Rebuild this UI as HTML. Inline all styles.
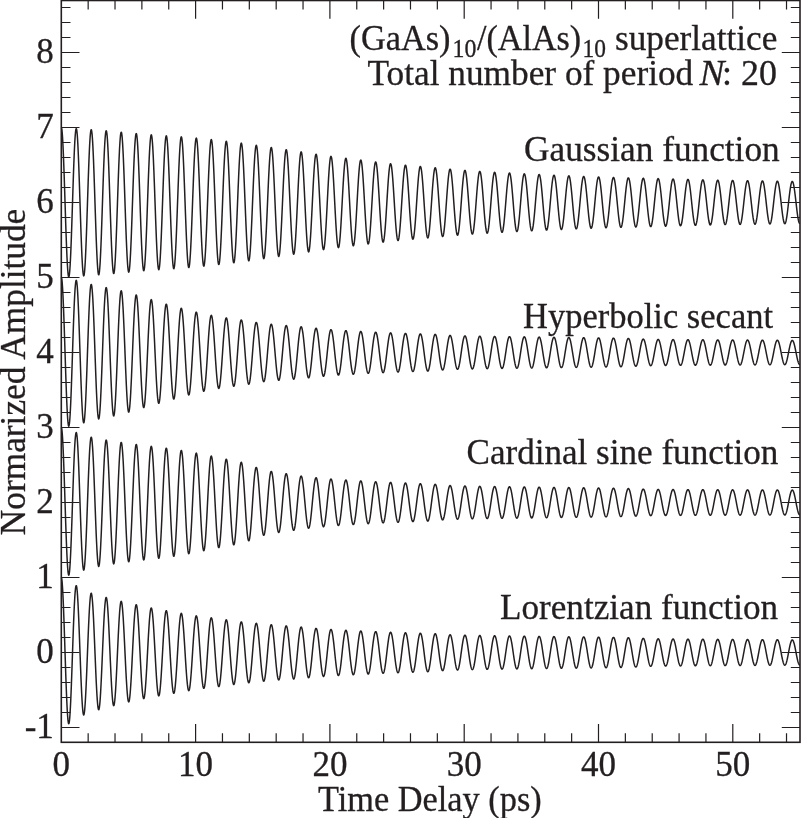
<!DOCTYPE html>
<html><head><meta charset="utf-8"><style>
html,body{margin:0;padding:0;background:#fff;}
svg{display:block;}
text{font-family:"Liberation Serif","Times New Roman",serif;fill:#231f20;stroke:#231f20;stroke-width:0.3px;}
</style></head><body>
<svg width="801" height="818" viewBox="0 0 801 818">
<rect width="801" height="818" fill="#fff"/>
<g fill="none" stroke="#231f20" stroke-width="1.5" stroke-linejoin="round"><polyline points="61.30,127.50 61.55,127.92 61.79,129.13 62.04,131.13 62.29,133.88 62.53,137.38 62.78,141.56 63.02,146.40 63.27,151.83 63.52,157.81 63.76,164.26 64.01,171.11 64.26,178.30 64.50,185.74 64.75,193.36 64.99,201.07 65.24,208.80 65.49,216.45 65.73,223.95 65.98,231.22 66.23,238.17 66.47,244.75 66.72,250.86 66.96,256.46 67.21,261.48 67.46,265.87 67.70,269.57 67.95,272.56 68.20,274.80 68.44,276.26 68.69,276.93 68.94,276.81 69.18,275.90 69.43,274.19 69.67,271.73 69.92,268.52 70.17,264.62 70.41,260.05 70.66,254.86 70.91,249.12 71.15,242.89 71.40,236.22 71.64,229.20 71.89,221.90 72.14,214.39 72.38,206.76 72.63,199.08 72.88,191.45 73.12,183.94 73.37,176.63 73.61,169.60 73.86,162.93 74.11,156.68 74.35,150.93 74.60,145.73 74.85,141.13 75.09,137.20 75.34,133.96 75.59,131.46 75.83,129.72 76.08,128.76 76.32,128.58 76.57,129.19 76.82,130.59 77.06,132.76 77.31,135.66 77.56,139.28 77.80,143.58 78.05,148.50 78.29,153.99 78.54,160.01 78.79,166.47 79.03,173.31 79.28,180.46 79.53,187.84 79.77,195.38 80.02,202.99 80.27,210.58 80.51,218.09 80.76,225.43 81.00,232.52 81.25,239.29 81.50,245.66 81.74,251.56 81.99,256.94 82.24,261.74 82.48,265.90 82.73,269.38 82.97,272.15 83.22,274.17 83.47,275.42 83.71,275.90 83.96,275.59 84.21,274.51 84.45,272.65 84.70,270.05 84.94,266.73 85.19,262.72 85.44,258.08 85.68,252.84 85.93,247.07 86.18,240.83 86.42,234.18 86.67,227.19 86.92,219.95 87.16,212.52 87.41,205.00 87.65,197.44 87.90,189.95 88.15,182.59 88.39,175.45 88.64,168.61 88.89,162.12 89.13,156.07 89.38,150.52 89.62,145.53 89.87,141.15 90.12,137.42 90.36,134.39 90.61,132.08 90.86,130.53 91.10,129.75 91.35,129.74 91.59,130.51 91.84,132.05 92.09,134.33 92.33,137.34 92.58,141.04 92.83,145.40 93.07,150.36 93.32,155.88 93.57,161.89 93.81,168.33 94.06,175.13 94.30,182.21 94.55,189.51 94.80,196.95 95.04,204.44 95.29,211.91 95.54,219.27 95.78,226.45 96.03,233.37 96.27,239.96 96.52,246.15 96.77,251.86 97.01,257.06 97.26,261.66 97.51,265.64 97.75,268.94 98.00,271.53 98.24,273.38 98.49,274.48 98.74,274.82 98.98,274.38 99.23,273.18 99.48,271.23 99.72,268.54 99.97,265.16 100.22,261.11 100.46,256.44 100.71,251.19 100.95,245.43 101.20,239.22 101.45,232.62 101.69,225.70 101.94,218.54 102.19,211.22 102.43,203.80 102.68,196.38 102.92,189.02 103.17,181.81 103.42,174.82 103.66,168.14 103.91,161.82 104.16,155.94 104.40,150.55 104.65,145.72 104.89,141.50 105.14,137.93 105.39,135.05 105.63,132.89 105.88,131.46 106.13,130.80 106.37,130.89 106.62,131.75 106.87,133.36 107.11,135.70 107.36,138.76 107.60,142.48 107.85,146.85 108.10,151.80 108.34,157.29 108.59,163.25 108.84,169.63 109.08,176.35 109.33,183.35 109.57,190.55 109.82,197.87 110.07,205.23 110.31,212.56 110.56,219.78 110.81,226.81 111.05,233.57 111.30,240.01 111.54,246.04 111.79,251.60 112.04,256.64 112.28,261.10 112.53,264.93 112.78,268.10 113.02,270.57 113.27,272.32 113.52,273.32 113.76,273.57 114.01,273.07 114.25,271.81 114.50,269.83 114.75,267.12 114.99,263.74 115.24,259.71 115.49,255.07 115.73,249.87 115.98,244.18 116.22,238.05 116.47,231.55 116.72,224.74 116.96,217.70 117.21,210.51 117.46,203.23 117.70,195.95 117.95,188.75 118.20,181.70 118.44,174.87 118.69,168.34 118.93,162.18 119.18,156.45 119.43,151.21 119.67,146.52 119.92,142.43 120.17,138.97 120.41,136.20 120.66,134.13 120.90,132.78 121.15,132.18 121.40,132.32 121.64,133.20 121.89,134.83 122.14,137.16 122.38,140.19 122.63,143.88 122.87,148.19 123.12,153.07 123.37,158.47 123.61,164.33 123.86,170.60 124.11,177.20 124.35,184.06 124.60,191.12 124.85,198.29 125.09,205.50 125.34,212.67 125.58,219.73 125.83,226.60 126.08,233.21 126.32,239.49 126.57,245.38 126.82,250.81 127.06,255.72 127.31,260.06 127.55,263.79 127.80,266.87 128.05,269.26 128.29,270.94 128.54,271.90 128.79,272.12 129.03,271.60 129.28,270.35 129.52,268.38 129.77,265.71 130.02,262.38 130.26,258.41 130.51,253.86 130.76,248.76 131.00,243.18 131.25,237.17 131.50,230.79 131.74,224.12 131.99,217.23 132.23,210.18 132.48,203.06 132.73,195.93 132.97,188.88 133.22,181.98 133.47,175.31 133.71,168.92 133.96,162.89 134.20,157.29 134.45,152.17 134.70,147.59 134.94,143.59 135.19,140.22 135.44,137.52 135.68,135.50 135.93,134.19 136.17,133.61 136.42,133.76 136.67,134.63 136.91,136.23 137.16,138.52 137.41,141.50 137.65,145.12 137.90,149.34 138.15,154.12 138.39,159.42 138.64,165.16 138.88,171.30 139.13,177.77 139.38,184.49 139.62,191.40 139.87,198.42 140.12,205.48 140.36,212.51 140.61,219.42 140.85,226.16 141.10,232.63 141.35,238.79 141.59,244.55 141.84,249.87 142.09,254.68 142.33,258.93 142.58,262.59 142.82,265.60 143.07,267.95 143.32,269.60 143.56,270.53 143.81,270.75 144.06,270.24 144.30,269.02 144.55,267.09 144.80,264.48 145.04,261.22 145.29,257.33 145.53,252.86 145.78,247.87 146.03,242.39 146.27,236.50 146.52,230.25 146.77,223.71 147.01,216.95 147.26,210.04 147.50,203.05 147.75,196.07 148.00,189.15 148.24,182.38 148.49,175.83 148.74,169.56 148.98,163.65 149.23,158.15 149.47,153.12 149.72,148.62 149.97,144.69 150.21,141.38 150.46,138.72 150.71,136.73 150.95,135.44 151.20,134.87 151.45,135.01 151.69,135.86 151.94,137.42 152.18,139.67 152.43,142.59 152.68,146.14 152.92,150.28 153.17,154.97 153.42,160.17 153.66,165.81 153.91,171.84 154.15,178.19 154.40,184.79 154.65,191.58 154.89,198.48 155.14,205.42 155.39,212.32 155.63,219.12 155.88,225.74 156.13,232.11 156.37,238.16 156.62,243.83 156.86,249.06 157.11,253.80 157.36,257.99 157.60,261.58 157.85,264.55 158.10,266.87 158.34,268.49 158.59,269.42 158.83,269.64 159.08,269.14 159.33,267.94 159.57,266.05 159.82,263.48 160.07,260.27 160.31,256.45 160.56,252.06 160.80,247.14 161.05,241.75 161.30,235.95 161.54,229.80 161.79,223.36 162.04,216.70 162.28,209.90 162.53,203.02 162.78,196.13 163.02,189.32 163.27,182.65 163.51,176.20 163.76,170.02 164.01,164.20 164.25,158.78 164.50,153.83 164.75,149.39 164.99,145.53 165.24,142.26 165.48,139.64 165.73,137.69 165.98,136.43 166.22,135.86 166.47,136.01 166.72,136.86 166.96,138.40 167.21,140.63 167.45,143.51 167.70,147.01 167.95,151.10 168.19,155.73 168.44,160.86 168.69,166.43 168.93,172.38 169.18,178.64 169.43,185.16 169.67,191.85 169.92,198.66 170.16,205.50 170.41,212.31 170.66,219.01 170.90,225.53 171.15,231.81 171.40,237.77 171.64,243.35 171.89,248.50 172.13,253.16 172.38,257.28 172.63,260.81 172.87,263.73 173.12,265.99 173.37,267.58 173.61,268.47 173.86,268.67 174.10,268.16 174.35,266.96 174.60,265.07 174.84,262.52 175.09,259.33 175.34,255.54 175.58,251.19 175.83,246.33 176.08,241.00 176.32,235.26 176.57,229.18 176.81,222.82 177.06,216.25 177.31,209.53 177.55,202.74 177.80,195.96 178.05,189.24 178.29,182.67 178.54,176.31 178.78,170.24 179.03,164.51 179.28,159.19 179.52,154.33 179.77,149.98 180.02,146.20 180.26,143.01 180.51,140.46 180.75,138.57 181.00,137.36 181.25,136.84 181.49,137.02 181.74,137.90 181.99,139.46 182.23,141.69 182.48,144.57 182.73,148.06 182.97,152.13 183.22,156.73 183.46,161.82 183.71,167.33 183.96,173.22 184.20,179.41 184.45,185.85 184.70,192.46 184.94,199.17 185.19,205.91 185.43,212.62 185.68,219.21 185.93,225.62 186.17,231.78 186.42,237.63 186.67,243.09 186.91,248.13 187.16,252.67 187.40,256.68 187.65,260.11 187.90,262.93 188.14,265.10 188.39,266.60 188.64,267.43 188.88,267.55 189.13,266.99 189.38,265.74 189.62,263.82 189.87,261.25 190.11,258.05 190.36,254.27 190.61,249.93 190.85,245.10 191.10,239.81 191.35,234.13 191.59,228.12 191.84,221.84 192.08,215.36 192.33,208.74 192.58,202.06 192.82,195.40 193.07,188.81 193.32,182.37 193.56,176.15 193.81,170.22 194.06,164.63 194.30,159.45 194.55,154.73 194.79,150.52 195.04,146.87 195.29,143.82 195.53,141.39 195.78,139.61 196.03,138.50 196.27,138.07 196.52,138.33 196.76,139.27 197.01,140.88 197.26,143.15 197.50,146.05 197.75,149.54 198.00,153.60 198.24,158.17 198.49,163.21 198.73,168.67 198.98,174.48 199.23,180.59 199.47,186.92 199.72,193.41 199.97,200.00 200.21,206.61 200.46,213.17 200.71,219.61 200.95,225.86 201.20,231.87 201.44,237.55 201.69,242.86 201.94,247.73 202.18,252.12 202.43,255.98 202.68,259.27 202.92,261.95 203.17,263.99 203.41,265.39 203.66,266.11 203.91,266.15 204.15,265.52 204.40,264.22 204.65,262.26 204.89,259.67 205.14,256.47 205.38,252.71 205.63,248.41 205.88,243.62 206.12,238.41 206.37,232.81 206.62,226.90 206.86,220.74 207.11,214.38 207.36,207.90 207.60,201.37 207.85,194.86 208.09,188.44 208.34,182.17 208.59,176.12 208.83,170.36 209.08,164.94 209.33,159.92 209.57,155.37 209.82,151.31 210.06,147.81 210.31,144.89 210.56,142.58 210.80,140.92 211.05,139.91 211.30,139.56 211.54,139.88 211.79,140.87 212.03,142.52 212.28,144.80 212.53,147.69 212.77,151.16 213.02,155.17 213.27,159.69 213.51,164.65 213.76,170.02 214.01,175.72 214.25,181.70 214.50,187.90 214.74,194.25 214.99,200.68 215.24,207.13 215.48,213.52 215.73,219.79 215.98,225.87 216.22,231.69 216.47,237.20 216.71,242.34 216.96,247.05 217.21,251.28 217.45,254.98 217.70,258.13 217.95,260.69 218.19,262.62 218.44,263.91 218.68,264.55 218.93,264.53 219.18,263.85 219.42,262.51 219.67,260.54 219.92,257.96 220.16,254.79 220.41,251.07 220.66,246.83 220.90,242.12 221.15,237.00 221.39,231.52 221.64,225.73 221.89,219.71 222.13,213.50 222.38,207.18 222.63,200.82 222.87,194.49 223.12,188.24 223.36,182.15 223.61,176.29 223.86,170.70 224.10,165.46 224.35,160.62 224.60,156.23 224.84,152.34 225.09,148.98 225.33,146.19 225.58,144.00 225.83,142.44 226.07,141.52 226.32,141.25 226.57,141.62 226.81,142.65 227.06,144.31 227.31,146.59 227.55,149.45 227.80,152.88 228.04,156.84 228.29,161.27 228.54,166.14 228.78,171.40 229.03,176.97 229.28,182.82 229.52,188.86 229.77,195.05 230.01,201.31 230.26,207.57 230.51,213.78 230.75,219.86 231.00,225.75 231.25,231.39 231.49,236.71 231.74,241.66 231.99,246.20 232.23,250.26 232.48,253.82 232.72,256.82 232.97,259.25 233.22,261.06 233.46,262.26 233.71,262.81 233.96,262.73 234.20,262.01 234.45,260.65 234.69,258.68 234.94,256.11 235.19,252.97 235.43,249.30 235.68,245.14 235.93,240.52 236.17,235.51 236.42,230.15 236.66,224.51 236.91,218.63 237.16,212.59 237.40,206.45 237.65,200.27 237.90,194.13 238.14,188.07 238.39,182.18 238.64,176.51 238.88,171.13 239.13,166.08 239.37,161.42 239.62,157.21 239.87,153.48 240.11,150.28 240.36,147.64 240.61,145.58 240.85,144.13 241.10,143.31 241.34,143.11 241.59,143.55 241.84,144.61 242.08,146.29 242.33,148.56 242.58,151.40 242.82,154.79 243.07,158.68 243.31,163.03 243.56,167.80 243.81,172.92 244.05,178.36 244.30,184.05 244.55,189.93 244.79,195.93 245.04,202.00 245.29,208.07 245.53,214.07 245.78,219.94 246.02,225.61 246.27,231.04 246.52,236.15 246.76,240.90 247.01,245.23 247.26,249.11 247.50,252.48 247.75,255.32 247.99,257.59 248.24,259.28 248.49,260.35 248.73,260.82 248.98,260.65 249.23,259.87 249.47,258.49 249.72,256.50 249.96,253.95 250.21,250.85 250.46,247.24 250.70,243.16 250.95,238.65 251.20,233.76 251.44,228.54 251.69,223.06 251.94,217.36 252.18,211.51 252.43,205.57 252.67,199.61 252.92,193.68 253.17,187.86 253.41,182.20 253.66,176.76 253.91,171.61 254.15,166.79 254.40,162.35 254.64,158.35 254.89,154.82 255.14,151.81 255.38,149.34 255.63,147.43 255.88,146.12 256.12,145.41 256.37,145.30 256.61,145.81 256.86,146.92 257.11,148.62 257.35,150.89 257.60,153.71 257.85,157.04 258.09,160.86 258.34,165.11 258.59,169.76 258.83,174.75 259.08,180.03 259.32,185.54 259.57,191.23 259.82,197.03 260.06,202.88 260.31,208.72 260.56,214.48 260.80,220.11 261.05,225.55 261.29,230.73 261.54,235.61 261.79,240.13 262.03,244.24 262.28,247.90 262.53,251.07 262.77,253.73 263.02,255.83 263.26,257.36 263.51,258.30 263.76,258.65 264.00,258.40 264.25,257.56 264.50,256.12 264.74,254.12 264.99,251.57 265.24,248.50 265.48,244.94 265.73,240.94 265.97,236.53 266.22,231.76 266.47,226.69 266.71,221.37 266.96,215.85 267.21,210.19 267.45,204.46 267.70,198.72 267.94,193.02 268.19,187.44 268.44,182.02 268.68,176.82 268.93,171.91 269.18,167.33 269.42,163.13 269.67,159.35 269.92,156.05 270.16,153.24 270.41,150.96 270.65,149.23 270.90,148.07 271.15,147.50 271.39,147.51 271.64,148.11 271.89,149.29 272.13,151.04 272.38,153.34 272.62,156.15 272.87,159.46 273.12,163.22 273.36,167.40 273.61,171.94 273.86,176.81 274.10,181.94 274.35,187.29 274.59,192.79 274.84,198.39 275.09,204.02 275.33,209.63 275.58,215.16 275.83,220.55 276.07,225.73 276.32,230.66 276.57,235.28 276.81,239.55 277.06,243.41 277.30,246.84 277.55,249.78 277.80,252.22 278.04,254.12 278.29,255.46 278.54,256.24 278.78,256.44 279.03,256.07 279.27,255.13 279.52,253.62 279.77,251.57 280.01,249.00 280.26,245.93 280.51,242.40 280.75,238.46 281.00,234.13 281.24,229.47 281.49,224.53 281.74,219.36 281.98,214.01 282.23,208.56 282.48,203.04 282.72,197.52 282.97,192.07 283.22,186.74 283.46,181.58 283.71,176.65 283.95,172.00 284.20,167.69 284.45,163.76 284.69,160.24 284.94,157.18 285.19,154.62 285.43,152.56 285.68,151.05 285.92,150.08 286.17,149.68 286.42,149.85 286.66,150.58 286.91,151.86 287.16,153.68 287.40,156.03 287.65,158.86 287.89,162.17 288.14,165.89 288.39,170.01 288.63,174.47 288.88,179.22 289.13,184.21 289.37,189.39 289.62,194.71 289.87,200.10 290.11,205.51 290.36,210.89 290.60,216.16 290.85,221.28 291.10,226.19 291.34,230.84 291.59,235.19 291.84,239.17 292.08,242.76 292.33,245.91 292.57,248.59 292.82,250.77 293.07,252.44 293.31,253.56 293.56,254.14 293.81,254.16 294.05,253.63 294.30,252.55 294.54,250.94 294.79,248.80 295.04,246.18 295.28,243.09 295.53,239.57 295.78,235.66 296.02,231.39 296.27,226.83 296.52,222.00 296.76,216.98 297.01,211.81 297.25,206.54 297.50,201.24 297.75,195.96 297.99,190.76 298.24,185.69 298.49,180.81 298.73,176.17 298.98,171.81 299.22,167.80 299.47,164.16 299.72,160.94 299.96,158.17 300.21,155.88 300.46,154.09 300.70,152.83 300.95,152.10 301.19,151.91 301.44,152.27 301.69,153.16 301.93,154.59 302.18,156.53 302.43,158.96 302.67,161.85 302.92,165.18 303.17,168.90 303.41,172.97 303.66,177.36 303.90,182.01 304.15,186.88 304.40,191.91 304.64,197.04 304.89,202.22 305.14,207.40 305.38,212.52 305.63,217.52 305.87,222.35 306.12,226.96 306.37,231.30 306.61,235.33 306.86,238.99 307.11,242.26 307.35,245.10 307.60,247.47 307.85,249.35 308.09,250.73 308.34,251.59 308.58,251.92 308.83,251.72 309.08,250.98 309.32,249.73 309.57,247.97 309.82,245.73 310.06,243.02 310.31,239.89 310.55,236.35 310.80,232.46 311.05,228.25 311.29,223.77 311.54,219.07 311.79,214.20 312.03,209.21 312.28,204.16 312.52,199.10 312.77,194.08 313.02,189.15 313.26,184.39 313.51,179.82 313.76,175.50 314.00,171.48 314.25,167.80 314.50,164.50 314.74,161.61 314.99,159.17 315.23,157.20 315.48,155.71 315.73,154.73 315.97,154.27 316.22,154.33 316.47,154.90 316.71,155.99 316.96,157.57 317.20,159.64 317.45,162.16 317.70,165.11 317.94,168.47 318.19,172.18 318.44,176.21 318.68,180.52 318.93,185.06 319.17,189.78 319.42,194.63 319.67,199.55 319.91,204.50 320.16,209.43 320.41,214.27 320.65,218.97 320.90,223.49 321.15,227.78 321.39,231.79 321.64,235.48 321.88,238.81 322.13,241.74 322.38,244.25 322.62,246.30 322.87,247.88 323.12,248.97 323.36,249.56 323.61,249.64 323.85,249.21 324.10,248.28 324.35,246.86 324.59,244.97 324.84,242.62 325.09,239.84 325.33,236.66 325.58,233.12 325.82,229.26 326.07,225.12 326.32,220.73 326.56,216.16 326.81,211.45 327.06,206.65 327.30,201.81 327.55,196.99 327.80,192.23 328.04,187.59 328.29,183.11 328.53,178.86 328.78,174.86 329.03,171.17 329.27,167.81 329.52,164.84 329.77,162.28 330.01,160.15 330.26,158.48 330.50,157.29 330.75,156.58 331.00,156.38 331.24,156.66 331.49,157.44 331.74,158.71 331.98,160.44 332.23,162.63 332.47,165.24 332.72,168.25 332.97,171.62 333.21,175.32 333.46,179.30 333.71,183.54 333.95,187.96 334.20,192.54 334.45,197.22 334.69,201.96 334.94,206.68 335.18,211.36 335.43,215.94 335.68,220.36 335.92,224.59 336.17,228.57 336.42,232.27 336.66,235.64 336.91,238.65 337.15,241.27 337.40,243.46 337.65,245.22 337.89,246.50 338.14,247.32 338.39,247.65 338.63,247.49 338.88,246.85 339.13,245.73 339.37,244.15 339.62,242.12 339.86,239.67 340.11,236.82 340.36,233.61 340.60,230.06 340.85,226.23 341.10,222.14 341.34,217.85 341.59,213.40 341.83,208.83 342.08,204.21 342.33,199.57 342.57,194.97 342.82,190.46 343.07,186.08 343.31,181.89 343.56,177.92 343.80,174.23 344.05,170.84 344.30,167.80 344.54,165.14 344.79,162.88 345.04,161.05 345.28,159.68 345.53,158.76 345.78,158.32 346.02,158.35 346.27,158.86 346.51,159.84 346.76,161.28 347.01,163.16 347.25,165.46 347.50,168.15 347.75,171.22 347.99,174.61 348.24,178.30 348.48,182.25 348.73,186.41 348.98,190.73 349.22,195.18 349.47,199.70 349.72,204.25 349.96,208.77 350.21,213.21 350.45,217.53 350.70,221.69 350.95,225.64 351.19,229.32 351.44,232.72 351.69,235.79 351.93,238.49 352.18,240.80 352.43,242.69 352.67,244.15 352.92,245.16 353.16,245.71 353.41,245.79 353.66,245.41 353.90,244.56 354.15,243.26 354.40,241.53 354.64,239.37 354.89,236.83 355.13,233.91 355.38,230.66 355.63,227.11 355.87,223.30 356.12,219.28 356.37,215.07 356.61,210.74 356.86,206.33 357.10,201.88 357.35,197.44 357.60,193.06 357.84,188.79 358.09,184.68 358.34,180.76 358.58,177.08 358.83,173.68 359.08,170.60 359.32,167.86 359.57,165.50 359.81,163.55 360.06,162.01 360.31,160.92 360.55,160.27 360.80,160.08 361.05,160.35 361.29,161.07 361.54,162.24 361.78,163.84 362.03,165.85 362.28,168.26 362.52,171.03 362.77,174.14 363.02,177.55 363.26,181.22 363.51,185.11 363.75,189.19 364.00,193.41 364.25,197.71 364.49,202.07 364.74,206.42 364.99,210.72 365.23,214.92 365.48,218.99 365.73,222.88 365.97,226.53 366.22,229.93 366.46,233.02 366.71,235.78 366.96,238.18 367.20,240.18 367.45,241.78 367.70,242.96 367.94,243.69 368.19,243.98 368.43,243.83 368.68,243.22 368.93,242.18 369.17,240.72 369.42,238.84 369.67,236.58 369.91,233.95 370.16,230.98 370.40,227.72 370.65,224.18 370.90,220.42 371.14,216.47 371.39,212.38 371.64,208.18 371.88,203.93 372.13,199.67 372.38,195.45 372.62,191.31 372.87,187.30 373.11,183.45 373.36,179.82 373.61,176.44 373.85,173.34 374.10,170.56 374.35,168.13 374.59,166.08 374.84,164.42 375.08,163.17 375.33,162.35 375.58,161.96 375.82,162.01 376.07,162.50 376.32,163.42 376.56,164.75 376.81,166.50 377.06,168.63 377.30,171.12 377.55,173.94 377.79,177.07 378.04,180.47 378.29,184.10 378.53,187.92 378.78,191.90 379.03,195.98 379.27,200.13 379.52,204.30 379.76,208.44 380.01,212.51 380.26,216.47 380.50,220.27 380.75,223.87 381.00,227.24 381.24,230.34 381.49,233.13 381.73,235.59 381.98,237.68 382.23,239.40 382.47,240.71 382.72,241.61 382.97,242.09 383.21,242.14 383.46,241.76 383.71,240.96 383.95,239.75 384.20,238.13 384.44,236.14 384.69,233.78 384.94,231.09 385.18,228.10 385.43,224.83 385.68,221.33 385.92,217.63 386.17,213.78 386.41,209.80 386.66,205.76 386.91,201.68 387.15,197.62 387.40,193.62 387.65,189.72 387.89,185.96 388.14,182.38 388.38,179.03 388.63,175.94 388.88,173.13 389.12,170.65 389.37,168.51 389.62,166.75 389.86,165.37 390.11,164.39 390.36,163.83 390.60,163.68 390.85,163.95 391.09,164.64 391.34,165.73 391.59,167.22 391.83,169.09 392.08,171.32 392.33,173.88 392.57,176.74 392.82,179.88 393.06,183.26 393.31,186.84 393.56,190.59 393.80,194.45 394.05,198.41 394.30,202.40 394.54,206.38 394.79,210.32 395.03,214.17 395.28,217.89 395.53,221.44 395.77,224.78 396.02,227.87 396.27,230.69 396.51,233.20 396.76,235.37 397.01,237.19 397.25,238.63 397.50,239.68 397.74,240.33 397.99,240.57 398.24,240.40 398.48,239.82 398.73,238.83 398.98,237.46 399.22,235.71 399.47,233.61 399.71,231.17 399.96,228.42 400.21,225.40 400.45,222.14 400.70,218.67 400.95,215.03 401.19,211.25 401.44,207.39 401.68,203.48 401.93,199.57 402.18,195.69 402.42,191.89 402.67,188.20 402.92,184.68 403.16,181.35 403.41,178.26 403.66,175.43 403.90,172.90 404.15,170.69 404.39,168.82 404.64,167.32 404.89,166.20 405.13,165.48 405.38,165.15 405.63,165.23 405.87,165.71 406.12,166.59 406.36,167.85 406.61,169.49 406.86,171.48 407.10,173.80 407.35,176.43 407.60,179.33 407.84,182.49 408.09,185.85 408.33,189.39 408.58,193.07 408.83,196.85 409.07,200.68 409.32,204.53 409.57,208.35 409.81,212.10 410.06,215.75 410.31,219.25 410.55,222.56 410.80,225.65 411.04,228.49 411.29,231.05 411.54,233.29 411.78,235.20 412.03,236.76 412.28,237.94 412.52,238.74 412.77,239.15 413.01,239.16 413.26,238.78 413.51,238.00 413.75,236.84 414.00,235.32 414.25,233.44 414.49,231.23 414.74,228.71 414.99,225.91 415.23,222.87 415.48,219.60 415.72,216.16 415.97,212.57 416.22,208.88 416.46,205.12 416.71,201.34 416.96,197.58 417.20,193.87 417.45,190.26 417.69,186.79 417.94,183.49 418.19,180.40 418.43,177.55 418.68,174.98 418.93,172.71 419.17,170.75 419.42,169.15 419.66,167.91 419.91,167.04 420.16,166.55 420.40,166.46 420.65,166.75 420.90,167.43 421.14,168.48 421.39,169.91 421.64,171.68 421.88,173.78 422.13,176.19 422.37,178.88 422.62,181.82 422.87,184.99 423.11,188.33 423.36,191.83 423.61,195.44 423.85,199.12 424.10,202.83 424.34,206.53 424.59,210.18 424.84,213.75 425.08,217.19 425.33,220.47 425.58,223.55 425.82,226.40 426.07,228.99 426.31,231.29 426.56,233.28 426.81,234.93 427.05,236.23 427.30,237.16 427.55,237.72 427.79,237.90 428.04,237.69 428.29,237.11 428.53,236.15 428.78,234.83 429.02,233.16 429.27,231.17 429.52,228.87 429.76,226.28 430.01,223.44 430.26,220.38 430.50,217.13 430.75,213.73 430.99,210.21 431.24,206.61 431.49,202.97 431.73,199.33 431.98,195.73 432.23,192.20 432.47,188.79 432.72,185.54 432.96,182.47 433.21,179.62 433.46,177.02 433.70,174.70 433.95,172.68 434.20,170.99 434.44,169.64 434.69,168.65 434.94,168.02 435.18,167.77 435.43,167.90 435.67,168.39 435.92,169.26 436.17,170.48 436.41,172.05 436.66,173.94 436.91,176.14 437.15,178.63 437.40,181.37 437.64,184.33 437.89,187.49 438.14,190.80 438.38,194.24 438.63,197.76 438.88,201.33 439.12,204.90 439.37,208.45 439.61,211.93 439.86,215.30 440.11,218.52 440.35,221.57 440.60,224.41 440.85,227.01 441.09,229.34 441.34,231.38 441.59,233.10 441.83,234.49 442.08,235.53 442.32,236.21 442.57,236.53 442.82,236.47 443.06,236.05 443.31,235.27 443.56,234.13 443.80,232.66 444.05,230.85 444.29,228.75 444.54,226.36 444.79,223.72 445.03,220.85 445.28,217.78 445.53,214.56 445.77,211.21 446.02,207.76 446.26,204.27 446.51,200.76 446.76,197.28 447.00,193.85 447.25,190.53 447.50,187.33 447.74,184.31 447.99,181.49 448.24,178.90 448.48,176.56 448.73,174.51 448.97,172.77 449.22,171.35 449.47,170.27 449.71,169.55 449.96,169.17 450.21,169.17 450.45,169.52 450.70,170.23 450.94,171.28 451.19,172.68 451.44,174.40 451.68,176.41 451.93,178.71 452.18,181.27 452.42,184.05 452.67,187.02 452.92,190.16 453.16,193.43 453.41,196.80 453.65,200.22 453.90,203.66 454.15,207.09 454.39,210.46 454.64,213.74 454.89,216.89 455.13,219.89 455.38,222.69 455.62,225.27 455.87,227.60 456.12,229.65 456.36,231.41 456.61,232.85 456.86,233.96 457.10,234.73 457.35,235.14 457.59,235.20 457.84,234.91 458.09,234.27 458.33,233.28 458.58,231.96 458.83,230.32 459.07,228.39 459.32,226.17 459.57,223.70 459.81,221.00 460.06,218.11 460.30,215.05 460.55,211.86 460.80,208.57 461.04,205.22 461.29,201.84 461.54,198.48 461.78,195.16 462.03,191.93 462.27,188.81 462.52,185.85 462.77,183.07 463.01,180.50 463.26,178.18 463.51,176.13 463.75,174.36 464.00,172.90 464.24,171.76 464.49,170.96 464.74,170.50 464.98,170.39 465.23,170.63 465.48,171.21 465.72,172.13 465.97,173.38 466.22,174.95 466.46,176.81 466.71,178.95 466.95,181.34 467.20,183.96 467.45,186.78 467.69,189.76 467.94,192.88 468.19,196.11 468.43,199.39 468.68,202.71 468.92,206.02 469.17,209.29 469.42,212.48 469.66,215.56 469.91,218.50 470.16,221.25 470.40,223.80 470.65,226.12 470.89,228.18 471.14,229.96 471.39,231.43 471.63,232.60 471.88,233.43 472.13,233.93 472.37,234.08 472.62,233.89 472.87,233.36 473.11,232.50 473.36,231.31 473.60,229.81 473.85,228.02 474.10,225.95 474.34,223.62 474.59,221.07 474.84,218.32 475.08,215.41 475.33,212.35 475.57,209.19 475.82,205.96 476.07,202.70 476.31,199.44 476.56,196.21 476.81,193.06 477.05,190.01 477.30,187.11 477.54,184.37 477.79,181.83 478.04,179.52 478.28,177.46 478.53,175.67 478.78,174.18 479.02,173.00 479.27,172.14 479.52,171.60 479.76,171.41 480.01,171.55 480.25,172.03 480.50,172.84 480.75,173.97 480.99,175.41 481.24,177.15 481.49,179.15 481.73,181.41 481.98,183.90 482.22,186.58 482.47,189.44 482.72,192.43 482.96,195.53 483.21,198.70 483.46,201.91 483.70,205.13 483.95,208.31 484.19,211.42 484.44,214.44 484.69,217.32 484.93,220.04 485.18,222.57 485.43,224.87 485.67,226.93 485.92,228.73 486.17,230.23 486.41,231.44 486.66,232.32 486.90,232.89 487.15,233.12 487.40,233.02 487.64,232.59 487.89,231.83 488.14,230.75 488.38,229.37 488.63,227.70 488.87,225.75 489.12,223.56 489.37,221.13 489.61,218.51 489.86,215.72 490.11,212.78 490.35,209.74 490.60,206.62 490.85,203.46 491.09,200.29 491.34,197.15 491.58,194.07 491.83,191.09 492.08,188.23 492.32,185.53 492.57,183.01 492.82,180.71 493.06,178.65 493.31,176.85 493.55,175.33 493.80,174.10 494.05,173.19 494.29,172.59 494.54,172.32 494.79,172.38 495.03,172.76 495.28,173.47 495.52,174.49 495.77,175.82 496.02,177.43 496.26,179.31 496.51,181.45 496.76,183.81 497.00,186.37 497.25,189.11 497.50,191.99 497.74,194.98 497.99,198.05 498.23,201.16 498.48,204.29 498.73,207.39 498.97,210.44 499.22,213.40 499.47,216.24 499.71,218.93 499.96,221.44 500.20,223.74 500.45,225.81 500.70,227.62 500.94,229.16 501.19,230.41 501.44,231.35 501.68,231.98 501.93,232.29 502.17,232.28 502.42,231.94 502.67,231.29 502.91,230.32 503.16,229.05 503.41,227.49 503.65,225.67 503.90,223.59 504.15,221.28 504.39,218.78 504.64,216.10 504.88,213.27 505.13,210.33 505.38,207.31 505.62,204.23 505.87,201.14 506.12,198.07 506.36,195.05 506.61,192.11 506.85,189.29 507.10,186.61 507.35,184.11 507.59,181.80 507.84,179.73 508.09,177.90 508.33,176.35 508.58,175.07 508.82,174.10 509.07,173.44 509.32,173.09 509.56,173.06 509.81,173.35 510.06,173.96 510.30,174.87 510.55,176.09 510.80,177.59 511.04,179.36 511.29,181.38 511.53,183.62 511.78,186.07 512.03,188.70 512.27,191.47 512.52,194.36 512.77,197.33 513.01,200.36 513.26,203.41 513.50,206.45 513.75,209.44 514.00,212.35 514.24,215.15 514.49,217.81 514.74,220.31 514.98,222.61 515.23,224.68 515.47,226.52 515.72,228.09 515.97,229.39 516.21,230.39 516.46,231.08 516.71,231.47 516.95,231.54 517.20,231.30 517.45,230.74 517.69,229.88 517.94,228.72 518.18,227.27 518.43,225.56 518.68,223.61 518.92,221.42 519.17,219.03 519.42,216.46 519.66,213.75 519.91,210.91 520.15,207.99 520.40,205.01 520.65,202.00 520.89,199.01 521.14,196.05 521.39,193.17 521.63,190.39 521.88,187.74 522.12,185.26 522.37,182.97 522.62,180.89 522.86,179.04 523.11,177.46 523.36,176.14 523.60,175.12 523.85,174.39 524.10,173.97 524.34,173.86 524.59,174.06 524.83,174.56 525.08,175.37 525.33,176.48 525.57,177.87 525.82,179.52 526.07,181.42 526.31,183.55 526.56,185.88 526.80,188.39 527.05,191.05 527.30,193.84 527.54,196.71 527.79,199.65 528.04,202.62 528.28,205.58 528.53,208.51 528.78,211.36 529.02,214.12 529.27,216.76 529.51,219.23 529.76,221.52 530.01,223.61 530.25,225.46 530.50,227.06 530.75,228.39 530.99,229.44 531.24,230.20 531.48,230.66 531.73,230.81 531.98,230.65 532.22,230.19 532.47,229.42 532.72,228.37 532.96,227.03 533.21,225.43 533.45,223.58 533.70,221.50 533.95,219.22 534.19,216.76 534.44,214.14 534.69,211.40 534.93,208.57 535.18,205.67 535.43,202.74 535.67,199.81 535.92,196.91 536.16,194.07 536.41,191.33 536.66,188.71 536.90,186.24 537.15,183.96 537.40,181.87 537.64,180.01 537.89,178.40 538.13,177.05 538.38,175.97 538.63,175.19 538.87,174.70 539.12,174.52 539.37,174.64 539.61,175.06 539.86,175.79 540.10,176.80 540.35,178.08 540.60,179.64 540.84,181.44 541.09,183.47 541.34,185.70 541.58,188.11 541.83,190.68 542.08,193.37 542.32,196.16 542.57,199.02 542.81,201.91 543.06,204.81 543.31,207.68 543.55,210.49 543.80,213.21 544.05,215.81 544.29,218.26 544.54,220.55 544.78,222.63 545.03,224.49 545.28,226.11 545.52,227.48 545.77,228.57 546.02,229.38 546.26,229.89 546.51,230.11 546.75,230.02 547.00,229.64 547.25,228.97 547.49,228.00 547.74,226.76 547.99,225.26 548.23,223.51 548.48,221.54 548.73,219.36 548.97,217.00 549.22,214.48 549.46,211.84 549.71,209.09 549.96,206.28 550.20,203.43 550.45,200.57 550.70,197.74 550.94,194.96 551.19,192.26 551.43,189.68 551.68,187.24 551.93,184.96 552.17,182.88 552.42,181.02 552.67,179.38 552.91,178.00 553.16,176.89 553.40,176.06 553.65,175.51 553.90,175.26 554.14,175.30 554.39,175.64 554.64,176.27 554.88,177.19 555.13,178.37 555.38,179.82 555.62,181.52 555.87,183.44 556.11,185.56 556.36,187.87 556.61,190.34 556.85,192.93 557.10,195.63 557.35,198.40 557.59,201.21 557.84,204.04 558.08,206.84 558.33,209.60 558.58,212.27 558.82,214.84 559.07,217.27 559.32,219.55 559.56,221.63 559.81,223.51 560.06,225.15 560.30,226.55 560.55,227.69 560.79,228.55 561.04,229.13 561.29,229.42 561.53,229.42 561.78,229.12 562.03,228.54 562.27,227.67 562.52,226.54 562.76,225.14 563.01,223.50 563.26,221.63 563.50,219.55 563.75,217.30 564.00,214.88 564.24,212.33 564.49,209.68 564.73,206.94 564.98,204.17 565.23,201.38 565.47,198.60 565.72,195.86 565.97,193.20 566.21,190.65 566.46,188.22 566.71,185.95 566.95,183.86 567.20,181.97 567.44,180.31 567.69,178.89 567.94,177.73 568.18,176.84 568.43,176.22 568.68,175.89 568.92,175.85 569.17,176.10 569.41,176.64 569.66,177.45 569.91,178.54 570.15,179.88 570.40,181.47 570.65,183.28 570.89,185.31 571.14,187.51 571.38,189.88 571.63,192.38 571.88,194.99 572.12,197.68 572.37,200.42 572.62,203.18 572.86,205.93 573.11,208.64 573.36,211.29 573.60,213.83 573.85,216.25 574.09,218.52 574.34,220.62 574.59,222.51 574.83,224.19 575.08,225.63 575.33,226.82 575.57,227.75 575.82,228.40 576.06,228.77 576.31,228.86 576.56,228.66 576.80,228.18 577.05,227.42 577.30,226.39 577.54,225.10 577.79,223.57 578.03,221.81 578.28,219.85 578.53,217.70 578.77,215.39 579.02,212.93 579.27,210.37 579.51,207.73 579.76,205.03 580.01,202.30 580.25,199.58 580.50,196.89 580.74,194.27 580.99,191.73 581.24,189.32 581.48,187.05 581.73,184.95 581.98,183.04 582.22,181.34 582.47,179.87 582.71,178.65 582.96,177.68 583.21,176.99 583.45,176.57 583.70,176.43 583.95,176.58 584.19,177.00 584.44,177.70 584.68,178.67 584.93,179.89 585.18,181.36 585.42,183.06 585.67,184.96 585.92,187.05 586.16,189.31 586.41,191.71 586.66,194.22 586.90,196.82 587.15,199.48 587.39,202.17 587.64,204.86 587.89,207.52 588.13,210.13 588.38,212.66 588.63,215.07 588.87,217.34 589.12,219.46 589.36,221.38 589.61,223.11 589.86,224.61 590.10,225.86 590.35,226.87 590.60,227.61 590.84,228.08 591.09,228.28 591.33,228.19 591.58,227.83 591.83,227.20 592.07,226.30 592.32,225.14 592.57,223.74 592.81,222.11 593.06,220.27 593.31,218.24 593.55,216.04 593.80,213.70 594.04,211.24 594.29,208.68 594.54,206.06 594.78,203.41 595.03,200.74 595.28,198.10 595.52,195.51 595.77,192.99 596.01,190.58 596.26,188.30 596.51,186.17 596.75,184.22 597.00,182.47 597.25,180.94 597.49,179.64 597.74,178.59 597.99,177.79 598.23,177.27 598.48,177.01 598.72,177.03 598.97,177.33 599.22,177.90 599.46,178.73 599.71,179.82 599.96,181.15 600.20,182.72 600.45,184.49 600.69,186.46 600.94,188.60 601.19,190.88 601.43,193.30 601.68,195.81 601.93,198.38 602.17,201.01 602.42,203.64 602.66,206.27 602.91,208.85 603.16,211.36 603.40,213.77 603.65,216.06 603.90,218.20 604.14,220.17 604.39,221.95 604.64,223.52 604.88,224.86 605.13,225.95 605.37,226.80 605.62,227.38 605.87,227.69 606.11,227.73 606.36,227.50 606.61,227.00 606.85,226.24 607.10,225.22 607.34,223.95 607.59,222.46 607.84,220.75 608.08,218.85 608.33,216.77 608.58,214.53 608.82,212.17 609.07,209.71 609.31,207.17 609.56,204.58 609.81,201.97 610.05,199.37 610.30,196.80 610.55,194.30 610.79,191.89 611.04,189.59 611.29,187.43 611.53,185.44 611.78,183.63 612.02,182.03 612.27,180.65 612.52,179.50 612.76,178.61 613.01,177.97 613.26,177.59 613.50,177.49 613.75,177.65 613.99,178.09 614.24,178.78 614.49,179.73 614.73,180.93 614.98,182.35 615.23,184.00 615.47,185.84 615.72,187.86 615.96,190.04 616.21,192.35 616.46,194.77 616.70,197.27 616.95,199.83 617.20,202.41 617.44,204.99 617.69,207.55 617.94,210.05 618.18,212.46 618.43,214.77 618.67,216.95 618.92,218.96 619.17,220.80 619.41,222.44 619.66,223.87 619.91,225.06 620.15,226.01 620.40,226.71 620.64,227.14 620.89,227.31 621.14,227.21 621.38,226.85 621.63,226.22 621.88,225.34 622.12,224.21 622.37,222.85 622.61,221.27 622.86,219.49 623.11,217.52 623.35,215.40 623.60,213.13 623.85,210.76 624.09,208.29 624.34,205.77 624.59,203.21 624.83,200.64 625.08,198.10 625.32,195.60 625.57,193.18 625.82,190.86 626.06,188.67 626.31,186.62 626.56,184.75 626.80,183.08 627.05,181.61 627.29,180.37 627.54,179.36 627.79,178.61 628.03,178.12 628.28,177.88 628.53,177.92 628.77,178.22 629.02,178.78 629.26,179.59 629.51,180.66 629.76,181.95 630.00,183.47 630.25,185.19 630.50,187.10 630.74,189.17 630.99,191.39 631.24,193.72 631.48,196.15 631.73,198.64 631.97,201.18 632.22,203.73 632.47,206.26 632.71,208.75 632.96,211.18 633.21,213.50 633.45,215.71 633.70,217.78 633.94,219.68 634.19,221.39 634.44,222.90 634.68,224.19 634.93,225.24 635.18,226.05 635.42,226.60 635.67,226.90 635.92,226.93 636.16,226.70 636.41,226.20 636.65,225.45 636.90,224.46 637.15,223.23 637.39,221.77 637.64,220.11 637.89,218.26 638.13,216.24 638.38,214.08 638.62,211.79 638.87,209.40 639.12,206.94 639.36,204.43 639.61,201.90 639.86,199.38 640.10,196.90 640.35,194.47 640.59,192.14 640.84,189.91 641.09,187.83 641.33,185.90 641.58,184.15 641.83,182.60 642.07,181.27 642.32,180.16 642.57,179.30 642.81,178.69 643.06,178.33 643.30,178.24 643.55,178.40 643.80,178.83 644.04,179.51 644.29,180.44 644.54,181.61 644.78,183.00 645.03,184.60 645.27,186.39 645.52,188.35 645.77,190.47 646.01,192.71 646.26,195.06 646.51,197.49 646.75,199.97 647.00,202.48 647.24,204.98 647.49,207.46 647.74,209.89 647.98,212.23 648.23,214.47 648.48,216.57 648.72,218.53 648.97,220.31 649.22,221.90 649.46,223.27 649.71,224.43 649.95,225.35 650.20,226.02 650.45,226.43 650.69,226.59 650.94,226.49 651.19,226.13 651.43,225.51 651.68,224.65 651.92,223.55 652.17,222.22 652.42,220.69 652.66,218.95 652.91,217.04 653.16,214.97 653.40,212.77 653.65,210.46 653.89,208.07 654.14,205.62 654.39,203.13 654.63,200.64 654.88,198.17 655.13,195.75 655.37,193.40 655.62,191.15 655.87,189.03 656.11,187.05 656.36,185.24 656.60,183.61 656.85,182.19 657.10,180.99 657.34,180.02 657.59,179.30 657.84,178.83 658.08,178.61 658.33,178.64 658.57,178.94 658.82,179.49 659.07,180.29 659.31,181.32 659.56,182.59 659.81,184.07 660.05,185.74 660.30,187.60 660.54,189.61 660.79,191.77 661.04,194.03 661.28,196.39 661.53,198.81 661.78,201.27 662.02,203.74 662.27,206.20 662.52,208.62 662.76,210.96 663.01,213.22 663.25,215.36 663.50,217.36 663.75,219.20 663.99,220.85 664.24,222.31 664.49,223.55 664.73,224.57 664.98,225.34 665.22,225.87 665.47,226.15 665.72,226.17 665.96,225.94 666.21,225.46 666.46,224.72 666.70,223.75 666.95,222.55 667.19,221.14 667.44,219.52 667.69,217.72 667.93,215.76 668.18,213.66 668.43,211.44 668.67,209.12 668.92,206.74 669.17,204.31 669.41,201.86 669.66,199.42 669.90,197.01 670.15,194.66 670.40,192.41 670.64,190.26 670.89,188.24 671.14,186.38 671.38,184.69 671.63,183.20 671.87,181.92 672.12,180.85 672.37,180.03 672.61,179.44 672.86,179.11 673.11,179.02 673.35,179.19 673.60,179.61 673.85,180.28 674.09,181.19 674.34,182.32 674.58,183.68 674.83,185.23 675.08,186.97 675.32,188.88 675.57,190.93 675.82,193.11 676.06,195.39 676.31,197.74 676.55,200.14 676.80,202.57 677.05,204.99 677.29,207.39 677.54,209.73 677.79,211.99 678.03,214.15 678.28,216.18 678.52,218.07 678.77,219.78 679.02,221.31 679.26,222.63 679.51,223.74 679.76,224.61 680.00,225.25 680.25,225.64 680.50,225.78 680.74,225.68 680.99,225.32 681.23,224.71 681.48,223.87 681.73,222.79 681.97,221.50 682.22,220.00 682.47,218.31 682.71,216.46 682.96,214.46 683.20,212.32 683.45,210.09 683.70,207.77 683.94,205.39 684.19,202.99 684.44,200.58 684.68,198.20 684.93,195.86 685.17,193.60 685.42,191.43 685.67,189.38 685.91,187.48 686.16,185.74 686.41,184.18 686.65,182.82 686.90,181.67 687.15,180.75 687.39,180.06 687.64,179.62 687.88,179.42 688.13,179.47 688.38,179.77 688.62,180.32 688.87,181.10 689.12,182.12 689.36,183.35 689.61,184.79 689.85,186.42 690.10,188.23 690.35,190.18 690.59,192.27 690.84,194.47 691.09,196.75 691.33,199.09 691.58,201.47 691.82,203.86 692.07,206.23 692.32,208.56 692.56,210.82 692.81,212.99 693.06,215.05 693.30,216.97 693.55,218.73 693.80,220.32 694.04,221.72 694.29,222.90 694.53,223.86 694.78,224.60 695.03,225.09 695.27,225.34 695.52,225.35 695.77,225.10 696.01,224.62 696.26,223.89 696.50,222.94 696.75,221.76 697.00,220.38 697.24,218.80 697.49,217.06 697.74,215.15 697.98,213.11 698.23,210.96 698.47,208.71 698.72,206.40 698.97,204.05 699.21,201.69 699.46,199.33 699.71,197.01 699.95,194.76 700.20,192.58 700.45,190.52 700.69,188.58 700.94,186.80 701.18,185.19 701.43,183.76 701.68,182.54 701.92,181.53 702.17,180.75 702.42,180.21 702.66,179.91 702.91,179.85 703.15,180.03 703.40,180.46 703.65,181.12 703.89,182.02 704.14,183.14 704.39,184.46 704.63,185.98 704.88,187.67 705.12,189.53 705.37,191.52 705.62,193.63 705.86,195.83 706.11,198.11 706.36,200.43 706.60,202.77 706.85,205.11 707.10,207.42 707.34,209.67 707.59,211.85 707.83,213.92 708.08,215.87 708.33,217.67 708.57,219.31 708.82,220.77 709.07,222.03 709.31,223.07 709.56,223.90 709.80,224.49 710.05,224.85 710.30,224.96 710.54,224.83 710.79,224.46 711.04,223.86 711.28,223.02 711.53,221.97 711.78,220.70 712.02,219.24 712.27,217.60 712.51,215.79 712.76,213.85 713.01,211.78 713.25,209.62 713.50,207.37 713.75,205.08 713.99,202.76 714.24,200.44 714.48,198.14 714.73,195.89 714.98,193.72 715.22,191.64 715.47,189.67 715.72,187.85 715.96,186.19 716.21,184.70 716.45,183.40 716.70,182.31 716.95,181.44 717.19,180.80 717.44,180.39 717.69,180.22 717.93,180.29 718.18,180.60 718.43,181.15 718.67,181.93 718.92,182.92 719.16,184.13 719.41,185.54 719.66,187.12 719.90,188.88 720.15,190.78 720.40,192.80 720.64,194.93 720.89,197.14 721.13,199.40 721.38,201.70 721.63,204.01 721.87,206.29 722.12,208.54 722.37,210.72 722.61,212.81 722.86,214.79 723.10,216.63 723.35,218.33 723.60,219.85 723.84,221.18 724.09,222.31 724.34,223.23 724.58,223.92 724.83,224.38 725.08,224.61 725.32,224.59 725.57,224.34 725.81,223.86 726.06,223.14 726.31,222.20 726.55,221.05 726.80,219.70 727.05,218.17 727.29,216.46 727.54,214.61 727.78,212.63 728.03,210.54 728.28,208.36 728.52,206.12 728.77,203.84 729.02,201.55 729.26,199.27 729.51,197.03 729.75,194.85 730.00,192.74 730.25,190.75 730.49,188.88 730.74,187.16 730.99,185.61 731.23,184.24 731.48,183.06 731.73,182.10 731.97,181.35 732.22,180.84 732.46,180.55 732.71,180.51 732.96,180.70 733.20,181.13 733.45,181.78 733.70,182.66 733.94,183.75 734.19,185.05 734.43,186.53 734.68,188.18 734.93,189.99 735.17,191.93 735.42,193.98 735.67,196.13 735.91,198.34 736.16,200.60 736.40,202.87 736.65,205.15 736.90,207.39 737.14,209.58 737.39,211.69 737.64,213.70 737.88,215.60 738.13,217.35 738.38,218.94 738.62,220.35 738.87,221.57 739.11,222.58 739.36,223.38 739.61,223.95 739.85,224.29 740.10,224.40 740.35,224.27 740.59,223.90 740.84,223.31 741.08,222.49 741.33,221.46 741.58,220.22 741.82,218.79 742.07,217.19 742.32,215.43 742.56,213.53 742.81,211.52 743.05,209.40 743.30,207.22 743.55,204.98 743.79,202.72 744.04,200.45 744.29,198.21 744.53,196.01 744.78,193.89 745.03,191.86 745.27,189.94 745.52,188.16 745.76,186.54 746.01,185.08 746.26,183.82 746.50,182.75 746.75,181.90 747.00,181.27 747.24,180.87 747.49,180.71 747.73,180.77 747.98,181.07 748.23,181.60 748.47,182.36 748.72,183.33 748.97,184.51 749.21,185.88 749.46,187.43 749.71,189.14 749.95,190.99 750.20,192.97 750.44,195.05 750.69,197.21 750.94,199.42 751.18,201.67 751.43,203.93 751.68,206.17 751.92,208.37 752.17,210.50 752.41,212.55 752.66,214.49 752.91,216.30 753.15,217.97 753.40,219.46 753.65,220.77 753.89,221.89 754.14,222.80 754.38,223.48 754.63,223.95 754.88,224.18 755.12,224.17 755.37,223.94 755.62,223.47 755.86,222.78 756.11,221.87 756.36,220.76 756.60,219.44 756.85,217.95 757.09,216.29 757.34,214.48 757.59,212.54 757.83,210.50 758.08,208.37 758.33,206.18 758.57,203.94 758.82,201.70 759.06,199.46 759.31,197.26 759.56,195.11 759.80,193.05 760.05,191.08 760.30,189.24 760.54,187.55 760.79,186.01 761.03,184.65 761.28,183.49 761.53,182.53 761.77,181.78 762.02,181.26 762.27,180.97 762.51,180.91 762.76,181.08 763.01,181.48 763.25,182.11 763.50,182.95 763.74,184.01 763.99,185.27 764.24,186.71 764.48,188.31 764.73,190.08 764.98,191.97 765.22,193.98 765.47,196.07 765.71,198.24 765.96,200.45 766.21,202.68 766.45,204.91 766.70,207.11 766.95,209.26 767.19,211.34 767.44,213.32 767.68,215.18 767.93,216.91 768.18,218.48 768.42,219.88 768.67,221.09 768.92,222.10 769.16,222.90 769.41,223.48 769.66,223.83 769.90,223.95 770.15,223.84 770.39,223.51 770.64,222.94 770.89,222.16 771.13,221.17 771.38,219.98 771.63,218.59 771.87,217.04 772.12,215.33 772.36,213.49 772.61,211.52 772.86,209.46 773.10,207.33 773.35,205.15 773.60,202.93 773.84,200.72 774.09,198.52 774.33,196.37 774.58,194.29 774.83,192.29 775.07,190.41 775.32,188.66 775.57,187.05 775.81,185.62 776.06,184.36 776.31,183.30 776.55,182.45 776.80,181.82 777.04,181.40 777.29,181.22 777.54,181.26 777.78,181.53 778.03,182.03 778.28,182.74 778.52,183.67 778.77,184.80 779.01,186.12 779.26,187.62 779.51,189.28 779.75,191.07 780.00,192.99 780.25,195.01 780.49,197.11 780.74,199.27 780.98,201.46 781.23,203.66 781.48,205.85 781.72,208.00 781.97,210.09 782.22,212.10 782.46,214.01 782.71,215.79 782.96,217.42 783.20,218.90 783.45,220.19 783.69,221.30 783.94,222.21 784.19,222.90 784.43,223.37 784.68,223.62 784.93,223.64 785.17,223.43 785.42,223.00 785.66,222.35 785.91,221.48 786.16,220.42 786.40,219.15 786.65,217.71 786.90,216.11 787.14,214.36 787.39,212.49 787.64,210.50 787.88,208.44 788.13,206.31 788.37,204.14 788.62,201.95 788.87,199.77 789.11,197.62 789.36,195.52 789.61,193.50 789.85,191.58 790.10,189.78 790.34,188.11 790.59,186.60 790.84,185.26 791.08,184.11 791.33,183.15 791.58,182.40 791.82,181.88 792.07,181.57 792.31,181.49 792.56,181.63 792.81,182.00 793.05,182.59 793.30,183.39 793.55,184.40 793.79,185.60 794.04,186.98 794.29,188.53 794.53,190.23 794.78,192.06 795.02,194.00 795.27,196.03 795.52,198.13 795.76,200.28 796.01,202.45 796.26,204.62 796.50,206.76 796.75,208.86 796.99,210.88 797.24,212.82 797.49,214.64 797.73,216.34 797.98,217.88 798.23,219.26 798.47,220.45 798.72,221.45 798.96,222.25 799.21,222.84 799.46,223.20 799.70,223.34 799.95,223.26"/><polyline points="61.30,277.50 61.55,277.94 61.79,279.17 62.04,281.19 62.29,283.97 62.53,287.47 62.78,291.67 63.02,296.52 63.27,301.96 63.52,307.93 63.76,314.37 64.01,321.22 64.26,328.39 64.50,335.81 64.75,343.40 64.99,351.08 65.24,358.76 65.49,366.37 65.73,373.83 65.98,381.04 66.23,387.94 66.47,394.46 66.72,400.52 66.96,406.05 67.21,411.01 67.46,415.34 67.70,418.99 67.95,421.92 68.20,424.11 68.44,425.53 68.69,426.17 68.94,426.02 69.18,425.09 69.43,423.38 69.67,420.91 69.92,417.72 70.17,413.83 70.41,409.30 70.66,404.16 70.91,398.47 71.15,392.31 71.40,385.72 71.64,378.79 71.89,371.59 72.14,364.20 72.38,356.69 72.63,349.14 72.88,341.64 73.12,334.27 73.37,327.11 73.61,320.22 73.86,313.69 74.11,307.58 74.35,301.96 74.60,296.89 74.85,292.43 75.09,288.61 75.34,285.47 75.59,283.06 75.83,281.40 76.08,280.49 76.32,280.36 76.57,281.00 76.82,282.40 77.06,284.55 77.31,287.42 77.56,290.98 77.80,295.19 78.05,300.00 78.29,305.37 78.54,311.24 78.79,317.53 79.03,324.19 79.28,331.14 79.53,338.30 79.77,345.61 80.02,352.97 80.27,360.32 80.51,367.57 80.76,374.64 81.00,381.47 81.25,387.98 81.50,394.09 81.74,399.75 81.99,404.90 82.24,409.47 82.48,413.44 82.73,416.74 82.97,419.35 83.22,421.24 83.47,422.40 83.71,422.81 83.96,422.47 84.21,421.38 84.45,419.56 84.70,417.02 84.94,413.80 85.19,409.94 85.44,405.46 85.68,400.44 85.93,394.91 86.18,388.94 86.42,382.59 86.67,375.94 86.92,369.05 87.16,362.00 87.41,354.86 87.65,347.72 87.90,340.64 88.15,333.70 88.39,326.97 88.64,320.53 88.89,314.45 89.13,308.78 89.38,303.60 89.62,298.94 89.87,294.86 90.12,291.41 90.36,288.61 90.61,286.50 90.86,285.09 91.10,284.41 91.35,284.45 91.59,285.21 91.84,286.69 92.09,288.87 92.33,291.72 92.58,295.21 92.83,299.30 93.07,303.96 93.32,309.12 93.57,314.74 93.81,320.74 94.06,327.08 94.30,333.67 94.55,340.46 94.80,347.36 95.04,354.30 95.29,361.21 95.54,368.01 95.78,374.64 96.03,381.03 96.27,387.10 96.52,392.79 96.77,398.04 97.01,402.80 97.26,407.01 97.51,410.64 97.75,413.65 98.00,416.00 98.24,417.67 98.49,418.64 98.74,418.91 98.98,418.47 99.23,417.33 99.48,415.51 99.72,413.02 99.97,409.89 100.22,406.15 100.46,401.85 100.71,397.03 100.95,391.74 101.20,386.05 101.45,380.00 101.69,373.68 101.94,367.14 102.19,360.45 102.43,353.69 102.68,346.92 102.92,340.22 103.17,333.67 103.42,327.32 103.66,321.25 103.91,315.53 104.16,310.20 104.40,305.33 104.65,300.97 104.89,297.16 105.14,293.95 105.39,291.36 105.63,289.43 105.88,288.17 106.13,287.60 106.37,287.71 106.62,288.52 106.87,290.00 107.11,292.15 107.36,294.93 107.60,298.32 107.85,302.28 108.10,306.77 108.34,311.74 108.59,317.13 108.84,322.89 109.08,328.96 109.33,335.27 109.57,341.75 109.82,348.33 110.07,354.95 110.31,361.54 110.56,368.02 110.81,374.32 111.05,380.38 111.30,386.14 111.54,391.53 111.79,396.50 112.04,400.99 112.28,404.96 112.53,408.37 112.78,411.18 113.02,413.36 113.27,414.89 113.52,415.76 113.76,415.95 114.01,415.47 114.25,414.32 114.50,412.52 114.75,410.08 114.99,407.04 115.24,403.42 115.49,399.27 115.73,394.63 115.98,389.55 116.22,384.08 116.47,378.29 116.72,372.24 116.96,365.98 117.21,359.60 117.46,353.15 117.70,346.70 117.95,340.33 118.20,334.10 118.44,328.08 118.69,322.32 118.93,316.90 119.18,311.87 119.43,307.27 119.67,303.17 119.92,299.59 120.17,296.59 120.41,294.18 120.66,292.40 120.90,291.26 121.15,290.77 121.40,290.93 121.64,291.75 121.89,293.22 122.14,295.31 122.38,298.00 122.63,301.26 122.87,305.06 123.12,309.36 123.37,314.11 123.61,319.25 123.86,324.73 124.11,330.49 124.35,336.47 124.60,342.61 124.85,348.84 125.09,355.10 125.34,361.31 125.58,367.41 125.83,373.34 126.08,379.04 126.32,384.44 126.57,389.49 126.82,394.13 127.06,398.32 127.31,402.02 127.55,405.18 127.80,407.78 128.05,409.79 128.29,411.19 128.54,411.96 128.79,412.10 129.03,411.61 129.28,410.49 129.52,408.76 129.77,406.44 130.02,403.56 130.26,400.14 130.51,396.22 130.76,391.85 131.00,387.07 131.25,381.94 131.50,376.51 131.74,370.83 131.99,364.98 132.23,359.00 132.48,352.97 132.73,346.95 132.97,341.00 133.22,335.19 133.47,329.57 133.71,324.21 133.96,319.17 134.20,314.49 134.45,310.22 134.70,306.41 134.94,303.10 135.19,300.32 135.44,298.10 135.68,296.46 135.93,295.42 136.17,294.99 136.42,295.17 136.67,295.95 136.91,297.34 137.16,299.30 137.41,301.83 137.65,304.88 137.90,308.43 138.15,312.44 138.39,316.86 138.64,321.65 138.88,326.75 139.13,332.11 139.38,337.67 139.62,343.37 139.87,349.15 140.12,354.95 140.36,360.70 140.61,366.36 140.85,371.85 141.10,377.12 141.35,382.11 141.59,386.77 141.84,391.06 142.09,394.93 142.33,398.34 142.58,401.26 142.82,403.65 143.07,405.49 143.32,406.77 143.56,407.47 143.81,407.58 144.06,407.12 144.30,406.07 144.55,404.46 144.80,402.31 145.04,399.64 145.29,396.47 145.53,392.84 145.78,388.80 146.03,384.39 146.27,379.65 146.52,374.64 146.77,369.40 147.01,364.00 147.26,358.50 147.50,352.94 147.75,347.40 148.00,341.92 148.24,336.57 148.49,331.41 148.74,326.48 148.98,321.84 149.23,317.54 149.47,313.61 149.72,310.12 149.97,307.07 150.21,304.52 150.46,302.48 150.71,300.98 150.95,300.03 151.20,299.63 151.45,299.80 151.69,300.52 151.94,301.79 152.18,303.59 152.43,305.91 152.68,308.71 152.92,311.97 153.17,315.65 153.42,319.71 153.66,324.11 153.91,328.79 154.15,333.72 154.40,338.83 154.65,344.08 154.89,349.40 155.14,354.74 155.39,360.05 155.63,365.26 155.88,370.33 156.13,375.19 156.37,379.80 156.62,384.11 156.86,388.07 157.11,391.65 157.36,394.80 157.60,397.50 157.85,399.71 158.10,401.41 158.34,402.59 158.59,403.24 158.83,403.34 159.08,402.91 159.33,401.94 159.57,400.45 159.82,398.45 160.07,395.97 160.31,393.04 160.56,389.69 160.80,385.95 161.05,381.87 161.30,377.49 161.54,372.86 161.79,368.03 162.04,363.06 162.28,357.99 162.53,352.88 162.78,347.79 163.02,342.76 163.27,337.86 163.51,333.13 163.76,328.62 164.01,324.38 164.25,320.45 164.50,316.87 164.75,313.68 164.99,310.91 165.24,308.59 165.48,306.75 165.73,305.38 165.98,304.52 166.22,304.17 166.47,304.33 166.72,305.00 166.96,306.17 167.21,307.83 167.45,309.95 167.70,312.52 167.95,315.50 168.19,318.87 168.44,322.59 168.69,326.61 168.93,330.90 169.18,335.41 169.43,340.09 169.67,344.89 169.92,349.75 170.16,354.64 170.41,359.50 170.66,364.26 170.90,368.90 171.15,373.35 171.40,377.56 171.64,381.50 171.89,385.13 172.13,388.40 172.38,391.27 172.63,393.73 172.87,395.75 173.12,397.30 173.37,398.37 173.61,398.95 173.86,399.03 174.10,398.62 174.35,397.72 174.60,396.34 174.84,394.49 175.09,392.21 175.34,389.51 175.58,386.42 175.83,382.99 176.08,379.24 176.32,375.22 176.57,370.97 176.81,366.55 177.06,361.99 177.31,357.34 177.55,352.67 177.80,348.00 178.05,343.41 178.29,338.92 178.54,334.60 178.78,330.48 179.03,326.61 179.28,323.03 179.52,319.77 179.77,316.87 180.02,314.36 180.26,312.26 180.51,310.58 180.75,309.36 181.00,308.60 181.25,308.30 181.49,308.47 181.74,309.11 181.99,310.21 182.23,311.75 182.48,313.72 182.73,316.09 182.97,318.85 183.22,321.95 183.46,325.37 183.71,329.07 183.96,333.01 184.20,337.15 184.45,341.44 184.70,345.83 184.94,350.29 185.19,354.76 185.43,359.20 185.68,363.55 185.93,367.78 186.17,371.83 186.42,375.67 186.67,379.25 186.91,382.53 187.16,385.49 187.40,388.10 187.65,390.31 187.90,392.12 188.14,393.50 188.39,394.43 188.64,394.92 188.88,394.96 189.13,394.54 189.38,393.67 189.62,392.37 189.87,390.65 190.11,388.52 190.36,386.02 190.61,383.17 190.85,380.00 191.10,376.55 191.35,372.86 191.59,368.97 191.84,364.91 192.08,360.74 192.33,356.49 192.58,352.22 192.82,347.97 193.07,343.78 193.32,339.70 193.56,335.77 193.81,332.03 194.06,328.53 194.30,325.29 194.55,322.34 194.79,319.73 195.04,317.47 195.29,315.60 195.53,314.11 195.78,313.04 196.03,312.39 196.27,312.17 196.52,312.37 196.76,313.00 197.01,314.05 197.26,315.50 197.50,317.34 197.75,319.55 198.00,322.10 198.24,324.97 198.49,328.12 198.73,331.53 198.98,335.14 199.23,338.94 199.47,342.87 199.72,346.89 199.97,350.96 200.21,355.03 200.46,359.07 200.71,363.04 200.95,366.87 201.20,370.55 201.44,374.03 201.69,377.26 201.94,380.23 202.18,382.90 202.43,385.23 202.68,387.21 202.92,388.82 203.17,390.03 203.41,390.85 203.66,391.25 203.91,391.24 204.15,390.82 204.40,389.99 204.65,388.76 204.89,387.15 205.14,385.18 205.38,382.87 205.63,380.24 205.88,377.32 206.12,374.15 206.37,370.76 206.62,367.18 206.86,363.46 207.11,359.63 207.36,355.74 207.60,351.83 207.85,347.93 208.09,344.09 208.34,340.36 208.59,336.76 208.83,333.34 209.08,330.14 209.33,327.18 209.57,324.50 209.82,322.12 210.06,320.07 210.31,318.37 210.56,317.04 210.80,316.08 211.05,315.52 211.30,315.35 211.54,315.57 211.79,316.18 212.03,317.18 212.28,318.55 212.53,320.27 212.77,322.33 213.02,324.71 213.27,327.38 213.51,330.31 213.76,333.47 214.01,336.82 214.25,340.33 214.50,343.96 214.74,347.68 214.99,351.44 215.24,355.20 215.48,358.93 215.73,362.58 215.98,366.12 216.22,369.50 216.47,372.70 216.71,375.68 216.96,378.40 217.21,380.85 217.45,382.98 217.70,384.79 217.95,386.26 218.19,387.35 218.44,388.08 218.68,388.43 218.93,388.39 219.18,387.98 219.42,387.18 219.67,386.02 219.92,384.50 220.16,382.65 220.41,380.48 220.66,378.02 220.90,375.29 221.15,372.33 221.39,369.16 221.64,365.83 221.89,362.36 222.13,358.80 222.38,355.18 222.63,351.54 222.87,347.92 223.12,344.36 223.36,340.90 223.61,337.57 223.86,334.41 224.10,331.44 224.35,328.71 224.60,326.24 224.84,324.05 225.09,322.17 225.33,320.61 225.58,319.40 225.83,318.54 226.07,318.04 226.32,317.90 226.57,318.13 226.81,318.73 227.06,319.68 227.31,320.97 227.55,322.60 227.80,324.55 228.04,326.78 228.29,329.29 228.54,332.03 228.78,334.99 229.03,338.14 229.28,341.43 229.52,344.83 229.77,348.31 230.01,351.83 230.26,355.35 230.51,358.84 230.75,362.25 231.00,365.56 231.25,368.73 231.49,371.71 231.74,374.49 231.99,377.03 232.23,379.31 232.48,381.30 232.72,382.97 232.97,384.33 233.22,385.34 233.46,386.00 233.71,386.30 233.96,386.24 234.20,385.82 234.45,385.05 234.69,383.93 234.94,382.47 235.19,380.71 235.43,378.64 235.68,376.30 235.93,373.71 236.17,370.90 236.42,367.90 236.66,364.75 236.91,361.47 237.16,358.11 237.40,354.69 237.65,351.26 237.90,347.86 238.14,344.51 238.39,341.26 238.64,338.13 238.88,335.16 239.13,332.39 239.37,329.84 239.62,327.54 239.87,325.50 240.11,323.76 240.36,322.33 240.61,321.22 240.85,320.44 241.10,320.00 241.34,319.92 241.59,320.17 241.84,320.77 242.08,321.70 242.33,322.96 242.58,324.53 242.82,326.39 243.07,328.53 243.31,330.92 243.56,333.53 243.81,336.34 244.05,339.31 244.30,342.42 244.55,345.64 244.79,348.92 245.04,352.23 245.29,355.54 245.53,358.81 245.78,362.01 246.02,365.10 246.27,368.05 246.52,370.83 246.76,373.41 247.01,375.76 247.26,377.86 247.50,379.69 247.75,381.22 247.99,382.44 248.24,383.35 248.49,383.92 248.73,384.15 248.98,384.05 249.23,383.60 249.47,382.83 249.72,381.74 249.96,380.33 250.21,378.63 250.46,376.66 250.70,374.43 250.95,371.98 251.20,369.33 251.44,366.50 251.69,363.54 251.94,360.47 252.18,357.33 252.43,354.14 252.67,350.95 252.92,347.79 253.17,344.69 253.41,341.69 253.66,338.81 253.91,336.08 254.15,333.54 254.40,331.21 254.64,329.12 254.89,327.28 255.14,325.71 255.38,324.43 255.63,323.45 255.88,322.78 256.12,322.42 256.37,322.39 256.61,322.67 256.86,323.28 257.11,324.19 257.35,325.39 257.60,326.89 257.85,328.65 258.09,330.66 258.34,332.90 258.59,335.35 258.83,337.97 259.08,340.74 259.32,343.63 259.57,346.60 259.82,349.64 260.06,352.70 260.31,355.75 260.56,358.76 260.80,361.70 261.05,364.53 261.29,367.23 261.54,369.77 261.79,372.12 262.03,374.25 262.28,376.15 262.53,377.79 262.77,379.16 263.02,380.24 263.26,381.02 263.51,381.49 263.76,381.66 264.00,381.51 264.25,381.06 264.50,380.30 264.74,379.24 264.99,377.91 265.24,376.30 265.48,374.45 265.73,372.36 265.97,370.07 266.22,367.60 266.47,364.98 266.71,362.22 266.96,359.38 267.21,356.46 267.45,353.51 267.70,350.56 267.94,347.63 268.19,344.76 268.44,341.98 268.68,339.32 268.93,336.80 269.18,334.46 269.42,332.31 269.67,330.38 269.92,328.69 270.16,327.25 270.41,326.09 270.65,325.21 270.90,324.61 271.15,324.32 271.39,324.32 271.64,324.63 271.89,325.23 272.13,326.12 272.38,327.29 272.62,328.73 272.87,330.42 273.12,332.34 273.36,334.48 273.61,336.81 273.86,339.31 274.10,341.94 274.35,344.68 274.59,347.51 274.84,350.39 275.09,353.28 275.33,356.17 275.58,359.02 275.83,361.79 276.07,364.46 276.32,367.00 276.57,369.39 276.81,371.59 277.06,373.58 277.30,375.35 277.55,376.87 277.80,378.12 278.04,379.10 278.29,379.79 278.54,380.19 278.78,380.29 279.03,380.09 279.27,379.60 279.52,378.81 279.77,377.75 280.01,376.41 280.26,374.83 280.51,373.01 280.75,370.97 281.00,368.74 281.24,366.34 281.49,363.80 281.74,361.14 281.98,358.40 282.23,355.60 282.48,352.78 282.72,349.95 282.97,347.16 283.22,344.44 283.46,341.80 283.71,339.29 283.95,336.92 284.20,334.72 284.45,332.71 284.69,330.92 284.94,329.36 285.19,328.05 285.43,327.00 285.68,326.23 285.92,325.73 286.17,325.52 286.42,325.60 286.66,325.96 286.91,326.61 287.16,327.54 287.40,328.73 287.65,330.17 287.89,331.85 288.14,333.76 288.39,335.86 288.63,338.13 288.88,340.56 289.13,343.12 289.37,345.78 289.62,348.50 289.87,351.27 290.11,354.05 290.36,356.81 290.60,359.52 290.85,362.16 291.10,364.69 291.34,367.08 291.59,369.32 291.84,371.38 292.08,373.23 292.33,374.86 292.57,376.25 292.82,377.38 293.07,378.24 293.31,378.83 293.56,379.13 293.81,379.14 294.05,378.87 294.30,378.31 294.54,377.47 294.79,376.36 295.04,375.00 295.28,373.40 295.53,371.57 295.78,369.55 296.02,367.35 296.27,364.99 296.52,362.51 296.76,359.92 297.01,357.27 297.25,354.57 297.50,351.86 297.75,349.16 297.99,346.50 298.24,343.92 298.49,341.43 298.73,339.07 298.98,336.86 299.22,334.83 299.47,332.98 299.72,331.35 299.96,329.95 300.21,328.78 300.46,327.87 300.70,327.23 300.95,326.86 301.19,326.76 301.44,326.94 301.69,327.39 301.93,328.11 302.18,329.09 302.43,330.32 302.67,331.79 302.92,333.48 303.17,335.37 303.41,337.44 303.66,339.68 303.90,342.05 304.15,344.53 304.40,347.09 304.64,349.71 304.89,352.36 305.14,355.00 305.38,357.62 305.63,360.18 305.87,362.66 306.12,365.02 306.37,367.25 306.61,369.31 306.86,371.19 307.11,372.87 307.35,374.33 307.60,375.55 307.85,376.51 308.09,377.22 308.34,377.66 308.58,377.83 308.83,377.72 309.08,377.34 309.32,376.68 309.57,375.77 309.82,374.61 310.06,373.21 310.31,371.59 310.55,369.77 310.80,367.77 311.05,365.61 311.29,363.32 311.54,360.92 311.79,358.44 312.03,355.90 312.28,353.34 312.52,350.78 312.77,348.24 313.02,345.77 313.26,343.37 313.51,341.07 313.76,338.91 314.00,336.90 314.25,335.06 314.50,333.41 314.74,331.97 314.99,330.75 315.23,329.76 315.48,329.02 315.73,328.53 315.97,328.29 316.22,328.32 316.47,328.61 316.71,329.15 316.96,329.94 317.20,330.97 317.45,332.24 317.70,333.72 317.94,335.40 318.19,337.26 318.44,339.28 318.68,341.44 318.93,343.72 319.17,346.10 319.42,348.54 319.67,351.02 319.91,353.51 320.16,355.99 320.41,358.43 320.65,360.80 320.90,363.09 321.15,365.25 321.39,367.28 321.64,369.14 321.88,370.82 322.13,372.30 322.38,373.57 322.62,374.61 322.87,375.40 323.12,375.95 323.36,376.24 323.61,376.27 323.85,376.05 324.10,375.57 324.35,374.83 324.59,373.86 324.84,372.66 325.09,371.25 325.33,369.63 325.58,367.84 325.82,365.89 326.07,363.80 326.32,361.60 326.56,359.31 326.81,356.96 327.06,354.56 327.30,352.16 327.55,349.76 327.80,347.41 328.04,345.11 328.29,342.91 328.53,340.81 328.78,338.84 329.03,337.02 329.27,335.37 329.52,333.91 329.77,332.64 330.01,331.58 330.26,330.76 330.50,330.16 330.75,329.81 331.00,329.70 331.24,329.83 331.49,330.21 331.74,330.82 331.98,331.67 332.23,332.75 332.47,334.03 332.72,335.51 332.97,337.18 333.21,339.01 333.46,340.98 333.71,343.08 333.95,345.27 334.20,347.55 334.45,349.88 334.69,352.23 334.94,354.58 335.18,356.92 335.43,359.20 335.68,361.41 335.92,363.52 336.17,365.52 336.42,367.37 336.66,369.06 336.91,370.57 337.15,371.88 337.40,372.99 337.65,373.87 337.89,374.52 338.14,374.93 338.39,375.10 338.63,375.02 338.88,374.69 339.13,374.13 339.37,373.33 339.62,372.31 339.86,371.08 340.11,369.65 340.36,368.04 340.60,366.26 340.85,364.34 341.10,362.29 341.34,360.15 341.59,357.92 341.83,355.65 342.08,353.35 342.33,351.04 342.57,348.76 342.82,346.52 343.07,344.36 343.31,342.28 343.56,340.32 343.80,338.50 344.05,336.83 344.30,335.33 344.54,334.02 344.79,332.90 345.04,332.00 345.28,331.32 345.53,330.87 345.78,330.65 346.02,330.66 346.27,330.90 346.51,331.38 346.76,332.08 347.01,333.00 347.25,334.13 347.50,335.46 347.75,336.97 347.99,338.65 348.24,340.48 348.48,342.43 348.73,344.50 348.98,346.65 349.22,348.86 349.47,351.11 349.72,353.37 349.96,355.62 350.21,357.84 350.45,360.01 350.70,362.09 350.95,364.06 351.19,365.91 351.44,367.62 351.69,369.16 351.93,370.52 352.18,371.68 352.43,372.64 352.67,373.38 352.92,373.89 353.16,374.17 353.41,374.21 353.66,374.02 353.90,373.59 354.15,372.94 354.40,372.06 354.64,370.98 354.89,369.69 355.13,368.23 355.38,366.59 355.63,364.81 355.87,362.90 356.12,360.88 356.37,358.78 356.61,356.61 356.86,354.41 357.10,352.19 357.35,349.98 357.60,347.80 357.84,345.68 358.09,343.64 358.34,341.69 358.58,339.87 358.83,338.19 359.08,336.66 359.32,335.31 359.57,334.14 359.81,333.18 360.06,332.42 360.31,331.87 360.55,331.55 360.80,331.45 361.05,331.58 361.29,331.93 361.54,332.50 361.78,333.29 362.03,334.28 362.28,335.47 362.52,336.84 362.77,338.38 363.02,340.07 363.26,341.89 363.51,343.83 363.75,345.86 364.00,347.96 364.25,350.11 364.49,352.28 364.74,354.46 364.99,356.61 365.23,358.72 365.48,360.76 365.73,362.71 365.97,364.55 366.22,366.26 366.46,367.81 366.71,369.21 366.96,370.42 367.20,371.43 367.45,372.24 367.70,372.84 367.94,373.22 368.19,373.36 368.43,373.29 368.68,372.98 368.93,372.46 369.17,371.72 369.42,370.77 369.67,369.63 369.91,368.31 370.16,366.81 370.40,365.17 370.65,363.39 370.90,361.49 371.14,359.51 371.39,357.45 371.64,355.35 371.88,353.22 372.13,351.08 372.38,348.97 372.62,346.90 372.87,344.89 373.11,342.97 373.36,341.16 373.61,339.47 373.85,337.92 374.10,336.54 374.35,335.32 374.59,334.30 374.84,333.47 375.08,332.84 375.33,332.42 375.58,332.22 375.82,332.24 376.07,332.48 376.32,332.93 376.56,333.59 376.81,334.45 377.06,335.51 377.30,336.75 377.55,338.16 377.79,339.72 378.04,341.42 378.29,343.24 378.53,345.16 378.78,347.16 379.03,349.22 379.27,351.30 379.52,353.41 379.76,355.50 380.01,357.55 380.26,359.56 380.50,361.48 380.75,363.31 381.00,365.02 381.24,366.59 381.49,368.02 381.73,369.27 381.98,370.34 382.23,371.22 382.47,371.89 382.72,372.35 382.97,372.60 383.21,372.63 383.46,372.43 383.71,372.03 383.95,371.41 384.20,370.59 384.44,369.57 384.69,368.37 384.94,367.01 385.18,365.48 385.43,363.82 385.68,362.05 385.92,360.17 386.17,358.21 386.41,356.20 386.66,354.15 386.91,352.09 387.15,350.03 387.40,348.01 387.65,346.04 387.89,344.14 388.14,342.33 388.38,340.64 388.63,339.08 388.88,337.66 389.12,336.41 389.37,335.33 389.62,334.43 389.86,333.73 390.11,333.23 390.36,332.94 390.60,332.86 390.85,332.98 391.09,333.32 391.34,333.87 391.59,334.61 391.83,335.55 392.08,336.67 392.33,337.96 392.57,339.41 392.82,341.00 393.06,342.71 393.31,344.53 393.56,346.43 393.80,348.40 394.05,350.41 394.30,352.45 394.54,354.48 394.79,356.49 395.03,358.46 395.28,360.37 395.53,362.19 395.77,363.90 396.02,365.49 396.27,366.94 396.51,368.23 396.76,369.35 397.01,370.29 397.25,371.04 397.50,371.58 397.74,371.92 397.99,372.04 398.24,371.96 398.48,371.66 398.73,371.15 398.98,370.45 399.22,369.55 399.47,368.46 399.71,367.21 399.96,365.80 400.21,364.24 400.45,362.57 400.70,360.79 400.95,358.92 401.19,356.98 401.44,355.00 401.68,353.00 401.93,351.00 402.18,349.02 402.42,347.07 402.67,345.19 402.92,343.39 403.16,341.69 403.41,340.11 403.66,338.67 403.90,337.38 404.15,336.24 404.39,335.29 404.64,334.52 404.89,333.94 405.13,333.57 405.38,333.39 405.63,333.43 405.87,333.66 406.12,334.10 406.36,334.74 406.61,335.57 406.86,336.59 407.10,337.77 407.35,339.11 407.60,340.60 407.84,342.21 408.09,343.94 408.33,345.76 408.58,347.65 408.83,349.59 409.07,351.56 409.32,353.54 409.57,355.52 409.81,357.45 410.06,359.34 410.31,361.15 410.55,362.86 410.80,364.47 411.04,365.94 411.29,367.27 411.54,368.43 411.78,369.43 412.03,370.24 412.28,370.86 412.52,371.27 412.77,371.49 413.01,371.49 413.26,371.29 413.51,370.89 413.75,370.29 414.00,369.49 414.25,368.52 414.49,367.37 414.74,366.06 414.99,364.61 415.23,363.03 415.48,361.34 415.72,359.56 415.97,357.70 416.22,355.79 416.46,353.85 416.71,351.90 416.96,349.96 417.20,348.05 417.45,346.19 417.69,344.40 417.94,342.70 418.19,341.11 418.43,339.64 418.68,338.32 418.93,337.14 419.17,336.14 419.42,335.30 419.66,334.66 419.91,334.20 420.16,333.94 420.40,333.88 420.65,334.03 420.90,334.37 421.14,334.91 421.39,335.63 421.64,336.54 421.88,337.62 422.13,338.86 422.37,340.25 422.62,341.77 422.87,343.41 423.11,345.14 423.36,346.95 423.61,348.83 423.85,350.74 424.10,352.67 424.34,354.60 424.59,356.51 424.84,358.37 425.08,360.17 425.33,361.88 425.58,363.50 425.82,364.99 426.07,366.35 426.31,367.56 426.56,368.61 426.81,369.49 427.05,370.17 427.30,370.67 427.55,370.97 427.79,371.08 428.04,370.98 428.29,370.68 428.53,370.18 428.78,369.49 429.02,368.62 429.27,367.57 429.52,366.36 429.76,365.00 430.01,363.51 430.26,361.90 430.50,360.19 430.75,358.40 430.99,356.55 431.24,354.66 431.49,352.75 431.73,350.84 431.98,348.95 432.23,347.10 432.47,345.31 432.72,343.61 432.96,342.00 433.21,340.51 433.46,339.16 433.70,337.95 433.95,336.90 434.20,336.02 434.44,335.33 434.69,334.81 434.94,334.49 435.18,334.37 435.43,334.44 435.67,334.71 435.92,335.16 436.17,335.81 436.41,336.63 436.66,337.62 436.91,338.78 437.15,340.08 437.40,341.51 437.64,343.05 437.89,344.70 438.14,346.43 438.38,348.21 438.63,350.04 438.88,351.89 439.12,353.74 439.37,355.58 439.61,357.37 439.86,359.11 440.11,360.77 440.35,362.34 440.60,363.80 440.85,365.13 441.09,366.32 441.34,367.36 441.59,368.23 441.83,368.94 442.08,369.46 442.32,369.80 442.57,369.95 442.82,369.91 443.06,369.68 443.31,369.27 443.56,368.68 443.80,367.92 444.05,366.99 444.29,365.91 444.54,364.68 444.79,363.33 445.03,361.86 445.28,360.30 445.53,358.65 445.77,356.94 446.02,355.18 446.26,353.40 446.51,351.61 446.76,349.84 447.00,348.09 447.25,346.39 447.50,344.76 447.74,343.22 447.99,341.78 448.24,340.45 448.48,339.26 448.73,338.21 448.97,337.32 449.22,336.59 449.47,336.04 449.71,335.66 449.96,335.47 450.21,335.47 450.45,335.64 450.70,336.00 450.94,336.54 451.19,337.25 451.44,338.13 451.68,339.16 451.93,340.33 452.18,341.63 452.42,343.06 452.67,344.58 452.92,346.18 453.16,347.86 453.41,349.58 453.65,351.33 453.90,353.10 454.15,354.85 454.39,356.58 454.64,358.26 454.89,359.88 455.13,361.42 455.38,362.86 455.62,364.18 455.87,365.38 456.12,366.44 456.36,367.34 456.61,368.08 456.86,368.66 457.10,369.05 457.35,369.27 457.59,369.31 457.84,369.16 458.09,368.83 458.33,368.33 458.58,367.65 458.83,366.82 459.07,365.82 459.32,364.68 459.57,363.42 459.81,362.03 460.06,360.54 460.30,358.97 460.55,357.32 460.80,355.63 461.04,353.90 461.29,352.16 461.54,350.42 461.78,348.71 462.03,347.04 462.27,345.43 462.52,343.90 462.77,342.47 463.01,341.14 463.26,339.94 463.51,338.87 463.75,337.96 464.00,337.20 464.24,336.61 464.49,336.19 464.74,335.95 464.98,335.89 465.23,336.01 465.48,336.30 465.72,336.78 465.97,337.42 466.22,338.23 466.46,339.19 466.71,340.30 466.95,341.53 467.20,342.89 467.45,344.35 467.69,345.90 467.94,347.51 468.19,349.18 468.43,350.89 468.68,352.61 468.92,354.33 469.17,356.03 469.42,357.68 469.66,359.29 469.91,360.81 470.16,362.25 470.40,363.58 470.65,364.78 470.89,365.86 471.14,366.78 471.39,367.55 471.63,368.16 471.88,368.60 472.13,368.86 472.37,368.95 472.62,368.85 472.87,368.58 473.11,368.13 473.36,367.52 473.60,366.74 473.85,365.80 474.10,364.73 474.34,363.52 474.59,362.19 474.84,360.76 475.08,359.24 475.33,357.64 475.57,355.99 475.82,354.31 476.07,352.60 476.31,350.90 476.56,349.21 476.81,347.57 477.05,345.97 477.30,344.45 477.54,343.01 477.79,341.68 478.04,340.47 478.28,339.39 478.53,338.45 478.78,337.67 479.02,337.04 479.27,336.59 479.52,336.31 479.76,336.20 480.01,336.27 480.25,336.52 480.50,336.94 480.75,337.53 480.99,338.28 481.24,339.19 481.49,340.24 481.73,341.42 481.98,342.73 482.22,344.13 482.47,345.63 482.72,347.20 482.96,348.83 483.21,350.50 483.46,352.19 483.70,353.88 483.95,355.56 484.19,357.20 484.44,358.79 484.69,360.31 484.93,361.74 485.18,363.08 485.43,364.30 485.67,365.39 485.92,366.34 486.17,367.13 486.41,367.77 486.66,368.24 486.90,368.55 487.15,368.67 487.40,368.62 487.64,368.40 487.89,368.00 488.14,367.44 488.38,366.71 488.63,365.83 488.87,364.80 489.12,363.64 489.37,362.36 489.61,360.98 489.86,359.50 490.11,357.95 490.35,356.34 490.60,354.69 490.85,353.01 491.09,351.33 491.34,349.66 491.58,348.03 491.83,346.44 492.08,344.92 492.32,343.49 492.57,342.15 492.82,340.93 493.06,339.83 493.31,338.87 493.55,338.06 493.80,337.40 494.05,336.91 494.29,336.59 494.54,336.44 494.79,336.47 495.03,336.67 495.28,337.05 495.52,337.59 495.77,338.29 496.02,339.15 496.26,340.15 496.51,341.28 496.76,342.54 497.00,343.90 497.25,345.36 497.50,346.89 497.74,348.49 497.99,350.12 498.23,351.79 498.48,353.45 498.73,355.11 498.97,356.74 499.22,358.32 499.47,359.84 499.71,361.28 499.96,362.62 500.20,363.85 500.45,364.96 500.70,365.93 500.94,366.76 501.19,367.43 501.44,367.94 501.68,368.28 501.93,368.45 502.17,368.44 502.42,368.26 502.67,367.91 502.91,367.40 503.16,366.72 503.41,365.89 503.65,364.91 503.90,363.80 504.15,362.57 504.39,361.23 504.64,359.79 504.88,358.28 505.13,356.70 505.38,355.08 505.62,353.43 505.87,351.77 506.12,350.12 506.36,348.50 506.61,346.92 506.85,345.40 507.10,343.96 507.35,342.61 507.59,341.37 507.84,340.26 508.09,339.27 508.33,338.43 508.58,337.74 508.82,337.22 509.07,336.86 509.32,336.66 509.56,336.65 509.81,336.80 510.06,337.12 510.30,337.61 510.55,338.26 510.80,339.07 511.04,340.02 511.29,341.10 511.53,342.31 511.78,343.63 512.03,345.05 512.27,346.54 512.52,348.10 512.77,349.71 513.01,351.34 513.26,352.99 513.50,354.63 513.75,356.25 514.00,357.83 514.24,359.35 514.49,360.79 514.74,362.14 514.98,363.39 515.23,364.52 515.47,365.52 515.72,366.37 515.97,367.08 516.21,367.62 516.46,368.01 516.71,368.22 516.95,368.26 517.20,368.13 517.45,367.84 517.69,367.37 517.94,366.75 518.18,365.97 518.43,365.04 518.68,363.98 518.92,362.79 519.17,361.49 519.42,360.10 519.66,358.62 519.91,357.08 520.15,355.49 520.40,353.87 520.65,352.23 520.89,350.60 521.14,348.98 521.39,347.41 521.63,345.89 521.88,344.45 522.12,343.09 522.37,341.84 522.62,340.70 522.86,339.69 523.11,338.82 523.36,338.10 523.60,337.54 523.85,337.14 524.10,336.90 524.34,336.84 524.59,336.95 524.83,337.22 525.08,337.66 525.33,338.26 525.57,339.02 525.82,339.92 526.07,340.96 526.31,342.12 526.56,343.40 526.80,344.77 527.05,346.23 527.30,347.75 527.54,349.33 527.79,350.94 528.04,352.56 528.28,354.19 528.53,355.79 528.78,357.36 529.02,358.87 529.27,360.32 529.51,361.68 529.76,362.94 530.01,364.08 530.25,365.10 530.50,365.98 530.75,366.71 530.99,367.29 531.24,367.71 531.48,367.96 531.73,368.04 531.98,367.96 532.22,367.71 532.47,367.29 532.72,366.71 532.96,365.98 533.21,365.10 533.45,364.08 533.70,362.94 533.95,361.69 534.19,360.34 534.44,358.90 534.69,357.40 534.93,355.84 535.18,354.24 535.43,352.63 535.67,351.02 535.92,349.42 536.16,347.86 536.41,346.35 536.66,344.91 536.90,343.55 537.15,342.29 537.40,341.14 537.64,340.11 537.89,339.22 538.13,338.48 538.38,337.89 538.63,337.45 538.87,337.18 539.12,337.08 539.37,337.14 539.61,337.37 539.86,337.77 540.10,338.32 540.35,339.03 540.60,339.88 540.84,340.88 541.09,341.99 541.34,343.22 541.58,344.55 541.83,345.97 542.08,347.46 542.32,349.00 542.57,350.58 542.81,352.18 543.06,353.78 543.31,355.36 543.55,356.92 543.80,358.42 544.05,359.87 544.29,361.23 544.54,362.49 544.78,363.65 545.03,364.68 545.28,365.58 545.52,366.34 545.77,366.95 546.02,367.40 546.26,367.69 546.51,367.81 546.75,367.77 547.00,367.56 547.25,367.19 547.49,366.66 547.74,365.97 547.99,365.14 548.23,364.17 548.48,363.08 548.73,361.87 548.97,360.56 549.22,359.16 549.46,357.69 549.71,356.17 549.96,354.60 550.20,353.02 550.45,351.43 550.70,349.85 550.94,348.30 551.19,346.80 551.43,345.36 551.68,344.00 551.93,342.73 552.17,341.56 552.42,340.52 552.67,339.61 552.91,338.84 553.16,338.21 553.40,337.75 553.65,337.44 553.90,337.30 554.14,337.32 554.39,337.50 554.64,337.85 554.88,338.36 555.13,339.02 555.38,339.83 555.62,340.77 555.87,341.84 556.11,343.03 556.36,344.32 556.61,345.70 556.85,347.15 557.10,348.66 557.35,350.21 557.59,351.78 557.84,353.36 558.08,354.93 558.33,356.47 558.58,357.97 558.82,359.41 559.07,360.78 559.32,362.05 559.56,363.22 559.81,364.27 560.06,365.20 560.30,365.98 560.55,366.62 560.79,367.11 561.04,367.44 561.29,367.60 561.53,367.60 561.78,367.44 562.03,367.11 562.27,366.63 562.52,365.99 562.76,365.21 563.01,364.29 563.26,363.24 563.50,362.08 563.75,360.81 564.00,359.46 564.24,358.02 564.49,356.53 564.73,355.00 564.98,353.44 565.23,351.87 565.47,350.31 565.72,348.77 565.97,347.27 566.21,345.83 566.46,344.46 566.71,343.18 566.95,342.01 567.20,340.94 567.44,340.01 567.69,339.20 567.94,338.55 568.18,338.04 568.43,337.69 568.68,337.51 568.92,337.48 569.17,337.62 569.41,337.92 569.66,338.37 569.91,338.98 570.15,339.74 570.40,340.63 570.65,341.66 570.89,342.80 571.14,344.04 571.38,345.38 571.63,346.79 571.88,348.26 572.12,349.78 572.37,351.33 572.62,352.89 572.86,354.44 573.11,355.97 573.36,357.47 573.60,358.91 573.85,360.28 574.09,361.56 574.34,362.75 574.59,363.82 574.83,364.78 575.08,365.59 575.33,366.27 575.57,366.80 575.82,367.17 576.06,367.38 576.31,367.43 576.56,367.32 576.80,367.05 577.05,366.62 577.30,366.04 577.54,365.32 577.79,364.45 578.03,363.46 578.28,362.34 578.53,361.12 578.77,359.81 579.02,358.42 579.27,356.97 579.51,355.47 579.76,353.93 580.01,352.39 580.25,350.84 580.50,349.31 580.74,347.82 580.99,346.38 581.24,345.01 581.48,343.71 581.73,342.52 581.98,341.43 582.22,340.46 582.47,339.63 582.71,338.93 582.96,338.38 583.21,337.98 583.45,337.74 583.70,337.66 583.95,337.74 584.19,337.98 584.44,338.37 584.68,338.92 584.93,339.62 585.18,340.45 585.42,341.42 585.67,342.50 585.92,343.69 586.16,344.98 586.41,346.34 586.66,347.78 586.90,349.26 587.15,350.78 587.39,352.31 587.64,353.85 587.89,355.37 588.13,356.86 588.38,358.30 588.63,359.68 588.87,360.98 589.12,362.18 589.36,363.29 589.61,364.27 589.86,365.13 590.10,365.85 590.35,366.43 590.60,366.85 590.84,367.12 591.09,367.24 591.33,367.19 591.58,366.98 591.83,366.62 592.07,366.11 592.32,365.45 592.57,364.65 592.81,363.72 593.06,362.67 593.31,361.51 593.55,360.25 593.80,358.91 594.04,357.50 594.29,356.04 594.54,354.54 594.78,353.02 595.03,351.49 595.28,349.98 595.52,348.49 595.77,347.05 596.01,345.67 596.26,344.36 596.51,343.14 596.75,342.02 597.00,341.02 597.25,340.14 597.49,339.39 597.74,338.79 597.99,338.33 598.23,338.03 598.48,337.88 598.72,337.90 598.97,338.06 599.22,338.39 599.46,338.87 599.71,339.49 599.96,340.25 600.20,341.15 600.45,342.17 600.69,343.29 600.94,344.52 601.19,345.83 601.43,347.22 601.68,348.66 601.93,350.14 602.17,351.64 602.42,353.16 602.66,354.66 602.91,356.14 603.16,357.59 603.40,358.97 603.65,360.29 603.90,361.52 604.14,362.65 604.39,363.67 604.64,364.57 604.88,365.34 605.13,365.98 605.37,366.46 605.62,366.80 605.87,366.98 606.11,367.00 606.36,366.87 606.61,366.58 606.85,366.14 607.10,365.56 607.34,364.83 607.59,363.97 607.84,362.99 608.08,361.89 608.33,360.70 608.58,359.42 608.82,358.06 609.07,356.64 609.31,355.18 609.56,353.70 609.81,352.20 610.05,350.70 610.30,349.23 610.55,347.79 610.79,346.40 611.04,345.08 611.29,343.84 611.53,342.69 611.78,341.65 612.02,340.73 612.27,339.94 612.52,339.28 612.76,338.77 613.01,338.40 613.26,338.19 613.50,338.13 613.75,338.22 613.99,338.47 614.24,338.87 614.49,339.42 614.73,340.11 614.98,340.93 615.23,341.87 615.47,342.93 615.72,344.09 615.96,345.34 616.21,346.67 616.46,348.06 616.70,349.50 616.95,350.97 617.20,352.45 617.44,353.93 617.69,355.40 617.94,356.83 618.18,358.22 618.43,359.54 618.67,360.79 618.92,361.95 619.17,363.00 619.41,363.94 619.66,364.76 619.91,365.44 620.15,365.98 620.40,366.38 620.64,366.63 620.89,366.72 621.14,366.66 621.38,366.45 621.63,366.09 621.88,365.58 622.12,364.94 622.37,364.16 622.61,363.25 622.86,362.23 623.11,361.10 623.35,359.88 623.60,358.59 623.85,357.22 624.09,355.81 624.34,354.37 624.59,352.90 624.83,351.44 625.08,349.98 625.32,348.55 625.57,347.17 625.82,345.85 626.06,344.60 626.31,343.43 626.56,342.36 626.80,341.41 627.05,340.57 627.29,339.87 627.54,339.30 627.79,338.87 628.03,338.60 628.28,338.47 628.53,338.49 628.77,338.67 629.02,338.99 629.26,339.46 629.51,340.07 629.76,340.81 630.00,341.68 630.25,342.66 630.50,343.75 630.74,344.93 630.99,346.19 631.24,347.52 631.48,348.90 631.73,350.31 631.97,351.75 632.22,353.20 632.47,354.63 632.71,356.04 632.96,357.41 633.21,358.72 633.45,359.97 633.70,361.13 633.94,362.20 634.19,363.16 634.44,364.00 634.68,364.72 634.93,365.31 635.18,365.76 635.42,366.06 635.67,366.22 635.92,366.23 636.16,366.09 636.41,365.81 636.65,365.38 636.90,364.81 637.15,364.12 637.39,363.30 637.64,362.36 637.89,361.32 638.13,360.19 638.38,358.97 638.62,357.69 638.87,356.35 639.12,354.98 639.36,353.58 639.61,352.17 639.86,350.76 640.10,349.38 640.35,348.03 640.59,346.74 640.84,345.50 641.09,344.35 641.33,343.28 641.58,342.32 641.83,341.47 642.07,340.73 642.32,340.13 642.57,339.66 642.81,339.32 643.06,339.13 643.30,339.09 643.55,339.19 643.80,339.43 644.04,339.81 644.29,340.33 644.54,340.98 644.78,341.75 645.03,342.63 645.27,343.63 645.52,344.71 645.77,345.88 646.01,347.12 646.26,348.41 646.51,349.75 646.75,351.11 647.00,352.49 647.24,353.86 647.49,355.22 647.74,356.55 647.98,357.84 648.23,359.06 648.48,360.21 648.72,361.28 648.97,362.25 649.22,363.12 649.46,363.87 649.71,364.50 649.95,365.00 650.20,365.37 650.45,365.59 650.69,365.68 650.94,365.62 651.19,365.42 651.43,365.08 651.68,364.61 651.92,364.01 652.17,363.28 652.42,362.44 652.66,361.49 652.91,360.45 653.16,359.32 653.40,358.12 653.65,356.85 653.89,355.54 654.14,354.20 654.39,352.85 654.63,351.48 654.88,350.13 655.13,348.81 655.37,347.53 655.62,346.30 655.87,345.14 656.11,344.06 656.36,343.07 656.60,342.18 656.85,341.40 657.10,340.75 657.34,340.22 657.59,339.82 657.84,339.56 658.08,339.44 658.33,339.46 658.57,339.62 658.82,339.92 659.07,340.36 659.31,340.92 659.56,341.61 659.81,342.42 660.05,343.34 660.30,344.35 660.54,345.45 660.79,346.63 661.04,347.87 661.28,349.16 661.53,350.48 661.78,351.83 662.02,353.18 662.27,354.52 662.52,355.85 662.76,357.13 663.01,358.37 663.25,359.54 663.50,360.63 663.75,361.64 663.99,362.55 664.24,363.35 664.49,364.03 664.73,364.59 664.98,365.01 665.22,365.30 665.47,365.46 665.72,365.47 665.96,365.34 666.21,365.08 666.46,364.68 666.70,364.15 666.95,363.49 667.19,362.72 667.44,361.83 667.69,360.85 667.93,359.77 668.18,358.62 668.43,357.40 668.67,356.13 668.92,354.82 669.17,353.49 669.41,352.15 669.66,350.81 669.90,349.49 670.15,348.20 670.40,346.96 670.64,345.78 670.89,344.67 671.14,343.64 671.38,342.72 671.63,341.90 671.87,341.19 672.12,340.60 672.37,340.15 672.61,339.83 672.86,339.64 673.11,339.59 673.35,339.68 673.60,339.91 673.85,340.28 674.09,340.78 674.34,341.40 674.58,342.14 674.83,343.00 675.08,343.95 675.32,345.00 675.57,346.13 675.82,347.33 676.06,348.58 676.31,349.88 676.55,351.20 676.80,352.54 677.05,353.87 677.29,355.19 677.54,356.48 677.79,357.73 678.03,358.92 678.28,360.04 678.52,361.08 678.77,362.03 679.02,362.87 679.26,363.60 679.51,364.21 679.76,364.70 680.00,365.05 680.25,365.27 680.50,365.35 680.74,365.29 680.99,365.09 681.23,364.76 681.48,364.30 681.73,363.70 681.97,362.99 682.22,362.17 682.47,361.24 682.71,360.21 682.96,359.11 683.20,357.93 683.45,356.69 683.70,355.41 683.94,354.10 684.19,352.77 684.44,351.44 684.68,350.12 684.93,348.83 685.17,347.57 685.42,346.37 685.67,345.24 685.91,344.19 686.16,343.22 686.41,342.36 686.65,341.60 686.90,340.96 687.15,340.45 687.39,340.07 687.64,339.82 687.88,339.71 688.13,339.74 688.38,339.90 688.62,340.20 688.87,340.63 689.12,341.20 689.36,341.88 689.61,342.68 689.85,343.58 690.10,344.58 690.35,345.66 690.59,346.82 690.84,348.04 691.09,349.31 691.33,350.61 691.58,351.93 691.82,353.26 692.07,354.57 692.32,355.87 692.56,357.13 692.81,358.34 693.06,359.48 693.30,360.55 693.55,361.54 693.80,362.42 694.04,363.20 694.29,363.86 694.53,364.40 694.78,364.81 695.03,365.09 695.27,365.23 695.52,365.24 695.77,365.10 696.01,364.83 696.26,364.43 696.50,363.90 696.75,363.25 697.00,362.48 697.24,361.60 697.49,360.63 697.74,359.56 697.98,358.43 698.23,357.22 698.47,355.97 698.72,354.68 698.97,353.37 699.21,352.05 699.46,350.73 699.71,349.43 699.95,348.17 700.20,346.95 700.45,345.79 700.69,344.71 700.94,343.71 701.18,342.80 701.43,342.00 701.68,341.32 701.92,340.75 702.17,340.31 702.42,340.01 702.66,339.83 702.91,339.80 703.15,339.90 703.40,340.14 703.65,340.51 703.89,341.01 704.14,341.63 704.39,342.37 704.63,343.22 704.88,344.17 705.12,345.21 705.37,346.33 705.62,347.52 705.86,348.75 706.11,350.03 706.36,351.34 706.60,352.65 706.85,353.97 707.10,355.27 707.34,356.54 707.59,357.76 707.83,358.93 708.08,360.02 708.33,361.04 708.57,361.97 708.82,362.79 709.07,363.50 709.31,364.09 709.56,364.56 709.80,364.89 710.05,365.09 710.30,365.16 710.54,365.09 710.79,364.88 711.04,364.54 711.28,364.08 711.53,363.48 711.78,362.77 712.02,361.95 712.27,361.02 712.51,360.00 712.76,358.91 713.01,357.74 713.25,356.52 713.50,355.25 713.75,353.96 713.99,352.65 714.24,351.34 714.48,350.04 714.73,348.77 714.98,347.54 715.22,346.36 715.47,345.25 715.72,344.22 715.96,343.27 716.21,342.43 716.45,341.70 716.70,341.08 716.95,340.59 717.19,340.22 717.44,339.99 717.69,339.89 717.93,339.93 718.18,340.10 718.43,340.41 718.67,340.85 718.92,341.41 719.16,342.10 719.41,342.89 719.66,343.79 719.90,344.78 720.15,345.86 720.40,347.00 720.64,348.21 720.89,349.46 721.13,350.74 721.38,352.05 721.63,353.35 721.87,354.65 722.12,355.92 722.37,357.16 722.61,358.35 722.86,359.47 723.10,360.52 723.35,361.48 723.60,362.34 723.84,363.10 724.09,363.74 724.34,364.26 724.58,364.65 724.83,364.92 725.08,365.05 725.32,365.04 725.57,364.90 725.81,364.62 726.06,364.22 726.31,363.69 726.55,363.03 726.80,362.27 727.05,361.40 727.29,360.43 727.54,359.38 727.78,358.25 728.03,357.07 728.28,355.83 728.52,354.56 728.77,353.26 729.02,351.96 729.26,350.67 729.51,349.39 729.75,348.15 730.00,346.95 730.25,345.82 730.49,344.76 730.74,343.78 730.99,342.90 731.23,342.11 731.48,341.45 731.73,340.90 731.97,340.47 732.22,340.18 732.46,340.02 732.71,339.99 732.96,340.10 733.20,340.34 733.45,340.71 733.70,341.21 733.94,341.83 734.19,342.57 734.43,343.41 734.68,344.35 734.93,345.38 735.17,346.48 735.42,347.65 735.67,348.87 735.91,350.13 736.16,351.42 736.40,352.71 736.65,354.01 736.90,355.28 737.14,356.53 737.39,357.73 737.64,358.88 737.88,359.96 738.13,360.96 738.38,361.86 738.62,362.67 738.87,363.36 739.11,363.94 739.36,364.39 739.61,364.72 739.85,364.92 740.10,364.98 740.35,364.90 740.59,364.70 740.84,364.36 741.08,363.89 741.33,363.30 741.58,362.60 741.82,361.79 742.07,360.87 742.32,359.87 742.56,358.79 742.81,357.64 743.05,356.44 743.30,355.19 743.55,353.91 743.79,352.62 744.04,351.33 744.29,350.05 744.53,348.80 744.78,347.59 745.03,346.43 745.27,345.34 745.52,344.32 745.76,343.40 746.01,342.57 746.26,341.84 746.50,341.24 746.75,340.75 747.00,340.39 747.24,340.16 747.49,340.07 747.73,340.10 747.98,340.27 748.23,340.58 748.47,341.01 748.72,341.56 748.97,342.23 749.21,343.01 749.46,343.90 749.71,344.87 749.95,345.93 750.20,347.06 750.44,348.25 750.69,349.48 750.94,350.74 751.18,352.03 751.43,353.32 751.68,354.59 751.92,355.85 752.17,357.07 752.41,358.24 752.66,359.35 752.91,360.38 753.15,361.33 753.40,362.19 753.65,362.94 753.89,363.57 754.14,364.09 754.38,364.49 754.63,364.75 754.88,364.88 755.12,364.88 755.37,364.75 755.62,364.48 755.86,364.09 756.11,363.57 756.36,362.93 756.60,362.18 756.85,361.33 757.09,360.38 757.34,359.35 757.59,358.24 757.83,357.07 758.08,355.85 758.33,354.60 758.57,353.33 758.82,352.04 759.06,350.76 759.31,349.50 759.56,348.28 759.80,347.09 760.05,345.97 760.30,344.92 760.54,343.95 760.79,343.07 761.03,342.29 761.28,341.63 761.53,341.08 761.77,340.65 762.02,340.35 762.27,340.18 762.51,340.15 762.76,340.24 763.01,340.47 763.25,340.83 763.50,341.31 763.74,341.92 763.99,342.63 764.24,343.46 764.48,344.38 764.73,345.39 764.98,346.47 765.22,347.62 765.47,348.82 765.71,350.06 765.96,351.32 766.21,352.60 766.45,353.88 766.70,355.14 766.95,356.37 767.19,357.57 767.44,358.70 767.68,359.77 767.93,360.76 768.18,361.66 768.42,362.47 768.67,363.16 768.92,363.74 769.16,364.20 769.41,364.53 769.66,364.74 769.90,364.81 770.15,364.75 770.39,364.56 770.64,364.24 770.89,363.79 771.13,363.22 771.38,362.54 771.63,361.74 771.87,360.85 772.12,359.87 772.36,358.81 772.61,357.68 772.86,356.50 773.10,355.28 773.35,354.02 773.60,352.75 773.84,351.48 774.09,350.21 774.33,348.98 774.58,347.78 774.83,346.63 775.07,345.55 775.32,344.54 775.57,343.61 775.81,342.79 776.06,342.06 776.31,341.45 776.55,340.96 776.80,340.60 777.04,340.36 777.29,340.25 777.54,340.27 777.78,340.43 778.03,340.72 778.28,341.13 778.52,341.66 778.77,342.31 779.01,343.07 779.26,343.93 779.51,344.89 779.75,345.92 780.00,347.02 780.25,348.19 780.49,349.40 780.74,350.64 780.98,351.90 781.23,353.17 781.48,354.43 781.72,355.67 781.97,356.87 782.22,358.03 782.46,359.13 782.71,360.15 782.96,361.10 783.20,361.95 783.45,362.69 783.69,363.33 783.94,363.85 784.19,364.25 784.43,364.53 784.68,364.67 784.93,364.68 785.17,364.56 785.42,364.31 785.66,363.94 785.91,363.44 786.16,362.82 786.40,362.10 786.65,361.27 786.90,360.34 787.14,359.34 787.39,358.25 787.64,357.11 787.88,355.92 788.13,354.69 788.37,353.44 788.62,352.18 788.87,350.93 789.11,349.69 789.36,348.48 789.61,347.32 789.85,346.21 790.10,345.17 790.34,344.21 790.59,343.34 790.84,342.57 791.08,341.91 791.33,341.36 791.58,340.93 791.82,340.62 792.07,340.45 792.31,340.40 792.56,340.48 792.81,340.70 793.05,341.04 793.30,341.50 793.55,342.08 793.79,342.77 794.04,343.57 794.29,344.46 794.53,345.44 794.78,346.49 795.02,347.61 795.27,348.78 795.52,349.99 795.76,351.22 796.01,352.47 796.26,353.72 796.50,354.95 796.75,356.16 796.99,357.32 797.24,358.43 797.49,359.48 797.73,360.45 797.98,361.34 798.23,362.13 798.47,362.82 798.72,363.39 798.96,363.85 799.21,364.18 799.46,364.39 799.70,364.47 799.95,364.43"/><polyline points="61.30,427.50 61.55,427.97 61.79,429.24 62.04,431.28 62.29,434.09 62.53,437.62 62.78,441.84 63.02,446.69 63.27,452.14 63.52,458.11 63.76,464.55 64.01,471.37 64.26,478.52 64.50,485.91 64.75,493.46 64.99,501.09 65.24,508.72 65.49,516.26 65.73,523.65 65.98,530.79 66.23,537.62 66.47,544.05 66.72,550.03 66.96,555.48 67.21,560.36 67.46,564.61 67.70,568.18 67.95,571.05 68.20,573.18 68.44,574.54 68.69,575.14 68.94,574.95 69.18,573.99 69.43,572.27 69.67,569.81 69.92,566.63 70.17,562.78 70.41,558.29 70.66,553.21 70.91,547.61 71.15,541.54 71.40,535.06 71.64,528.26 71.89,521.19 72.14,513.94 72.38,506.59 72.63,499.22 72.88,491.90 73.12,484.71 73.37,477.73 73.61,471.03 73.86,464.68 74.11,458.75 74.35,453.31 74.60,448.40 74.85,444.09 75.09,440.40 75.34,437.39 75.59,435.08 75.83,433.50 76.08,432.65 76.32,432.55 76.57,433.20 76.82,434.58 77.06,436.69 77.31,439.49 77.56,442.96 77.80,447.05 78.05,451.73 78.29,456.94 78.54,462.62 78.79,468.71 79.03,475.15 79.28,481.87 79.53,488.79 79.77,495.85 80.02,502.95 80.27,510.04 80.51,517.03 80.76,523.85 81.00,530.43 81.25,536.70 81.50,542.58 81.74,548.03 81.99,552.98 82.24,557.37 82.48,561.18 82.73,564.35 82.97,566.85 83.22,568.66 83.47,569.76 83.71,570.14 83.96,569.80 84.21,568.74 84.45,566.97 84.70,564.52 84.94,561.42 85.19,557.69 85.44,553.39 85.68,548.55 85.93,543.23 86.18,537.49 86.42,531.39 86.67,525.00 86.92,518.39 87.16,511.62 87.41,504.77 87.65,497.91 87.90,491.12 88.15,484.46 88.39,478.02 88.64,471.85 88.89,466.02 89.13,460.59 89.38,455.62 89.62,451.15 89.87,447.25 90.12,443.94 90.36,441.26 90.61,439.24 90.86,437.89 91.10,437.23 91.35,437.27 91.59,438.00 91.84,439.41 92.09,441.49 92.33,444.22 92.58,447.57 92.83,451.49 93.07,455.95 93.32,460.89 93.57,466.27 93.81,472.03 94.06,478.11 94.30,484.43 94.55,490.94 94.80,497.56 95.04,504.23 95.29,510.86 95.54,517.40 95.78,523.77 96.03,529.91 96.27,535.74 96.52,541.21 96.77,546.27 97.01,550.85 97.26,554.91 97.51,558.40 97.75,561.30 98.00,563.56 98.24,565.18 98.49,566.12 98.74,566.38 98.98,565.96 99.23,564.87 99.48,563.12 99.72,560.72 99.97,557.71 100.22,554.11 100.46,549.97 100.71,545.33 100.95,540.25 101.20,534.77 101.45,528.95 101.69,522.87 101.94,516.58 102.19,510.14 102.43,503.64 102.68,497.14 102.92,490.70 103.17,484.40 103.42,478.30 103.66,472.46 103.91,466.96 104.16,461.84 104.40,457.16 104.65,452.97 104.89,449.31 105.14,446.22 105.39,443.73 105.63,441.87 105.88,440.66 106.13,440.10 106.37,440.21 106.62,440.98 106.87,442.40 107.11,444.45 107.36,447.12 107.60,450.38 107.85,454.18 108.10,458.49 108.34,463.27 108.59,468.45 108.84,473.99 109.08,479.83 109.33,485.90 109.57,492.14 109.82,498.48 110.07,504.86 110.31,511.21 110.56,517.46 110.81,523.54 111.05,529.40 111.30,534.96 111.54,540.17 111.79,544.97 112.04,549.32 112.28,553.17 112.53,556.47 112.78,559.19 113.02,561.31 113.27,562.81 113.52,563.66 113.76,563.86 114.01,563.40 114.25,562.30 114.50,560.57 114.75,558.22 114.99,555.28 115.24,551.79 115.49,547.77 115.73,543.28 115.98,538.37 116.22,533.08 116.47,527.48 116.72,521.62 116.96,515.56 117.21,509.38 117.46,503.13 117.70,496.88 117.95,490.71 118.20,484.66 118.44,478.82 118.69,473.23 118.93,467.97 119.18,463.07 119.43,458.60 119.67,454.61 119.92,451.12 120.17,448.18 120.41,445.83 120.66,444.07 120.90,442.94 121.15,442.44 121.40,442.57 121.64,443.34 121.89,444.73 122.14,446.74 122.38,449.33 122.63,452.49 122.87,456.17 123.12,460.33 123.37,464.95 123.61,469.95 123.86,475.30 124.11,480.93 124.35,486.78 124.60,492.79 124.85,498.91 125.09,505.05 125.34,511.17 125.58,517.19 125.83,523.04 126.08,528.68 126.32,534.03 126.57,539.04 126.82,543.66 127.06,547.84 127.31,551.53 127.55,554.70 127.80,557.32 128.05,559.35 128.29,560.77 128.54,561.57 128.79,561.75 129.03,561.29 129.28,560.21 129.52,558.52 129.77,556.24 130.02,553.38 130.26,550.00 130.51,546.11 130.76,541.77 131.00,537.01 131.25,531.90 131.50,526.48 131.74,520.82 131.99,514.97 132.23,509.00 132.48,502.97 132.73,496.95 132.97,490.99 133.22,485.16 133.47,479.52 133.71,474.14 133.96,469.06 134.20,464.35 134.45,460.04 134.70,456.19 134.94,452.84 135.19,450.01 135.44,447.74 135.68,446.05 135.93,444.96 136.17,444.48 136.42,444.61 136.67,445.35 136.91,446.70 137.16,448.63 137.41,451.14 137.65,454.18 137.90,457.74 138.15,461.77 138.39,466.22 138.64,471.06 138.88,476.23 139.13,481.67 139.38,487.33 139.62,493.15 139.87,499.06 140.12,505.01 140.36,510.93 140.61,516.76 140.85,522.43 141.10,527.88 141.35,533.07 141.59,537.92 141.84,542.40 142.09,546.45 142.33,550.04 142.58,553.11 142.82,555.65 143.07,557.62 143.32,559.00 143.56,559.78 143.81,559.95 144.06,559.51 144.30,558.46 144.55,556.82 144.80,554.60 145.04,551.83 145.29,548.55 145.53,544.78 145.78,540.56 146.03,535.95 146.27,531.00 146.52,525.75 146.77,520.26 147.01,514.59 147.26,508.81 147.50,502.96 147.75,497.13 148.00,491.36 148.24,485.72 148.49,480.26 148.74,475.05 148.98,470.14 149.23,465.57 149.47,461.41 149.72,457.68 149.97,454.43 150.21,451.69 150.46,449.49 150.71,447.86 150.95,446.80 151.20,446.33 151.45,446.45 151.69,447.16 151.94,448.46 152.18,450.33 152.43,452.75 152.68,455.69 152.92,459.13 153.17,463.03 153.42,467.34 153.66,472.03 153.91,477.03 154.15,482.30 154.40,487.79 154.65,493.43 154.89,499.16 155.14,504.92 155.39,510.66 155.63,516.31 155.88,521.82 156.13,527.11 156.37,532.14 156.62,536.86 156.86,541.21 157.11,545.15 157.36,548.63 157.60,551.62 157.85,554.09 158.10,556.01 158.34,557.36 158.59,558.13 158.83,558.31 159.08,557.89 159.33,556.89 159.57,555.30 159.82,553.15 160.07,550.47 160.31,547.27 160.56,543.60 160.80,539.50 161.05,535.01 161.30,530.19 161.54,525.08 161.79,519.74 162.04,514.23 162.28,508.60 162.53,502.93 162.78,497.26 163.02,491.66 163.27,486.19 163.51,480.90 163.76,475.86 164.01,471.11 164.25,466.70 164.50,462.68 164.75,459.08 164.99,455.95 165.24,453.31 165.48,451.20 165.73,449.63 165.98,448.62 166.22,448.17 166.47,448.30 166.72,449.01 166.96,450.27 167.21,452.09 167.45,454.44 167.70,457.30 167.95,460.64 168.19,464.42 168.44,468.59 168.69,473.13 168.93,477.97 169.18,483.07 169.43,488.38 169.67,493.83 169.92,499.37 170.16,504.94 170.41,510.49 170.66,515.94 170.90,521.25 171.15,526.36 171.40,531.21 171.64,535.76 171.89,539.94 172.13,543.73 172.38,547.08 172.63,549.95 172.87,552.31 173.12,554.15 173.37,555.43 173.61,556.15 173.86,556.29 174.10,555.87 174.35,554.87 174.60,553.31 174.84,551.21 175.09,548.60 175.34,545.49 175.58,541.93 175.83,537.96 176.08,533.62 176.32,528.96 176.57,524.03 176.81,518.88 177.06,513.57 177.31,508.15 177.55,502.69 177.80,497.25 178.05,491.87 178.29,486.62 178.54,481.56 178.78,476.73 179.03,472.18 179.28,467.97 179.52,464.13 179.77,460.70 180.02,457.73 180.26,455.23 180.51,453.23 180.75,451.76 181.00,450.82 181.25,450.43 181.49,450.60 181.74,451.31 181.99,452.56 182.23,454.35 182.48,456.64 182.73,459.41 182.97,462.64 183.22,466.29 183.46,470.32 183.71,474.69 183.96,479.35 184.20,484.25 184.45,489.34 184.70,494.56 184.94,499.87 185.19,505.20 185.43,510.49 185.68,515.70 185.93,520.76 186.17,525.62 186.42,530.23 186.67,534.54 186.91,538.51 187.16,542.09 187.40,545.24 187.65,547.93 187.90,550.14 188.14,551.83 188.39,553.00 188.64,553.62 188.88,553.70 189.13,553.23 189.38,552.22 189.62,550.68 189.87,548.63 190.11,546.08 190.36,543.08 190.61,539.65 190.85,535.83 191.10,531.66 191.35,527.20 191.59,522.48 191.84,517.57 192.08,512.51 192.33,507.35 192.58,502.16 192.82,496.99 193.07,491.89 193.32,486.92 193.56,482.13 193.81,477.57 194.06,473.28 194.30,469.32 194.55,465.72 194.79,462.51 195.04,459.74 195.29,457.42 195.53,455.59 195.78,454.25 196.03,453.43 196.27,453.13 196.52,453.36 196.76,454.10 197.01,455.36 197.26,457.12 197.50,459.35 197.75,462.04 198.00,465.15 198.24,468.66 198.49,472.52 198.73,476.69 198.98,481.13 199.23,485.80 199.47,490.63 199.72,495.58 199.97,500.60 200.21,505.63 200.46,510.62 200.71,515.52 200.95,520.27 201.20,524.82 201.44,529.13 201.69,533.16 201.94,536.84 202.18,540.16 202.43,543.07 202.68,545.55 202.92,547.56 203.17,549.08 203.41,550.11 203.66,550.63 203.91,550.64 204.15,550.13 204.40,549.11 204.65,547.60 204.89,545.62 205.14,543.17 205.38,540.30 205.63,537.04 205.88,533.41 206.12,529.47 206.37,525.25 206.62,520.79 206.86,516.16 207.11,511.39 207.36,506.54 207.60,501.66 207.85,496.80 208.09,492.02 208.34,487.36 208.59,482.87 208.83,478.60 209.08,474.60 209.33,470.90 209.57,467.55 209.82,464.58 210.06,462.02 210.31,459.89 210.56,458.22 210.80,457.02 211.05,456.31 211.30,456.09 211.54,456.36 211.79,457.12 212.03,458.36 212.28,460.06 212.53,462.21 212.77,464.78 213.02,467.75 213.27,471.08 213.51,474.73 213.76,478.68 214.01,482.87 214.25,487.26 214.50,491.81 214.74,496.46 214.99,501.17 215.24,505.89 215.48,510.56 215.73,515.14 215.98,519.57 216.22,523.82 216.47,527.84 216.71,531.57 216.96,535.00 217.21,538.07 217.45,540.76 217.70,543.03 217.95,544.87 218.19,546.26 218.44,547.18 218.68,547.62 218.93,547.58 219.18,547.06 219.42,546.07 219.67,544.61 219.92,542.71 220.16,540.38 220.41,537.66 220.66,534.56 220.90,531.13 221.15,527.41 221.39,523.43 221.64,519.24 221.89,514.89 222.13,510.41 222.38,505.86 222.63,501.30 222.87,496.76 223.12,492.29 223.36,487.95 223.61,483.77 223.86,479.81 224.10,476.10 224.35,472.68 224.60,469.59 224.84,466.85 225.09,464.50 225.33,462.55 225.58,461.04 225.83,459.96 226.07,459.34 226.32,459.17 226.57,459.46 226.81,460.21 227.06,461.40 227.31,463.02 227.55,465.06 227.80,467.49 228.04,470.29 228.29,473.43 228.54,476.87 228.78,480.58 229.03,484.51 229.28,488.63 229.52,492.89 229.77,497.25 230.01,501.66 230.26,506.07 230.51,510.44 230.75,514.72 231.00,518.86 231.25,522.83 231.49,526.57 231.74,530.05 231.99,533.23 232.23,536.09 232.48,538.58 232.72,540.68 232.97,542.37 233.22,543.63 233.46,544.46 233.71,544.83 233.96,544.75 234.20,544.22 234.45,543.25 234.69,541.84 234.94,540.02 235.19,537.80 235.43,535.20 235.68,532.26 235.93,529.02 236.17,525.50 236.42,521.74 236.66,517.79 236.91,513.70 237.16,509.49 237.40,505.23 237.65,500.96 237.90,496.72 238.14,492.56 238.39,488.52 238.64,484.64 238.88,480.97 239.13,477.55 239.37,474.40 239.62,471.56 239.87,469.06 240.11,466.93 240.36,465.18 240.61,463.83 240.85,462.90 241.10,462.39 241.34,462.30 241.59,462.64 241.84,463.40 242.08,464.58 242.33,466.15 242.58,468.10 242.82,470.41 243.07,473.05 243.31,476.00 243.56,479.22 243.81,482.68 244.05,486.34 244.30,490.16 244.55,494.10 244.79,498.12 245.04,502.17 245.29,506.21 245.53,510.20 245.78,514.10 246.02,517.86 246.27,521.45 246.52,524.82 246.76,527.95 247.01,530.79 247.26,533.33 247.50,535.52 247.75,537.36 247.99,538.82 248.24,539.88 248.49,540.54 248.73,540.79 248.98,540.63 249.23,540.07 249.47,539.10 249.72,537.75 249.96,536.02 250.21,533.95 250.46,531.54 250.70,528.84 250.95,525.86 251.20,522.66 251.44,519.26 251.69,515.70 251.94,512.02 252.18,508.26 252.43,504.46 252.67,500.66 252.92,496.91 253.17,493.24 253.41,489.70 253.66,486.31 253.91,483.11 254.15,480.14 254.40,477.43 254.64,475.00 254.89,472.87 255.14,471.07 255.38,469.62 255.63,468.51 255.88,467.77 256.12,467.41 256.37,467.41 256.61,467.79 256.86,468.53 257.11,469.64 257.35,471.08 257.60,472.85 257.85,474.93 258.09,477.29 258.34,479.91 258.59,482.75 258.83,485.79 259.08,488.99 259.32,492.32 259.57,495.75 259.82,499.23 260.06,502.72 260.31,506.20 260.56,509.63 260.80,512.96 261.05,516.17 261.29,519.22 261.54,522.08 261.79,524.71 262.03,527.10 262.28,529.22 262.53,531.05 262.77,532.57 263.02,533.76 263.26,534.61 263.51,535.12 263.76,535.28 264.00,535.09 264.25,534.55 264.50,533.68 264.74,532.48 264.99,530.96 265.24,529.15 265.48,527.06 265.73,524.71 265.97,522.14 266.22,519.37 266.47,516.43 266.71,513.35 266.96,510.17 267.21,506.91 267.45,503.62 267.70,500.34 267.94,497.08 268.19,493.89 268.44,490.81 268.68,487.86 268.93,485.07 269.18,482.48 269.42,480.11 269.67,477.99 269.92,476.13 270.16,474.56 270.41,473.29 270.65,472.34 270.90,471.71 271.15,471.41 271.39,471.44 271.64,471.80 271.89,472.49 272.13,473.49 272.38,474.80 272.62,476.40 272.87,478.28 273.12,480.41 273.36,482.77 273.61,485.33 273.86,488.07 274.10,490.96 274.35,493.97 274.59,497.06 274.84,500.20 275.09,503.35 275.33,506.50 275.58,509.59 275.83,512.60 276.07,515.49 276.32,518.24 276.57,520.81 276.81,523.19 277.06,525.33 277.30,527.23 277.55,528.85 277.80,530.19 278.04,531.23 278.29,531.96 278.54,532.38 278.78,532.47 279.03,532.24 279.27,531.70 279.52,530.85 279.77,529.69 280.01,528.25 280.26,526.53 280.51,524.57 280.75,522.37 281.00,519.97 281.24,517.38 281.49,514.65 281.74,511.79 281.98,508.84 282.23,505.83 282.48,502.80 282.72,499.77 282.97,496.77 283.22,493.85 283.46,491.03 283.71,488.33 283.95,485.80 284.20,483.45 284.45,481.31 284.69,479.40 284.94,477.74 285.19,476.35 285.43,475.25 285.68,474.43 285.92,473.92 286.17,473.72 286.42,473.82 286.66,474.23 286.91,474.94 287.16,475.95 287.40,477.23 287.65,478.78 287.89,480.58 288.14,482.62 288.39,484.86 288.63,487.28 288.88,489.87 289.13,492.58 289.37,495.39 289.62,498.28 289.87,501.20 290.11,504.13 290.36,507.04 290.60,509.89 290.85,512.66 291.10,515.31 291.34,517.82 291.59,520.16 291.84,522.31 292.08,524.23 292.33,525.92 292.57,527.36 292.82,528.52 293.07,529.40 293.31,529.99 293.56,530.28 293.81,530.28 294.05,529.97 294.30,529.37 294.54,528.47 294.79,527.31 295.04,525.88 295.28,524.20 295.53,522.29 295.78,520.18 296.02,517.89 296.27,515.44 296.52,512.86 296.76,510.18 297.01,507.43 297.25,504.64 297.50,501.83 297.75,499.05 297.99,496.31 298.24,493.64 298.49,491.08 298.73,488.66 298.98,486.38 299.22,484.29 299.47,482.40 299.72,480.73 299.96,479.29 300.21,478.11 300.46,477.19 300.70,476.54 300.95,476.17 301.19,476.08 301.44,476.28 301.69,476.75 301.93,477.50 302.18,478.52 302.43,479.79 302.67,481.30 302.92,483.04 303.17,484.98 303.41,487.11 303.66,489.40 303.90,491.82 304.15,494.36 304.40,496.98 304.64,499.65 304.89,502.35 305.14,505.05 305.38,507.72 305.63,510.32 305.87,512.84 306.12,515.24 306.37,517.50 306.61,519.60 306.86,521.51 307.11,523.21 307.35,524.68 307.60,525.91 307.85,526.89 308.09,527.60 308.34,528.04 308.58,528.20 308.83,528.08 309.08,527.69 309.32,527.03 309.57,526.11 309.82,524.93 310.06,523.51 310.31,521.88 310.55,520.03 310.80,518.01 311.05,515.82 311.29,513.50 311.54,511.06 311.79,508.54 312.03,505.96 312.28,503.36 312.52,500.75 312.77,498.16 313.02,495.63 313.26,493.18 313.51,490.84 313.76,488.63 314.00,486.57 314.25,484.69 314.50,483.00 314.74,481.53 314.99,480.28 315.23,479.27 315.48,478.51 315.73,478.01 315.97,477.78 316.22,477.81 316.47,478.10 316.71,478.66 316.96,479.47 317.20,480.53 317.45,481.82 317.70,483.33 317.94,485.05 318.19,486.95 318.44,489.02 318.68,491.23 318.93,493.55 319.17,495.97 319.42,498.46 319.67,500.99 319.91,503.53 320.16,506.06 320.41,508.54 320.65,510.96 320.90,513.28 321.15,515.48 321.39,517.54 321.64,519.44 321.88,521.15 322.13,522.66 322.38,523.95 322.62,525.00 322.87,525.81 323.12,526.37 323.36,526.67 323.61,526.70 323.85,526.48 324.10,526.00 324.35,525.26 324.59,524.28 324.84,523.07 325.09,521.64 325.33,520.00 325.58,518.18 325.82,516.20 326.07,514.07 326.32,511.83 326.56,509.49 326.81,507.07 327.06,504.62 327.30,502.15 327.55,499.69 327.80,497.26 328.04,494.90 328.29,492.62 328.53,490.45 328.78,488.42 329.03,486.54 329.27,484.84 329.52,483.33 329.77,482.03 330.01,480.95 330.26,480.10 330.50,479.50 330.75,479.14 331.00,479.03 331.24,479.18 331.49,479.58 331.74,480.22 331.98,481.10 332.23,482.21 332.47,483.54 332.72,485.07 332.97,486.79 333.21,488.67 333.46,490.70 333.71,492.85 333.95,495.10 334.20,497.43 334.45,499.81 334.69,502.22 334.94,504.63 335.18,507.01 335.43,509.34 335.68,511.60 335.92,513.75 336.17,515.78 336.42,517.66 336.66,519.38 336.91,520.91 337.15,522.24 337.40,523.36 337.65,524.25 337.89,524.91 338.14,525.32 338.39,525.49 338.63,525.41 338.88,525.08 339.13,524.51 339.37,523.70 339.62,522.66 339.86,521.41 340.11,519.96 340.36,518.32 340.60,516.52 340.85,514.57 341.10,512.49 341.34,510.30 341.59,508.04 341.83,505.72 342.08,503.37 342.33,501.01 342.57,498.68 342.82,496.38 343.07,494.16 343.31,492.04 343.56,490.02 343.80,488.15 344.05,486.43 344.30,484.89 344.54,483.54 344.79,482.40 345.04,481.47 345.28,480.78 345.53,480.31 345.78,480.09 346.02,480.11 346.27,480.36 346.51,480.86 346.76,481.59 347.01,482.54 347.25,483.71 347.50,485.07 347.75,486.62 347.99,488.34 348.24,490.22 348.48,492.22 348.73,494.33 348.98,496.52 349.22,498.78 349.47,501.08 349.72,503.39 349.96,505.68 350.21,507.94 350.45,510.14 350.70,512.25 350.95,514.26 351.19,516.14 351.44,517.87 351.69,519.43 351.93,520.80 352.18,521.98 352.43,522.95 352.67,523.69 352.92,524.21 353.16,524.49 353.41,524.53 353.66,524.33 353.90,523.90 354.15,523.24 354.40,522.36 354.64,521.27 354.89,519.97 355.13,518.49 355.38,516.83 355.63,515.03 355.87,513.09 356.12,511.04 356.37,508.90 356.61,506.69 356.86,504.45 357.10,502.18 357.35,499.92 357.60,497.70 357.84,495.52 358.09,493.43 358.34,491.43 358.58,489.56 358.83,487.83 359.08,486.26 359.32,484.87 359.57,483.67 359.81,482.67 360.06,481.89 360.31,481.33 360.55,481.00 360.80,480.90 361.05,481.04 361.29,481.40 361.54,481.99 361.78,482.81 362.03,483.83 362.28,485.06 362.52,486.47 362.77,488.05 363.02,489.78 363.26,491.65 363.51,493.64 363.75,495.72 364.00,497.86 364.25,500.06 364.49,502.28 364.74,504.50 364.99,506.69 365.23,508.84 365.48,510.91 365.73,512.89 365.97,514.76 366.22,516.49 366.46,518.07 366.71,519.48 366.96,520.71 367.20,521.73 367.45,522.55 367.70,523.15 367.94,523.53 368.19,523.68 368.43,523.60 368.68,523.29 368.93,522.76 369.17,522.02 369.42,521.06 369.67,519.90 369.91,518.56 370.16,517.05 370.40,515.38 370.65,513.58 370.90,511.65 371.14,509.64 371.39,507.55 371.64,505.40 371.88,503.23 372.13,501.06 372.38,498.90 372.62,496.78 372.87,494.73 373.11,492.77 373.36,490.91 373.61,489.18 373.85,487.60 374.10,486.18 374.35,484.94 374.59,483.88 374.84,483.03 375.08,482.40 375.33,481.97 375.58,481.77 375.82,481.80 376.07,482.04 376.32,482.51 376.56,483.19 376.81,484.08 377.06,485.17 377.30,486.44 377.55,487.88 377.79,489.48 378.04,491.22 378.29,493.08 378.53,495.03 378.78,497.07 379.03,499.16 379.27,501.28 379.52,503.42 379.76,505.54 380.01,507.63 380.26,509.66 380.50,511.61 380.75,513.46 381.00,515.19 381.24,516.78 381.49,518.22 381.73,519.48 381.98,520.56 382.23,521.45 382.47,522.13 382.72,522.59 382.97,522.84 383.21,522.88 383.46,522.69 383.71,522.28 383.95,521.66 384.20,520.84 384.44,519.81 384.69,518.61 384.94,517.23 385.18,515.69 385.43,514.01 385.68,512.21 385.92,510.30 386.17,508.32 386.41,506.27 386.66,504.18 386.91,502.08 387.15,499.98 387.40,497.91 387.65,495.90 387.89,493.95 388.14,492.10 388.38,490.37 388.63,488.76 388.88,487.31 389.12,486.02 389.37,484.91 389.62,483.99 389.86,483.27 390.11,482.76 390.36,482.47 390.60,482.39 390.85,482.52 391.09,482.88 391.34,483.44 391.59,484.21 391.83,485.17 392.08,486.33 392.33,487.65 392.57,489.14 392.82,490.76 393.06,492.51 393.31,494.37 393.56,496.31 393.80,498.32 394.05,500.37 394.30,502.45 394.54,504.52 394.79,506.56 395.03,508.56 395.28,510.50 395.53,512.34 395.77,514.08 396.02,515.69 396.27,517.16 396.51,518.46 396.76,519.60 397.01,520.54 397.25,521.30 397.50,521.84 397.74,522.18 397.99,522.31 398.24,522.22 398.48,521.92 398.73,521.41 398.98,520.70 399.22,519.79 399.47,518.70 399.71,517.43 399.96,516.01 400.21,514.43 400.45,512.73 400.70,510.93 400.95,509.03 401.19,507.06 401.44,505.05 401.68,503.01 401.93,500.97 402.18,498.95 402.42,496.96 402.67,495.04 402.92,493.20 403.16,491.47 403.41,489.85 403.66,488.37 403.90,487.05 404.15,485.89 404.39,484.92 404.64,484.14 404.89,483.55 405.13,483.17 405.38,483.00 405.63,483.04 405.87,483.29 406.12,483.75 406.36,484.41 406.61,485.27 406.86,486.31 407.10,487.52 407.35,488.89 407.60,490.41 407.84,492.06 408.09,493.81 408.33,495.66 408.58,497.58 408.83,499.55 409.07,501.55 409.32,503.56 409.57,505.55 409.81,507.51 410.06,509.41 410.31,511.23 410.55,512.95 410.80,514.57 411.04,516.05 411.29,517.38 411.54,518.55 411.78,519.54 412.03,520.35 412.28,520.97 412.52,521.38 412.77,521.60 413.01,521.60 413.26,521.40 413.51,521.00 413.75,520.40 414.00,519.60 414.25,518.63 414.49,517.47 414.74,516.16 414.99,514.70 415.23,513.12 415.48,511.42 415.72,509.62 415.97,507.75 416.22,505.83 416.46,503.87 416.71,501.90 416.96,499.93 417.20,498.00 417.45,496.12 417.69,494.30 417.94,492.58 418.19,490.97 418.43,489.48 418.68,488.14 418.93,486.95 419.17,485.93 419.42,485.09 419.66,484.44 419.91,483.98 420.16,483.73 420.40,483.67 420.65,483.82 420.90,484.17 421.14,484.72 421.39,485.46 421.64,486.39 421.88,487.48 422.13,488.74 422.37,490.15 422.62,491.68 422.87,493.34 423.11,495.09 423.36,496.91 423.61,498.80 423.85,500.73 424.10,502.67 424.34,504.61 424.59,506.53 424.84,508.40 425.08,510.20 425.33,511.92 425.58,513.54 425.82,515.04 426.07,516.40 426.31,517.60 426.56,518.65 426.81,519.52 427.05,520.20 427.30,520.69 427.55,520.99 427.79,521.08 428.04,520.97 428.29,520.67 428.53,520.17 428.78,519.47 429.02,518.60 429.27,517.55 429.52,516.34 429.76,514.99 430.01,513.50 430.26,511.89 430.50,510.18 430.75,508.40 430.99,506.55 431.24,504.66 431.49,502.75 431.73,500.84 431.98,498.95 432.23,497.10 432.47,495.31 432.72,493.60 432.96,492.00 433.21,490.50 433.46,489.14 433.70,487.93 433.95,486.88 434.20,485.99 434.44,485.29 434.69,484.77 434.94,484.45 435.18,484.32 435.43,484.39 435.67,484.66 435.92,485.12 436.17,485.76 436.41,486.59 436.66,487.59 436.91,488.74 437.15,490.05 437.40,491.48 437.64,493.03 437.89,494.68 438.14,496.41 438.38,498.21 438.63,500.04 438.88,501.89 439.12,503.75 439.37,505.58 439.61,507.38 439.86,509.11 440.11,510.77 440.35,512.34 440.60,513.79 440.85,515.11 441.09,516.30 441.34,517.33 441.59,518.20 441.83,518.89 442.08,519.41 442.32,519.74 442.57,519.88 442.82,519.84 443.06,519.61 443.31,519.20 443.56,518.60 443.80,517.84 444.05,516.91 444.29,515.83 444.54,514.61 444.79,513.26 445.03,511.80 445.28,510.25 445.53,508.61 445.77,506.91 446.02,505.17 446.26,503.40 446.51,501.62 446.76,499.85 447.00,498.12 447.25,496.44 447.50,494.82 447.74,493.29 447.99,491.85 448.24,490.54 448.48,489.36 448.73,488.32 448.97,487.43 449.22,486.71 449.47,486.16 449.71,485.79 449.96,485.60 450.21,485.59 450.45,485.77 450.70,486.13 450.94,486.66 451.19,487.37 451.44,488.24 451.68,489.26 451.93,490.42 452.18,491.72 452.42,493.13 452.67,494.64 452.92,496.23 453.16,497.89 453.41,499.60 453.65,501.34 453.90,503.09 454.15,504.83 454.39,506.55 454.64,508.22 454.89,509.82 455.13,511.35 455.38,512.77 455.62,514.09 455.87,515.28 456.12,516.33 456.36,517.22 456.61,517.96 456.86,518.53 457.10,518.92 457.35,519.14 457.59,519.17 457.84,519.03 458.09,518.70 458.33,518.20 458.58,517.53 458.83,516.70 459.07,515.71 459.32,514.59 459.57,513.33 459.81,511.95 460.06,510.48 460.30,508.91 460.55,507.28 460.80,505.60 461.04,503.89 461.29,502.16 461.54,500.44 461.78,498.74 462.03,497.09 462.27,495.49 462.52,493.97 462.77,492.55 463.01,491.23 463.26,490.04 463.51,488.98 463.75,488.08 464.00,487.32 464.24,486.74 464.49,486.32 464.74,486.08 464.98,486.02 465.23,486.14 465.48,486.44 465.72,486.91 465.97,487.55 466.22,488.35 466.46,489.30 466.71,490.40 466.95,491.63 467.20,492.97 467.45,494.42 467.69,495.95 467.94,497.55 468.19,499.21 468.43,500.90 468.68,502.61 468.92,504.31 469.17,506.00 469.42,507.64 469.66,509.23 469.91,510.74 470.16,512.17 470.40,513.48 470.65,514.68 470.89,515.75 471.14,516.66 471.39,517.43 471.63,518.03 471.88,518.47 472.13,518.73 472.37,518.81 472.62,518.72 472.87,518.45 473.11,518.00 473.36,517.39 473.60,516.62 473.85,515.70 474.10,514.63 474.34,513.43 474.59,512.11 474.84,510.69 475.08,509.18 475.33,507.60 475.57,505.97 475.82,504.29 476.07,502.60 476.31,500.91 476.56,499.24 476.81,497.61 477.05,496.02 477.30,494.51 477.54,493.09 477.79,491.77 478.04,490.57 478.28,489.50 478.53,488.57 478.78,487.79 479.02,487.17 479.27,486.72 479.52,486.44 479.76,486.33 480.01,486.40 480.25,486.65 480.50,487.07 480.75,487.65 480.99,488.40 481.24,489.30 481.49,490.34 481.73,491.51 481.98,492.80 482.22,494.20 482.47,495.69 482.72,497.25 482.96,498.86 483.21,500.52 483.46,502.19 483.70,503.87 483.95,505.53 484.19,507.16 484.44,508.74 484.69,510.25 484.93,511.67 485.18,512.99 485.43,514.20 485.67,515.28 485.92,516.23 486.17,517.02 486.41,517.65 486.66,518.12 486.90,518.42 487.15,518.54 487.40,518.50 487.64,518.27 487.89,517.88 488.14,517.32 488.38,516.60 488.63,515.72 488.87,514.71 489.12,513.56 489.37,512.29 489.61,510.91 489.86,509.45 490.11,507.91 490.35,506.31 490.60,504.67 490.85,503.01 491.09,501.34 491.34,499.69 491.58,498.06 491.83,496.49 492.08,494.98 492.32,493.56 492.57,492.23 492.82,491.01 493.06,489.92 493.31,488.97 493.55,488.17 493.80,487.52 494.05,487.03 494.29,486.71 494.54,486.57 494.79,486.59 495.03,486.79 495.28,487.16 495.52,487.70 495.77,488.40 496.02,489.25 496.26,490.24 496.51,491.37 496.76,492.61 497.00,493.97 497.25,495.41 497.50,496.93 497.74,498.52 497.99,500.14 498.23,501.79 498.48,503.45 498.73,505.09 498.97,506.71 499.22,508.28 499.47,509.79 499.71,511.22 499.96,512.55 500.20,513.77 500.45,514.87 500.70,515.83 500.94,516.65 501.19,517.32 501.44,517.82 501.68,518.16 501.93,518.33 502.17,518.33 502.42,518.15 502.67,517.80 502.91,517.29 503.16,516.62 503.41,515.79 503.65,514.82 503.90,513.72 504.15,512.50 504.39,511.17 504.64,509.74 504.88,508.24 505.13,506.67 505.38,505.06 505.62,503.42 505.87,501.78 506.12,500.14 506.36,498.53 506.61,496.96 506.85,495.45 507.10,494.02 507.35,492.68 507.59,491.45 507.84,490.34 508.09,489.36 508.33,488.53 508.58,487.85 508.82,487.32 509.07,486.96 509.32,486.77 509.56,486.75 509.81,486.91 510.06,487.23 510.30,487.71 510.55,488.36 510.80,489.16 511.04,490.10 511.29,491.18 511.53,492.38 511.78,493.69 512.03,495.10 512.27,496.58 512.52,498.13 512.77,499.73 513.01,501.35 513.26,502.99 513.50,504.62 513.75,506.23 514.00,507.79 514.24,509.30 514.49,510.73 514.74,512.08 514.98,513.32 515.23,514.44 515.47,515.43 515.72,516.28 515.97,516.98 516.21,517.52 516.46,517.90 516.71,518.12 516.95,518.16 517.20,518.03 517.45,517.74 517.69,517.27 517.94,516.65 518.18,515.88 518.43,514.96 518.68,513.90 518.92,512.72 519.17,511.44 519.42,510.05 519.66,508.58 519.91,507.05 520.15,505.47 520.40,503.86 520.65,502.23 520.89,500.61 521.14,499.01 521.39,497.44 521.63,495.94 521.88,494.50 522.12,493.15 522.37,491.91 522.62,490.78 522.86,489.77 523.11,488.91 523.36,488.19 523.60,487.63 523.85,487.24 524.10,487.00 524.34,486.94 524.59,487.05 524.83,487.32 525.08,487.76 525.33,488.35 525.57,489.11 525.82,490.00 526.07,491.03 526.31,492.19 526.56,493.46 526.80,494.82 527.05,496.27 527.30,497.78 527.54,499.35 527.79,500.95 528.04,502.56 528.28,504.18 528.53,505.77 528.78,507.33 529.02,508.83 529.27,510.27 529.51,511.62 529.76,512.87 530.01,514.01 530.25,515.02 530.50,515.89 530.75,516.62 530.99,517.19 531.24,517.61 531.48,517.86 531.73,517.94 531.98,517.86 532.22,517.61 532.47,517.19 532.72,516.62 532.96,515.89 533.21,515.02 533.45,514.01 533.70,512.88 533.95,511.63 534.19,510.29 534.44,508.86 534.69,507.36 534.93,505.82 535.18,504.23 535.43,502.63 535.67,501.03 535.92,499.44 536.16,497.89 536.41,496.39 536.66,494.96 536.90,493.61 537.15,492.36 537.40,491.21 537.64,490.20 537.89,489.31 538.13,488.57 538.38,487.98 538.63,487.55 538.87,487.28 539.12,487.18 539.37,487.24 539.61,487.47 539.86,487.86 540.10,488.41 540.35,489.12 540.60,489.97 540.84,490.95 541.09,492.06 541.34,493.28 541.58,494.61 541.83,496.01 542.08,497.49 542.32,499.02 542.57,500.59 542.81,502.18 543.06,503.77 543.31,505.34 543.55,506.89 543.80,508.39 544.05,509.82 544.29,511.17 544.54,512.42 544.78,513.57 545.03,514.60 545.28,515.49 545.52,516.25 545.77,516.85 546.02,517.30 546.26,517.59 546.51,517.71 546.75,517.67 547.00,517.46 547.25,517.09 547.49,516.56 547.74,515.88 547.99,515.05 548.23,514.09 548.48,513.00 548.73,511.80 548.97,510.50 549.22,509.12 549.46,507.66 549.71,506.14 549.96,504.59 550.20,503.01 550.45,501.44 550.70,499.87 550.94,498.33 551.19,496.84 551.43,495.41 551.68,494.05 551.93,492.80 552.17,491.64 552.42,490.61 552.67,489.70 552.91,488.93 553.16,488.31 553.40,487.85 553.65,487.54 553.90,487.40 554.14,487.42 554.39,487.61 554.64,487.96 554.88,488.46 555.13,489.12 555.38,489.92 555.62,490.86 555.87,491.92 556.11,493.10 556.36,494.38 556.61,495.75 556.85,497.19 557.10,498.68 557.35,500.22 557.59,501.78 557.84,503.35 558.08,504.91 558.33,506.44 558.58,507.93 558.82,509.36 559.07,510.72 559.32,511.98 559.56,513.14 559.81,514.19 560.06,515.10 560.30,515.88 560.55,516.52 560.79,517.00 561.04,517.33 561.29,517.49 561.53,517.49 561.78,517.33 562.03,517.01 562.27,516.53 562.52,515.89 562.76,515.12 563.01,514.20 563.26,513.16 563.50,512.01 563.75,510.75 564.00,509.40 564.24,507.98 564.49,506.50 564.73,504.98 564.98,503.43 565.23,501.87 565.47,500.32 565.72,498.80 565.97,497.31 566.21,495.88 566.46,494.52 566.71,493.26 566.95,492.09 567.20,491.03 567.44,490.10 567.69,489.31 567.94,488.65 568.18,488.15 568.43,487.81 568.68,487.62 568.92,487.60 569.17,487.73 569.41,488.03 569.66,488.48 569.91,489.09 570.15,489.84 570.40,490.73 570.65,491.74 570.89,492.87 571.14,494.11 571.38,495.43 571.63,496.83 571.88,498.29 572.12,499.80 572.37,501.34 572.62,502.88 572.86,504.42 573.11,505.95 573.36,507.43 573.60,508.86 573.85,510.22 574.09,511.49 574.34,512.67 574.59,513.73 574.83,514.68 575.08,515.49 575.33,516.16 575.57,516.68 575.82,517.05 576.06,517.26 576.31,517.31 576.56,517.20 576.80,516.94 577.05,516.51 577.30,515.93 577.54,515.21 577.79,514.35 578.03,513.37 578.28,512.26 578.53,511.05 578.77,509.75 579.02,508.37 579.27,506.93 579.51,505.44 579.76,503.92 580.01,502.39 580.25,500.85 580.50,499.34 580.74,497.86 580.99,496.43 581.24,495.07 581.48,493.79 581.73,492.60 581.98,491.52 582.22,490.56 582.47,489.73 582.71,489.04 582.96,488.50 583.21,488.10 583.45,487.86 583.70,487.78 583.95,487.86 584.19,488.10 584.44,488.49 584.68,489.04 584.93,489.73 585.18,490.56 585.42,491.51 585.67,492.59 585.92,493.77 586.16,495.04 586.41,496.40 586.66,497.82 586.90,499.29 587.15,500.79 587.39,502.31 587.64,503.84 587.89,505.34 588.13,506.82 588.38,508.25 588.63,509.61 588.87,510.90 589.12,512.10 589.36,513.19 589.61,514.17 589.86,515.02 590.10,515.74 590.35,516.31 590.60,516.73 590.84,517.00 591.09,517.11 591.33,517.06 591.58,516.86 591.83,516.50 592.07,515.99 592.32,515.34 592.57,514.54 592.81,513.62 593.06,512.58 593.31,511.43 593.55,510.18 593.80,508.85 594.04,507.46 594.29,506.01 594.54,504.52 594.78,503.02 595.03,501.50 595.28,500.00 595.52,498.53 595.77,497.10 596.01,495.73 596.26,494.43 596.51,493.22 596.75,492.12 597.00,491.12 597.25,490.25 597.49,489.51 597.74,488.91 597.99,488.46 598.23,488.16 598.48,488.01 598.72,488.03 598.97,488.19 599.22,488.51 599.46,488.99 599.71,489.61 599.96,490.36 600.20,491.25 600.45,492.26 600.69,493.38 600.94,494.59 601.19,495.89 601.43,497.26 601.68,498.69 601.93,500.16 602.17,501.65 602.42,503.15 602.66,504.64 602.91,506.11 603.16,507.54 603.40,508.91 603.65,510.22 603.90,511.44 604.14,512.56 604.39,513.57 604.64,514.46 604.88,515.23 605.13,515.85 605.37,516.33 605.62,516.67 605.87,516.85 606.11,516.87 606.36,516.74 606.61,516.45 606.85,516.02 607.10,515.44 607.34,514.72 607.59,513.87 607.84,512.89 608.08,511.81 608.33,510.63 608.58,509.35 608.82,508.01 609.07,506.61 609.31,505.16 609.56,503.69 609.81,502.20 610.05,500.72 610.30,499.26 610.55,497.83 610.79,496.46 611.04,495.15 611.29,493.92 611.53,492.78 611.78,491.75 612.02,490.84 612.27,490.05 612.52,489.40 612.76,488.89 613.01,488.53 613.26,488.32 613.50,488.26 613.75,488.35 613.99,488.60 614.24,488.99 614.49,489.54 614.73,490.22 614.98,491.03 615.23,491.97 615.47,493.02 615.72,494.17 615.96,495.41 616.21,496.72 616.46,498.10 616.70,499.52 616.95,500.98 617.20,502.45 617.44,503.92 617.69,505.37 617.94,506.79 618.18,508.17 618.43,509.48 618.67,510.71 618.92,511.86 619.17,512.91 619.41,513.84 619.66,514.65 619.91,515.32 620.15,515.86 620.40,516.26 620.64,516.50 620.89,516.60 621.14,516.54 621.38,516.33 621.63,515.97 621.88,515.47 622.12,514.83 622.37,514.05 622.61,513.15 622.86,512.14 623.11,511.02 623.35,509.82 623.60,508.53 623.85,507.18 624.09,505.78 624.34,504.35 624.59,502.90 624.83,501.45 625.08,500.00 625.32,498.59 625.57,497.22 625.82,495.91 626.06,494.67 626.31,493.51 626.56,492.45 626.80,491.51 627.05,490.68 627.29,489.98 627.54,489.41 627.79,488.99 628.03,488.72 628.28,488.59 628.53,488.61 628.77,488.79 629.02,489.11 629.26,489.57 629.51,490.17 629.76,490.91 630.00,491.77 630.25,492.74 630.50,493.82 630.74,494.99 630.99,496.24 631.24,497.56 631.48,498.93 631.73,500.33 631.97,501.76 632.22,503.19 632.47,504.61 632.71,506.01 632.96,507.37 633.21,508.67 633.45,509.91 633.70,511.06 633.94,512.12 634.19,513.08 634.44,513.92 634.68,514.63 634.93,515.21 635.18,515.66 635.42,515.96 635.67,516.12 635.92,516.13 636.16,515.99 636.41,515.71 636.65,515.29 636.90,514.73 637.15,514.04 637.39,513.22 637.64,512.29 637.89,511.26 638.13,510.14 638.38,508.93 638.62,507.65 638.87,506.33 639.12,504.96 639.36,503.57 639.61,502.17 639.86,500.77 640.10,499.40 640.35,498.06 640.59,496.77 640.84,495.54 641.09,494.39 641.33,493.33 641.58,492.37 641.83,491.52 642.07,490.79 642.32,490.19 642.57,489.72 642.81,489.39 643.06,489.20 643.30,489.15 643.55,489.25 643.80,489.49 644.04,489.87 644.29,490.38 644.54,491.03 644.78,491.80 645.03,492.68 645.27,493.66 645.52,494.74 645.77,495.91 646.01,497.14 646.26,498.43 646.51,499.76 646.75,501.12 647.00,502.49 647.24,503.86 647.49,505.21 647.74,506.54 647.98,507.82 648.23,509.04 648.48,510.19 648.72,511.26 648.97,512.23 649.22,513.09 649.46,513.84 649.71,514.47 649.95,514.97 650.20,515.33 650.45,515.56 650.69,515.64 650.94,515.59 651.19,515.39 651.43,515.06 651.68,514.59 651.92,513.98 652.17,513.26 652.42,512.42 652.66,511.48 652.91,510.43 653.16,509.31 653.40,508.11 653.65,506.85 653.89,505.54 654.14,504.20 654.39,502.84 654.63,501.49 654.88,500.14 655.13,498.81 655.37,497.53 655.62,496.30 655.87,495.14 656.11,494.06 656.36,493.07 656.60,492.18 656.85,491.41 657.10,490.75 657.34,490.22 657.59,489.82 657.84,489.56 658.08,489.44 658.33,489.46 658.57,489.62 658.82,489.92 659.07,490.36 659.31,490.92 659.56,491.61 659.81,492.42 660.05,493.33 660.30,494.35 660.54,495.45 660.79,496.63 661.04,497.87 661.28,499.16 661.53,500.48 661.78,501.83 662.02,503.18 662.27,504.53 662.52,505.85 662.76,507.14 663.01,508.37 663.25,509.55 663.50,510.64 663.75,511.65 663.99,512.56 664.24,513.36 664.49,514.05 664.73,514.60 664.98,515.03 665.22,515.32 665.47,515.48 665.72,515.49 665.96,515.37 666.21,515.10 666.46,514.70 666.70,514.17 666.95,513.52 667.19,512.74 667.44,511.85 667.69,510.87 667.93,509.79 668.18,508.64 668.43,507.42 668.67,506.14 668.92,504.83 669.17,503.49 669.41,502.15 669.66,500.80 669.90,499.48 670.15,498.19 670.40,496.94 670.64,495.76 670.89,494.64 671.14,493.62 671.38,492.69 671.63,491.86 671.87,491.15 672.12,490.57 672.37,490.11 672.61,489.78 672.86,489.59 673.11,489.55 673.35,489.64 673.60,489.87 673.85,490.23 674.09,490.73 674.34,491.36 674.58,492.10 674.83,492.96 675.08,493.92 675.32,494.97 675.57,496.11 675.82,497.31 676.06,498.57 676.31,499.87 676.55,501.19 676.80,502.54 677.05,503.88 677.29,505.20 677.54,506.50 677.79,507.75 678.03,508.95 678.28,510.08 678.52,511.12 678.77,512.07 679.02,512.92 679.26,513.66 679.51,514.27 679.76,514.76 680.00,515.11 680.25,515.33 680.50,515.41 680.74,515.35 680.99,515.16 681.23,514.82 681.48,514.36 681.73,513.76 681.97,513.05 682.22,512.22 682.47,511.28 682.71,510.25 682.96,509.14 683.20,507.96 683.45,506.72 683.70,505.43 683.94,504.11 684.19,502.77 684.44,501.43 684.68,500.11 684.93,498.81 685.17,497.54 685.42,496.34 685.67,495.20 685.91,494.14 686.16,493.16 686.41,492.29 686.65,491.53 686.90,490.89 687.15,490.38 687.39,489.99 687.64,489.74 687.88,489.63 688.13,489.65 688.38,489.82 688.62,490.12 688.87,490.56 689.12,491.12 689.36,491.81 689.61,492.61 689.85,493.52 690.10,494.52 690.35,495.62 690.59,496.78 690.84,498.01 691.09,499.28 691.33,500.59 691.58,501.92 691.82,503.26 692.07,504.59 692.32,505.89 692.56,507.16 692.81,508.38 693.06,509.53 693.30,510.61 693.55,511.60 693.80,512.49 694.04,513.28 694.29,513.95 694.53,514.49 694.78,514.90 695.03,515.18 695.27,515.33 695.52,515.33 695.77,515.20 696.01,514.93 696.26,514.52 696.50,513.99 696.75,513.33 697.00,512.56 697.24,511.67 697.49,510.69 697.74,509.62 697.98,508.47 698.23,507.26 698.47,506.00 698.72,504.70 698.97,503.38 699.21,502.04 699.46,500.71 699.71,499.41 699.95,498.13 700.20,496.90 700.45,495.74 700.69,494.64 700.94,493.63 701.18,492.72 701.43,491.91 701.68,491.22 701.92,490.65 702.17,490.21 702.42,489.90 702.66,489.72 702.91,489.69 703.15,489.79 703.40,490.03 703.65,490.40 703.89,490.90 704.14,491.53 704.39,492.28 704.63,493.14 704.88,494.10 705.12,495.15 705.37,496.27 705.62,497.47 705.86,498.72 706.11,500.01 706.36,501.33 706.60,502.65 706.85,503.98 707.10,505.29 707.34,506.57 707.59,507.81 707.83,508.99 708.08,510.10 708.33,511.13 708.57,512.06 708.82,512.89 709.07,513.61 709.31,514.21 709.56,514.68 709.80,515.02 710.05,515.22 710.30,515.29 710.54,515.22 710.79,515.01 711.04,514.67 711.28,514.20 711.53,513.60 711.78,512.88 712.02,512.04 712.27,511.11 712.51,510.08 712.76,508.97 713.01,507.80 713.25,506.56 713.50,505.28 713.75,503.97 713.99,502.65 714.24,501.32 714.48,500.01 714.73,498.73 714.98,497.48 715.22,496.29 715.47,495.17 715.72,494.12 715.96,493.17 716.21,492.32 716.45,491.57 716.70,490.95 716.95,490.45 717.19,490.08 717.44,489.84 717.69,489.75 717.93,489.78 718.18,489.96 718.43,490.27 718.67,490.71 718.92,491.28 719.16,491.97 719.41,492.78 719.66,493.69 719.90,494.69 720.15,495.78 720.40,496.94 720.64,498.16 720.89,499.42 721.13,500.72 721.38,502.04 721.63,503.36 721.87,504.68 722.12,505.97 722.37,507.22 722.61,508.42 722.86,509.56 723.10,510.62 723.35,511.59 723.60,512.47 723.84,513.23 724.09,513.88 724.34,514.41 724.58,514.81 724.83,515.08 725.08,515.21 725.32,515.20 725.57,515.06 725.81,514.78 726.06,514.37 726.31,513.83 726.55,513.17 726.80,512.40 727.05,511.52 727.29,510.54 727.54,509.47 727.78,508.33 728.03,507.13 728.28,505.88 728.52,504.59 728.77,503.27 729.02,501.95 729.26,500.64 729.51,499.35 729.75,498.09 730.00,496.88 730.25,495.73 730.49,494.65 730.74,493.66 730.99,492.76 731.23,491.97 731.48,491.29 731.73,490.73 731.97,490.30 732.22,490.00 732.46,489.84 732.71,489.81 732.96,489.92 733.20,490.16 733.45,490.54 733.70,491.05 733.94,491.68 734.19,492.42 734.43,493.28 734.68,494.23 734.93,495.27 735.17,496.39 735.42,497.58 735.67,498.82 735.91,500.10 736.16,501.40 736.40,502.72 736.65,504.03 736.90,505.33 737.14,506.59 737.39,507.81 737.64,508.98 737.88,510.07 738.13,511.08 738.38,512.00 738.62,512.82 738.87,513.53 739.11,514.11 739.36,514.58 739.61,514.91 739.85,515.11 740.10,515.17 740.35,515.10 740.59,514.89 740.84,514.54 741.08,514.07 741.33,513.47 741.58,512.76 741.82,511.93 742.07,511.01 742.32,509.99 742.56,508.89 742.81,507.72 743.05,506.50 743.30,505.23 743.55,503.94 743.79,502.63 744.04,501.31 744.29,500.01 744.53,498.74 744.78,497.51 745.03,496.33 745.27,495.22 745.52,494.19 745.76,493.25 746.01,492.40 746.26,491.67 746.50,491.05 746.75,490.56 747.00,490.19 747.24,489.96 747.49,489.86 747.73,489.90 747.98,490.07 748.23,490.38 748.47,490.81 748.72,491.38 748.97,492.06 749.21,492.85 749.46,493.75 749.71,494.74 749.95,495.82 750.20,496.97 750.44,498.17 750.69,499.43 750.94,500.71 751.18,502.02 751.43,503.33 751.68,504.63 751.92,505.91 752.17,507.15 752.41,508.34 752.66,509.47 752.91,510.52 753.15,511.49 753.40,512.36 753.65,513.12 753.89,513.77 754.14,514.30 754.38,514.70 754.63,514.97 754.88,515.10 755.12,515.10 755.37,514.97 755.62,514.70 755.86,514.30 756.11,513.77 756.36,513.12 756.60,512.36 756.85,511.49 757.09,510.52 757.34,509.47 757.59,508.34 757.83,507.15 758.08,505.92 758.33,504.64 758.57,503.34 758.82,502.03 759.06,500.73 759.31,499.45 759.56,498.20 759.80,496.99 760.05,495.85 760.30,494.78 760.54,493.79 760.79,492.89 761.03,492.10 761.28,491.42 761.53,490.86 761.77,490.42 762.02,490.12 762.27,489.95 762.51,489.91 762.76,490.01 763.01,490.24 763.25,490.60 763.50,491.10 763.74,491.71 763.99,492.44 764.24,493.28 764.48,494.22 764.73,495.25 764.98,496.35 765.22,497.52 765.47,498.75 765.71,500.01 765.96,501.30 766.21,502.61 766.45,503.91 766.70,505.19 766.95,506.45 767.19,507.67 767.44,508.83 767.68,509.92 767.93,510.93 768.18,511.85 768.42,512.67 768.67,513.38 768.92,513.97 769.16,514.44 769.41,514.78 769.66,514.99 769.90,515.06 770.15,515.00 770.39,514.81 770.64,514.48 770.89,514.02 771.13,513.44 771.38,512.75 771.63,511.94 771.87,511.03 772.12,510.03 772.36,508.94 772.61,507.79 772.86,506.59 773.10,505.33 773.35,504.05 773.60,502.75 773.84,501.45 774.09,500.16 774.33,498.90 774.58,497.68 774.83,496.50 775.07,495.40 775.32,494.36 775.57,493.42 775.81,492.57 776.06,491.84 776.31,491.21 776.55,490.71 776.80,490.33 777.04,490.09 777.29,489.98 777.54,490.00 777.78,490.16 778.03,490.45 778.28,490.87 778.52,491.42 778.77,492.08 779.01,492.86 779.26,493.74 779.51,494.71 779.75,495.77 780.00,496.90 780.25,498.09 780.49,499.33 780.74,500.60 780.98,501.89 781.23,503.19 781.48,504.47 781.72,505.74 781.97,506.98 782.22,508.16 782.46,509.28 782.71,510.33 782.96,511.30 783.20,512.17 783.45,512.94 783.69,513.59 783.94,514.13 784.19,514.53 784.43,514.81 784.68,514.96 784.93,514.98 785.17,514.85 785.42,514.60 785.66,514.22 785.91,513.71 786.16,513.08 786.40,512.33 786.65,511.48 786.90,510.54 787.14,509.50 787.39,508.40 787.64,507.23 787.88,506.01 788.13,504.75 788.37,503.47 788.62,502.17 788.87,500.89 789.11,499.62 789.36,498.38 789.61,497.18 789.85,496.05 790.10,494.98 790.34,494.00 790.59,493.10 790.84,492.31 791.08,491.63 791.33,491.06 791.58,490.62 791.82,490.31 792.07,490.13 792.31,490.08 792.56,490.16 792.81,490.38 793.05,490.73 793.30,491.20 793.55,491.80 793.79,492.51 794.04,493.32 794.29,494.24 794.53,495.24 794.78,496.33 795.02,497.47 795.27,498.67 795.52,499.92 795.76,501.19 796.01,502.47 796.26,503.75 796.50,505.02 796.75,506.26 796.99,507.46 797.24,508.60 797.49,509.68 797.73,510.69 797.98,511.60 798.23,512.41 798.47,513.12 798.72,513.71 798.96,514.19 799.21,514.53 799.46,514.75 799.70,514.83 799.95,514.79"/><polyline points="61.30,577.50 61.55,578.01 61.79,579.31 62.04,581.40 62.29,584.24 62.53,587.80 62.78,592.04 63.02,596.91 63.27,602.36 63.52,608.33 63.76,614.76 64.01,621.57 64.26,628.68 64.50,636.03 64.75,643.53 64.99,651.10 65.24,658.66 65.49,666.13 65.73,673.43 65.98,680.48 66.23,687.20 66.47,693.54 66.72,699.41 66.96,704.76 67.21,709.53 67.46,713.67 67.70,717.15 67.95,719.92 68.20,721.97 68.44,723.26 68.69,723.79 68.94,723.56 69.18,722.57 69.43,720.83 69.67,718.37 69.92,715.22 70.17,711.40 70.41,706.97 70.66,701.98 70.91,696.48 71.15,690.53 71.40,684.19 71.64,677.55 71.89,670.66 72.14,663.61 72.38,656.47 72.63,649.32 72.88,642.23 73.12,635.28 73.37,628.55 73.61,622.10 73.86,616.00 74.11,610.32 74.35,605.11 74.60,600.43 74.85,596.33 75.09,592.85 75.34,590.01 75.59,587.86 75.83,586.40 76.08,585.66 76.32,585.63 76.57,586.31 76.82,587.70 77.06,589.78 77.31,592.51 77.56,595.88 77.80,599.83 78.05,604.33 78.29,609.32 78.54,614.75 78.79,620.56 79.03,626.68 79.28,633.05 79.53,639.59 79.77,646.24 80.02,652.93 80.27,659.57 80.51,666.12 80.76,672.48 81.00,678.60 81.25,684.42 81.50,689.87 81.74,694.90 81.99,699.45 82.24,703.48 82.48,706.96 82.73,709.84 82.97,712.10 83.22,713.71 83.47,714.67 83.71,714.97 83.96,714.60 84.21,713.57 84.45,711.90 84.70,709.60 84.94,706.70 85.19,703.24 85.44,699.25 85.68,694.78 85.93,689.87 86.18,684.58 86.42,678.98 86.67,673.11 86.92,667.04 87.16,660.84 87.41,654.57 87.65,648.31 87.90,642.11 88.15,636.04 88.39,630.17 88.64,624.55 88.89,619.25 89.13,614.32 89.38,609.81 89.62,605.77 89.87,602.24 90.12,599.26 90.36,596.85 90.61,595.04 90.86,593.84 91.10,593.27 91.35,593.33 91.59,594.02 91.84,595.33 92.09,597.24 92.33,599.74 92.58,602.79 92.83,606.35 93.07,610.40 93.32,614.89 93.57,619.77 93.81,624.98 94.06,630.48 94.30,636.19 94.55,642.07 94.80,648.05 95.04,654.06 95.29,660.04 95.54,665.92 95.78,671.65 96.03,677.17 96.27,682.41 96.52,687.32 96.77,691.85 97.01,695.95 97.26,699.58 97.51,702.70 97.75,705.28 98.00,707.29 98.24,708.71 98.49,709.54 98.74,709.75 98.98,709.35 99.23,708.34 99.48,706.74 99.72,704.58 99.97,701.86 100.22,698.62 100.46,694.90 100.71,690.74 100.95,686.18 101.20,681.28 101.45,676.08 101.69,670.65 101.94,665.03 102.19,659.30 102.43,653.51 102.68,647.73 102.92,642.01 103.17,636.42 103.42,631.01 103.66,625.85 103.91,620.98 104.16,616.46 104.40,612.34 104.65,608.65 104.89,605.43 105.14,602.73 105.39,600.56 105.63,598.94 105.88,597.90 106.13,597.44 106.37,597.57 106.62,598.27 106.87,599.56 107.11,601.40 107.36,603.77 107.60,606.66 107.85,610.03 108.10,613.84 108.34,618.06 108.59,622.63 108.84,627.50 109.08,632.63 109.33,637.96 109.57,643.43 109.82,648.99 110.07,654.57 110.31,660.11 110.56,665.57 110.81,670.87 111.05,675.96 111.30,680.80 111.54,685.32 111.79,689.48 112.04,693.24 112.28,696.56 112.53,699.41 112.78,701.75 113.02,703.56 113.27,704.83 113.52,705.53 113.76,705.67 114.01,705.25 114.25,704.27 114.50,702.73 114.75,700.67 114.99,698.11 115.24,695.06 115.49,691.58 115.73,687.68 115.98,683.42 116.22,678.85 116.47,674.01 116.72,668.95 116.96,663.73 117.21,658.41 117.46,653.04 117.70,647.68 117.95,642.38 118.20,637.20 118.44,632.20 118.69,627.43 118.93,622.93 119.18,618.76 119.43,614.96 119.67,611.57 119.92,608.62 120.17,606.14 120.41,604.16 120.66,602.69 120.90,601.76 121.15,601.36 121.40,601.51 121.64,602.20 121.89,603.41 122.14,605.15 122.38,607.38 122.63,610.08 122.87,613.23 123.12,616.79 123.37,620.71 123.61,624.97 123.86,629.51 124.11,634.28 124.35,639.23 124.60,644.31 124.85,649.47 125.09,654.65 125.34,659.80 125.58,664.85 125.83,669.77 126.08,674.49 126.32,678.97 126.57,683.16 126.82,687.01 127.06,690.49 127.31,693.56 127.55,696.19 127.80,698.35 128.05,700.02 128.29,701.18 128.54,701.82 128.79,701.94 129.03,701.54 129.28,700.61 129.52,699.18 129.77,697.26 130.02,694.87 130.26,692.03 130.51,688.78 130.76,685.15 131.00,681.19 131.25,676.93 131.50,672.42 131.74,667.71 131.99,662.85 132.23,657.90 132.48,652.89 132.73,647.89 132.97,642.96 133.22,638.13 133.47,633.47 133.71,629.02 133.96,624.83 134.20,620.94 134.45,617.39 134.70,614.23 134.94,611.47 135.19,609.16 135.44,607.31 135.68,605.95 135.93,605.08 136.17,604.71 136.42,604.85 136.67,605.50 136.91,606.64 137.16,608.27 137.41,610.36 137.65,612.89 137.90,615.84 138.15,619.17 138.39,622.84 138.64,626.82 138.88,631.06 139.13,635.51 139.38,640.14 139.62,644.89 139.87,649.71 140.12,654.54 140.36,659.34 140.61,664.06 140.85,668.65 141.10,673.05 141.35,677.23 141.59,681.13 141.84,684.72 142.09,687.97 142.33,690.82 142.58,693.27 142.82,695.28 143.07,696.83 143.32,697.91 143.56,698.51 143.81,698.61 144.06,698.23 144.30,697.36 144.55,696.02 144.80,694.23 145.04,691.99 145.29,689.34 145.53,686.31 145.78,682.93 146.03,679.23 146.27,675.26 146.52,671.06 146.77,666.67 147.01,662.15 147.26,657.53 147.50,652.87 147.75,648.22 148.00,643.62 148.24,639.13 148.49,634.79 148.74,630.65 148.98,626.75 149.23,623.13 149.47,619.82 149.72,616.88 149.97,614.31 150.21,612.15 150.46,610.43 150.71,609.15 150.95,608.33 151.20,607.99 151.45,608.11 151.69,608.70 151.94,609.75 152.18,611.26 152.43,613.19 152.68,615.54 152.92,618.28 153.17,621.37 153.42,624.79 153.66,628.49 153.91,632.45 154.15,636.61 154.40,640.93 154.65,645.37 154.89,649.88 155.14,654.40 155.39,658.90 155.63,663.33 155.88,667.64 156.13,671.78 156.37,675.70 156.62,679.38 156.86,682.77 157.11,685.83 157.36,688.53 157.60,690.84 157.85,692.74 158.10,694.22 158.34,695.25 158.59,695.82 158.83,695.93 159.08,695.58 159.33,694.77 159.57,693.52 159.82,691.83 160.07,689.72 160.31,687.23 160.56,684.37 160.80,681.18 161.05,677.69 161.30,673.95 161.54,669.98 161.79,665.84 162.04,661.57 162.28,657.22 162.53,652.83 162.78,648.45 163.02,644.12 163.27,639.89 163.51,635.81 163.76,631.91 164.01,628.24 164.25,624.84 164.50,621.74 164.75,618.98 164.99,616.57 165.24,614.55 165.48,612.93 165.73,611.74 165.98,610.97 166.22,610.65 166.47,610.77 166.72,611.33 166.96,612.32 167.21,613.74 167.45,615.57 167.70,617.78 167.95,620.36 168.19,623.27 168.44,626.49 168.69,629.98 168.93,633.70 169.18,637.62 169.43,641.69 169.67,645.86 169.92,650.11 170.16,654.37 170.41,658.61 170.66,662.77 170.90,666.82 171.15,670.72 171.40,674.41 171.64,677.87 171.89,681.05 172.13,683.92 172.38,686.46 172.63,688.63 172.87,690.41 173.12,691.79 173.37,692.74 173.61,693.27 173.86,693.36 174.10,693.01 174.35,692.24 174.60,691.04 174.84,689.43 175.09,687.43 175.34,685.07 175.58,682.36 175.83,679.34 176.08,676.05 176.32,672.51 176.57,668.78 176.81,664.88 177.06,660.86 177.31,656.77 177.55,652.65 177.80,648.54 178.05,644.48 178.29,640.52 178.54,636.70 178.78,633.07 179.03,629.65 179.28,626.48 179.52,623.59 179.77,621.02 180.02,618.79 180.26,616.92 180.51,615.43 180.75,614.33 181.00,613.64 181.25,613.36 181.49,613.49 181.74,614.04 181.99,615.00 182.23,616.35 182.48,618.08 182.73,620.17 182.97,622.60 183.22,625.34 183.46,628.37 183.71,631.65 183.96,635.15 184.20,638.83 184.45,642.64 184.70,646.56 184.94,650.53 185.19,654.52 185.43,658.48 185.68,662.37 185.93,666.15 186.17,669.78 186.42,673.22 186.67,676.44 186.91,679.39 187.16,682.06 187.40,684.40 187.65,686.40 187.90,688.04 188.14,689.29 188.39,690.15 188.64,690.61 188.88,690.66 189.13,690.30 189.38,689.54 189.62,688.38 189.87,686.84 190.11,684.94 190.36,682.70 190.61,680.14 190.85,677.29 191.10,674.19 191.35,670.87 191.59,667.36 191.84,663.70 192.08,659.94 192.33,656.11 192.58,652.25 192.82,648.41 193.07,644.62 193.32,640.93 193.56,637.37 193.81,633.98 194.06,630.80 194.30,627.86 194.55,625.19 194.79,622.81 195.04,620.75 195.29,619.03 195.53,617.67 195.78,616.68 196.03,616.07 196.27,615.85 196.52,616.02 196.76,616.57 197.01,617.50 197.26,618.81 197.50,620.46 197.75,622.46 198.00,624.77 198.24,627.37 198.49,630.24 198.73,633.34 198.98,636.64 199.23,640.10 199.47,643.68 199.72,647.36 199.97,651.09 200.21,654.82 200.46,658.53 200.71,662.17 200.95,665.70 201.20,669.08 201.44,672.29 201.69,675.27 201.94,678.02 202.18,680.48 202.43,682.65 202.68,684.49 202.92,685.99 203.17,687.12 203.41,687.89 203.66,688.28 203.91,688.29 204.15,687.91 204.40,687.16 204.65,686.04 204.89,684.57 205.14,682.76 205.38,680.63 205.63,678.20 205.88,675.51 206.12,672.58 206.37,669.44 206.62,666.12 206.86,662.67 207.11,659.12 207.36,655.51 207.60,651.87 207.85,648.25 208.09,644.68 208.34,641.20 208.59,637.85 208.83,634.67 209.08,631.68 209.33,628.91 209.57,626.40 209.82,624.18 210.06,622.25 210.31,620.66 210.56,619.40 210.80,618.50 211.05,617.95 211.30,617.78 211.54,617.97 211.79,618.53 212.03,619.45 212.28,620.71 212.53,622.31 212.77,624.23 213.02,626.44 213.27,628.93 213.51,631.67 213.76,634.62 214.01,637.76 214.25,641.06 214.50,644.47 214.74,647.96 214.99,651.50 215.24,655.05 215.48,658.56 215.73,662.01 215.98,665.35 216.22,668.55 216.47,671.58 216.71,674.40 216.96,676.99 217.21,679.31 217.45,681.35 217.70,683.07 217.95,684.47 218.19,685.53 218.44,686.23 218.68,686.57 218.93,686.55 219.18,686.16 219.42,685.42 219.67,684.33 219.92,682.90 220.16,681.15 220.41,679.09 220.66,676.75 220.90,674.16 221.15,671.34 221.39,668.33 221.64,665.16 221.89,661.87 222.13,658.48 222.38,655.04 222.63,651.59 222.87,648.16 223.12,644.78 223.36,641.50 223.61,638.35 223.86,635.36 224.10,632.56 224.35,629.98 224.60,627.64 224.84,625.58 225.09,623.81 225.33,622.35 225.58,621.20 225.83,620.40 226.07,619.93 226.32,619.80 226.57,620.02 226.81,620.58 227.06,621.48 227.31,622.71 227.55,624.25 227.80,626.08 228.04,628.19 228.29,630.56 228.54,633.16 228.78,635.95 229.03,638.92 229.28,642.03 229.52,645.25 229.77,648.54 230.01,651.87 230.26,655.20 230.51,658.49 230.75,661.72 231.00,664.85 231.25,667.84 231.49,670.67 231.74,673.30 231.99,675.70 232.23,677.86 232.48,679.74 232.72,681.33 232.97,682.61 233.22,683.56 233.46,684.19 233.71,684.47 233.96,684.41 234.20,684.02 234.45,683.28 234.69,682.22 234.94,680.85 235.19,679.17 235.43,677.21 235.68,674.99 235.93,672.53 236.17,669.87 236.42,667.04 236.66,664.05 236.91,660.96 237.16,657.78 237.40,654.57 237.65,651.34 237.90,648.13 238.14,644.99 238.39,641.93 238.64,639.00 238.88,636.22 239.13,633.63 239.37,631.24 239.62,629.08 239.87,627.18 240.11,625.55 240.36,624.20 240.61,623.16 240.85,622.43 241.10,622.01 241.34,621.91 241.59,622.13 241.84,622.68 242.08,623.54 242.33,624.71 242.58,626.17 242.82,627.91 243.07,629.91 243.31,632.15 243.56,634.60 243.81,637.25 244.05,640.05 244.30,642.98 244.55,646.01 244.79,649.11 245.04,652.24 245.29,655.38 245.53,658.48 245.78,661.52 246.02,664.46 246.27,667.27 246.52,669.92 246.76,672.38 247.01,674.63 247.26,676.65 247.50,678.40 247.75,679.88 247.99,681.06 248.24,681.94 248.49,682.51 248.73,682.75 248.98,682.67 249.23,682.27 249.47,681.55 249.72,680.51 249.96,679.18 250.21,677.57 250.46,675.68 250.70,673.56 250.95,671.21 251.20,668.67 251.44,665.96 251.69,663.11 251.94,660.16 252.18,657.14 252.43,654.08 252.67,651.01 252.92,647.97 253.17,644.99 253.41,642.09 253.66,639.31 253.91,636.69 254.15,634.23 254.40,631.98 254.64,629.95 254.89,628.17 255.14,626.64 255.38,625.40 255.63,624.44 255.88,623.77 256.12,623.41 256.37,623.36 256.61,623.62 256.86,624.18 257.11,625.05 257.35,626.20 257.60,627.64 257.85,629.33 258.09,631.27 258.34,633.44 258.59,635.80 258.83,638.34 259.08,641.03 259.32,643.84 259.57,646.75 259.82,649.71 260.06,652.69 260.31,655.68 260.56,658.62 260.80,661.50 261.05,664.28 261.29,666.94 261.54,669.43 261.79,671.74 262.03,673.85 262.28,675.72 262.53,677.35 262.77,678.70 263.02,679.78 263.26,680.55 263.51,681.03 263.76,681.20 264.00,681.06 264.25,680.62 264.50,679.87 264.74,678.84 264.99,677.52 265.24,675.94 265.48,674.12 265.73,672.06 265.97,669.81 266.22,667.37 266.47,664.78 266.71,662.07 266.96,659.27 267.21,656.40 267.45,653.49 267.70,650.59 267.94,647.71 268.19,644.89 268.44,642.15 268.68,639.54 268.93,637.07 269.18,634.76 269.42,632.65 269.67,630.76 269.92,629.09 270.16,627.68 270.41,626.54 270.65,625.67 270.90,625.08 271.15,624.79 271.39,624.79 271.64,625.09 271.89,625.67 272.13,626.55 272.38,627.70 272.62,629.11 272.87,630.77 273.12,632.66 273.36,634.77 273.61,637.06 273.86,639.51 274.10,642.10 274.35,644.80 274.59,647.59 274.84,650.42 275.09,653.27 275.33,656.12 275.58,658.92 275.83,661.65 276.07,664.28 276.32,666.79 276.57,669.14 276.81,671.31 277.06,673.28 277.30,675.02 277.55,676.52 277.80,677.76 278.04,678.72 278.29,679.41 278.54,679.80 278.78,679.90 279.03,679.70 279.27,679.21 279.52,678.44 279.77,677.39 280.01,676.07 280.26,674.51 280.51,672.71 280.75,670.70 281.00,668.51 281.24,666.14 281.49,663.64 281.74,661.02 281.98,658.31 282.23,655.56 282.48,652.77 282.72,649.99 282.97,647.24 283.22,644.56 283.46,641.96 283.71,639.48 283.95,637.15 284.20,634.98 284.45,633.00 284.69,631.23 284.94,629.69 285.19,628.40 285.43,627.36 285.68,626.59 285.92,626.09 286.17,625.88 286.42,625.95 286.66,626.31 286.91,626.95 287.16,627.86 287.40,629.03 287.65,630.45 287.89,632.11 288.14,633.98 288.39,636.06 288.63,638.30 288.88,640.70 289.13,643.23 289.37,645.85 289.62,648.55 289.87,651.28 290.11,654.03 290.36,656.76 290.60,659.45 290.85,662.06 291.10,664.56 291.34,666.94 291.59,669.16 291.84,671.20 292.08,673.03 292.33,674.65 292.57,676.03 292.82,677.15 293.07,678.01 293.31,678.60 293.56,678.90 293.81,678.92 294.05,678.65 294.30,678.10 294.54,677.26 294.79,676.16 295.04,674.81 295.28,673.22 295.53,671.41 295.78,669.40 296.02,667.21 296.27,664.87 296.52,662.41 296.76,659.85 297.01,657.22 297.25,654.55 297.50,651.86 297.75,649.20 297.99,646.57 298.24,644.02 298.49,641.57 298.73,639.24 298.98,637.07 299.22,635.06 299.47,633.24 299.72,631.62 299.96,630.24 300.21,629.08 300.46,628.18 300.70,627.54 300.95,627.17 301.19,627.06 301.44,627.23 301.69,627.68 301.93,628.38 302.18,629.35 302.43,630.56 302.67,632.01 302.92,633.67 303.17,635.54 303.41,637.59 303.66,639.80 303.90,642.14 304.15,644.60 304.40,647.14 304.64,649.73 304.89,652.36 305.14,654.98 305.38,657.58 305.63,660.12 305.87,662.58 306.12,664.93 306.37,667.14 306.61,669.20 306.86,671.07 307.11,672.74 307.35,674.19 307.60,675.41 307.85,676.38 308.09,677.09 308.34,677.54 308.58,677.71 308.83,677.61 309.08,677.23 309.32,676.58 309.57,675.67 309.82,674.51 310.06,673.12 310.31,671.50 310.55,669.69 310.80,667.70 311.05,665.55 311.29,663.26 311.54,660.87 311.79,658.41 312.03,655.88 312.28,653.33 312.52,650.79 312.77,648.27 313.02,645.81 313.26,643.42 313.51,641.15 313.76,639.00 314.00,637.00 314.25,635.17 314.50,633.53 314.74,632.09 314.99,630.87 315.23,629.87 315.48,629.12 315.73,628.63 315.97,628.39 316.22,628.40 316.47,628.68 316.71,629.21 316.96,629.99 317.20,631.02 317.45,632.27 317.70,633.74 317.94,635.41 318.19,637.27 318.44,639.28 318.68,641.44 318.93,643.72 319.17,646.09 319.42,648.53 319.67,651.01 319.91,653.51 320.16,656.00 320.41,658.44 320.65,660.82 320.90,663.11 321.15,665.29 321.39,667.33 321.64,669.20 321.88,670.90 322.13,672.39 322.38,673.67 322.62,674.72 322.87,675.53 323.12,676.09 323.36,676.40 323.61,676.44 323.85,676.22 324.10,675.74 324.35,675.00 324.59,674.03 324.84,672.82 325.09,671.40 325.33,669.77 325.58,667.96 325.82,666.00 326.07,663.89 326.32,661.67 326.56,659.36 326.81,656.99 327.06,654.58 327.30,652.15 327.55,649.74 327.80,647.37 328.04,645.06 328.29,642.83 328.53,640.72 328.78,638.73 329.03,636.90 329.27,635.23 329.52,633.75 329.77,632.47 330.01,631.40 330.26,630.55 330.50,629.95 330.75,629.58 331.00,629.46 331.24,629.59 331.49,629.97 331.74,630.58 331.98,631.44 332.23,632.52 332.47,633.81 332.72,635.31 332.97,636.99 333.21,638.84 333.46,640.84 333.71,642.96 333.95,645.18 334.20,647.48 334.45,649.84 334.69,652.23 334.94,654.61 335.18,656.98 335.43,659.29 335.68,661.54 335.92,663.68 336.17,665.71 336.42,667.59 336.66,669.31 336.91,670.84 337.15,672.18 337.40,673.31 337.65,674.21 337.89,674.88 338.14,675.31 338.39,675.48 338.63,675.41 338.88,675.08 339.13,674.51 339.37,673.70 339.62,672.66 339.86,671.40 340.11,669.95 340.36,668.30 340.60,666.49 340.85,664.54 341.10,662.45 341.34,660.27 341.59,658.01 341.83,655.70 342.08,653.36 342.33,651.02 342.57,648.70 342.82,646.43 343.07,644.24 343.31,642.13 343.56,640.15 343.80,638.30 344.05,636.61 344.30,635.09 344.54,633.76 344.79,632.63 345.04,631.71 345.28,631.02 345.53,630.56 345.78,630.33 346.02,630.33 346.27,630.57 346.51,631.05 346.76,631.76 347.01,632.69 347.25,633.83 347.50,635.18 347.75,636.71 347.99,638.41 348.24,640.27 348.48,642.26 348.73,644.35 348.98,646.54 349.22,648.79 349.47,651.08 349.72,653.39 349.96,655.68 350.21,657.95 350.45,660.15 350.70,662.27 350.95,664.29 351.19,666.18 351.44,667.92 351.69,669.50 351.93,670.89 352.18,672.09 352.43,673.07 352.67,673.83 352.92,674.36 353.16,674.65 353.41,674.70 353.66,674.51 353.90,674.08 354.15,673.41 354.40,672.51 354.64,671.40 354.89,670.09 355.13,668.59 355.38,666.91 355.63,665.09 355.87,663.14 356.12,661.07 356.37,658.92 356.61,656.70 356.86,654.45 357.10,652.18 357.35,649.92 357.60,647.70 357.84,645.53 358.09,643.45 358.34,641.47 358.58,639.61 358.83,637.89 359.08,636.33 359.32,634.95 359.57,633.75 359.81,632.76 360.06,631.98 360.31,631.42 360.55,631.08 360.80,630.98 361.05,631.10 361.29,631.45 361.54,632.02 361.78,632.82 362.03,633.83 362.28,635.04 362.52,636.44 362.77,638.02 363.02,639.75 363.26,641.61 363.51,643.60 363.75,645.68 364.00,647.84 364.25,650.04 364.49,652.28 364.74,654.51 364.99,656.73 365.23,658.90 365.48,661.00 365.73,663.01 365.97,664.91 366.22,666.67 366.46,668.28 366.71,669.72 366.96,670.98 367.20,672.04 367.45,672.88 367.70,673.50 367.94,673.90 368.19,674.06 368.43,673.98 368.68,673.67 368.93,673.13 369.17,672.36 369.42,671.38 369.67,670.20 369.91,668.83 370.16,667.28 370.40,665.58 370.65,663.74 370.90,661.78 371.14,659.73 371.39,657.61 371.64,655.44 371.88,653.24 372.13,651.04 372.38,648.86 372.62,646.73 372.87,644.67 373.11,642.70 373.36,640.83 373.61,639.10 373.85,637.51 374.10,636.09 374.35,634.84 374.59,633.79 374.84,632.93 375.08,632.29 375.33,631.86 375.58,631.65 375.82,631.66 376.07,631.90 376.32,632.36 376.56,633.04 376.81,633.92 377.06,635.01 377.30,636.29 377.55,637.74 377.79,639.34 378.04,641.09 378.29,642.97 378.53,644.94 378.78,647.00 379.03,649.12 379.27,651.27 379.52,653.43 379.76,655.59 380.01,657.71 380.26,659.77 380.50,661.76 380.75,663.65 381.00,665.41 381.24,667.04 381.49,668.51 381.73,669.80 381.98,670.91 382.23,671.82 382.47,672.52 382.72,673.00 382.97,673.25 383.21,673.28 383.46,673.08 383.71,672.66 383.95,672.02 384.20,671.17 384.44,670.12 384.69,668.88 384.94,667.47 385.18,665.90 385.43,664.18 385.68,662.34 385.92,660.41 386.17,658.39 386.41,656.31 386.66,654.20 386.91,652.07 387.15,649.96 387.40,647.87 387.65,645.85 387.89,643.89 388.14,642.04 388.38,640.30 388.63,638.69 388.88,637.24 389.12,635.95 389.37,634.84 389.62,633.91 389.86,633.19 390.11,632.67 390.36,632.37 390.60,632.28 390.85,632.40 391.09,632.75 391.34,633.30 391.59,634.07 391.83,635.03 392.08,636.18 392.33,637.51 392.57,639.00 392.82,640.64 393.06,642.40 393.31,644.27 393.56,646.24 393.80,648.27 394.05,650.34 394.30,652.45 394.54,654.55 394.79,656.63 395.03,658.66 395.28,660.63 395.53,662.52 395.77,664.29 396.02,665.94 396.27,667.44 396.51,668.79 396.76,669.95 397.01,670.93 397.25,671.70 397.50,672.27 397.74,672.62 397.99,672.75 398.24,672.66 398.48,672.35 398.73,671.83 398.98,671.09 399.22,670.16 399.47,669.03 399.71,667.73 399.96,666.27 400.21,664.66 400.45,662.92 400.70,661.07 400.95,659.14 401.19,657.14 401.44,655.09 401.68,653.02 401.93,650.95 402.18,648.90 402.42,646.89 402.67,644.95 402.92,643.10 403.16,641.34 403.41,639.71 403.66,638.22 403.90,636.89 404.15,635.72 404.39,634.74 404.64,633.94 404.89,633.34 405.13,632.95 405.38,632.76 405.63,632.79 405.87,633.03 406.12,633.49 406.36,634.14 406.61,635.00 406.86,636.04 407.10,637.26 407.35,638.65 407.60,640.19 407.84,641.86 408.09,643.64 408.33,645.52 408.58,647.48 408.83,649.49 409.07,651.53 409.32,653.58 409.57,655.62 409.81,657.63 410.06,659.59 410.31,661.46 410.55,663.25 410.80,664.91 411.04,666.44 411.29,667.82 411.54,669.04 411.78,670.07 412.03,670.92 412.28,671.56 412.52,672.00 412.77,672.22 413.01,672.22 413.26,672.02 413.51,671.59 413.75,670.97 414.00,670.14 414.25,669.12 414.49,667.93 414.74,666.57 414.99,665.06 415.23,663.41 415.48,661.66 415.72,659.81 415.97,657.89 416.22,655.91 416.46,653.90 416.71,651.88 416.96,649.87 417.20,647.90 417.45,645.98 417.69,644.13 417.94,642.38 418.19,640.74 418.43,639.23 418.68,637.86 418.93,636.65 419.17,635.61 419.42,634.75 419.66,634.08 419.91,633.61 420.16,633.34 420.40,633.28 420.65,633.42 420.90,633.77 421.14,634.33 421.39,635.07 421.64,636.01 421.88,637.13 422.13,638.41 422.37,639.84 422.62,641.41 422.87,643.10 423.11,644.89 423.36,646.77 423.61,648.70 423.85,650.68 424.10,652.68 424.34,654.67 424.59,656.64 424.84,658.57 425.08,660.43 425.33,662.21 425.58,663.88 425.82,665.43 426.07,666.84 426.31,668.10 426.56,669.18 426.81,670.09 427.05,670.81 427.30,671.33 427.55,671.64 427.79,671.75 428.04,671.65 428.29,671.34 428.53,670.83 428.78,670.12 429.02,669.21 429.27,668.13 429.52,666.87 429.76,665.47 430.01,663.92 430.26,662.25 430.50,660.48 430.75,658.62 430.99,656.70 431.24,654.74 431.49,652.76 431.73,650.77 431.98,648.81 432.23,646.90 432.47,645.05 432.72,643.28 432.96,641.62 433.21,640.08 433.46,638.68 433.70,637.42 433.95,636.34 434.20,635.43 434.44,634.71 434.69,634.18 434.94,633.85 435.18,633.72 435.43,633.79 435.67,634.07 435.92,634.54 436.17,635.21 436.41,636.06 436.66,637.09 436.91,638.28 437.15,639.63 437.40,641.11 437.64,642.71 437.89,644.41 438.14,646.20 438.38,648.06 438.63,649.95 438.88,651.87 439.12,653.79 439.37,655.69 439.61,657.56 439.86,659.36 440.11,661.09 440.35,662.71 440.60,664.23 440.85,665.61 441.09,666.85 441.34,667.93 441.59,668.84 441.83,669.57 442.08,670.12 442.32,670.47 442.57,670.63 442.82,670.59 443.06,670.36 443.31,669.94 443.56,669.32 443.80,668.53 444.05,667.57 444.29,666.45 444.54,665.17 444.79,663.77 445.03,662.24 445.28,660.61 445.53,658.90 445.77,657.12 446.02,655.29 446.26,653.44 446.51,651.58 446.76,649.73 447.00,647.91 447.25,646.14 447.50,644.45 447.74,642.84 447.99,641.34 448.24,639.96 448.48,638.72 448.73,637.63 448.97,636.70 449.22,635.94 449.47,635.36 449.71,634.97 449.96,634.77 450.21,634.77 450.45,634.95 450.70,635.32 450.94,635.88 451.19,636.62 451.44,637.53 451.68,638.61 451.93,639.83 452.18,641.19 452.42,642.67 452.67,644.25 452.92,645.92 453.16,647.67 453.41,649.46 453.65,651.28 453.90,653.12 454.15,654.95 454.39,656.75 454.64,658.50 454.89,660.19 455.13,661.79 455.38,663.29 455.62,664.67 455.87,665.91 456.12,667.02 456.36,667.96 456.61,668.73 456.86,669.33 457.10,669.74 457.35,669.97 457.59,670.01 457.84,669.86 458.09,669.52 458.33,668.99 458.58,668.29 458.83,667.41 459.07,666.38 459.32,665.19 459.57,663.87 459.81,662.43 460.06,660.88 460.30,659.24 460.55,657.52 460.80,655.76 461.04,653.96 461.29,652.15 461.54,650.34 461.78,648.55 462.03,646.81 462.27,645.14 462.52,643.54 462.77,642.05 463.01,640.66 463.26,639.41 463.51,638.30 463.75,637.34 464.00,636.55 464.24,635.94 464.49,635.50 464.74,635.25 464.98,635.19 465.23,635.31 465.48,635.62 465.72,636.12 465.97,636.79 466.22,637.63 466.46,638.63 466.71,639.78 466.95,641.07 467.20,642.48 467.45,644.01 467.69,645.62 467.94,647.30 468.19,649.04 468.43,650.82 468.68,652.61 468.92,654.40 469.17,656.17 469.42,657.90 469.66,659.57 469.91,661.16 470.16,662.66 470.40,664.04 470.65,665.30 470.89,666.42 471.14,667.39 471.39,668.19 471.63,668.83 471.88,669.28 472.13,669.55 472.37,669.64 472.62,669.54 472.87,669.26 473.11,668.79 473.36,668.15 473.60,667.34 473.85,666.37 474.10,665.25 474.34,663.99 474.59,662.60 474.84,661.11 475.08,659.52 475.33,657.86 475.57,656.14 475.82,654.39 476.07,652.61 476.31,650.83 476.56,649.08 476.81,647.36 477.05,645.69 477.30,644.11 477.54,642.61 477.79,641.22 478.04,639.96 478.28,638.83 478.53,637.85 478.78,637.04 479.02,636.39 479.27,635.91 479.52,635.62 479.76,635.51 480.01,635.58 480.25,635.84 480.50,636.28 480.75,636.89 480.99,637.68 481.24,638.62 481.49,639.72 481.73,640.95 481.98,642.31 482.22,643.78 482.47,645.34 482.72,646.98 482.96,648.68 483.21,650.42 483.46,652.18 483.70,653.94 483.95,655.69 484.19,657.40 484.44,659.06 484.69,660.64 484.93,662.14 485.18,663.53 485.43,664.80 485.67,665.94 485.92,666.92 486.17,667.76 486.41,668.42 486.66,668.92 486.90,669.23 487.15,669.36 487.40,669.31 487.64,669.08 487.89,668.66 488.14,668.07 488.38,667.32 488.63,666.40 488.87,665.33 489.12,664.12 489.37,662.79 489.61,661.34 489.86,659.80 490.11,658.18 490.35,656.50 490.60,654.78 490.85,653.03 491.09,651.28 491.34,649.54 491.58,647.84 491.83,646.18 492.08,644.60 492.32,643.10 492.57,641.71 492.82,640.43 493.06,639.29 493.31,638.29 493.55,637.44 493.80,636.76 494.05,636.25 494.29,635.91 494.54,635.76 494.79,635.79 495.03,636.00 495.28,636.39 495.52,636.95 495.77,637.68 496.02,638.58 496.26,639.62 496.51,640.80 496.76,642.11 497.00,643.53 497.25,645.05 497.50,646.65 497.74,648.31 497.99,650.02 498.23,651.75 498.48,653.50 498.73,655.22 498.97,656.92 499.22,658.57 499.47,660.16 499.71,661.65 499.96,663.05 500.20,664.34 500.45,665.49 500.70,666.51 500.94,667.37 501.19,668.07 501.44,668.60 501.68,668.95 501.93,669.13 502.17,669.12 502.42,668.94 502.67,668.57 502.91,668.04 503.16,667.33 503.41,666.46 503.65,665.44 503.90,664.29 504.15,663.00 504.39,661.60 504.64,660.10 504.88,658.52 505.13,656.88 505.38,655.19 505.62,653.47 505.87,651.74 506.12,650.02 506.36,648.33 506.61,646.68 506.85,645.10 507.10,643.60 507.35,642.19 507.59,640.90 507.84,639.73 508.09,638.71 508.33,637.83 508.58,637.11 508.82,636.56 509.07,636.19 509.32,635.99 509.56,635.97 509.81,636.13 510.06,636.46 510.30,636.97 510.55,637.65 510.80,638.49 511.04,639.48 511.29,640.62 511.53,641.88 511.78,643.25 512.03,644.73 512.27,646.29 512.52,647.91 512.77,649.59 513.01,651.29 513.26,653.01 513.50,654.73 513.75,656.41 514.00,658.06 514.24,659.64 514.49,661.15 514.74,662.56 514.98,663.86 515.23,665.03 515.47,666.07 515.72,666.97 515.97,667.70 516.21,668.27 516.46,668.67 516.71,668.89 516.95,668.94 517.20,668.81 517.45,668.49 517.69,668.01 517.94,667.36 518.18,666.54 518.43,665.58 518.68,664.47 518.92,663.23 519.17,661.88 519.42,660.43 519.66,658.89 519.91,657.28 520.15,655.62 520.40,653.93 520.65,652.22 520.89,650.51 521.14,648.83 521.39,647.19 521.63,645.61 521.88,644.10 522.12,642.69 522.37,641.38 522.62,640.19 522.86,639.14 523.11,638.23 523.36,637.48 523.60,636.89 523.85,636.48 524.10,636.23 524.34,636.16 524.59,636.27 524.83,636.56 525.08,637.02 525.33,637.65 525.57,638.44 525.82,639.38 526.07,640.46 526.31,641.68 526.56,643.01 526.80,644.44 527.05,645.96 527.30,647.55 527.54,649.19 527.79,650.87 528.04,652.57 528.28,654.26 528.53,655.93 528.78,657.57 529.02,659.15 529.27,660.66 529.51,662.08 529.76,663.39 530.01,664.58 530.25,665.64 530.50,666.56 530.75,667.33 530.99,667.93 531.24,668.37 531.48,668.63 531.73,668.72 531.98,668.63 532.22,668.37 532.47,667.93 532.72,667.33 532.96,666.56 533.21,665.65 533.45,664.59 533.70,663.40 533.95,662.09 534.19,660.68 534.44,659.18 534.69,657.61 534.93,655.98 535.18,654.32 535.43,652.64 535.67,650.96 535.92,649.29 536.16,647.66 536.41,646.08 536.66,644.58 536.90,643.16 537.15,641.84 537.40,640.64 537.64,639.57 537.89,638.64 538.13,637.86 538.38,637.24 538.63,636.79 538.87,636.51 539.12,636.40 539.37,636.47 539.61,636.71 539.86,637.12 540.10,637.70 540.35,638.44 540.60,639.33 540.84,640.36 541.09,641.53 541.34,642.82 541.58,644.20 541.83,645.68 542.08,647.24 542.32,648.84 542.57,650.49 542.81,652.16 543.06,653.83 543.31,655.49 543.55,657.11 543.80,658.69 544.05,660.19 544.29,661.61 544.54,662.93 544.78,664.14 545.03,665.22 545.28,666.16 545.52,666.95 545.77,667.59 546.02,668.06 546.26,668.36 546.51,668.49 546.75,668.45 547.00,668.23 547.25,667.84 547.49,667.29 547.74,666.57 547.99,665.70 548.23,664.69 548.48,663.55 548.73,662.29 548.97,660.92 549.22,659.46 549.46,657.92 549.71,656.33 549.96,654.70 550.20,653.04 550.45,651.38 550.70,649.73 550.94,648.11 551.19,646.54 551.43,645.04 551.68,643.61 551.93,642.29 552.17,641.07 552.42,639.98 552.67,639.03 552.91,638.22 553.16,637.57 553.40,637.08 553.65,636.76 553.90,636.61 554.14,636.63 554.39,636.83 554.64,637.19 554.88,637.72 555.13,638.41 555.38,639.26 555.62,640.24 555.87,641.36 556.11,642.60 556.36,643.95 556.61,645.39 556.85,646.91 557.10,648.48 557.35,650.10 557.59,651.75 557.84,653.40 558.08,655.04 558.33,656.65 558.58,658.22 558.82,659.73 559.07,661.15 559.32,662.49 559.56,663.71 559.81,664.81 560.06,665.78 560.30,666.60 560.55,667.27 560.79,667.78 561.04,668.12 561.29,668.29 561.53,668.29 561.78,668.12 562.03,667.78 562.27,667.28 562.52,666.61 562.76,665.79 563.01,664.83 563.26,663.74 563.50,662.52 563.75,661.19 564.00,659.78 564.24,658.28 564.49,656.72 564.73,655.11 564.98,653.48 565.23,651.84 565.47,650.20 565.72,648.59 565.97,647.03 566.21,645.52 566.46,644.09 566.71,642.75 566.95,641.52 567.20,640.41 567.44,639.43 567.69,638.59 567.94,637.90 568.18,637.37 568.43,637.01 568.68,636.81 568.92,636.78 569.17,636.93 569.41,637.24 569.66,637.72 569.91,638.35 570.15,639.14 570.40,640.08 570.65,641.15 570.89,642.34 571.14,643.64 571.38,645.04 571.63,646.52 571.88,648.06 572.12,649.65 572.37,651.27 572.62,652.90 572.86,654.53 573.11,656.14 573.36,657.70 573.60,659.21 573.85,660.64 574.09,661.99 574.34,663.23 574.59,664.36 574.83,665.35 575.08,666.21 575.33,666.92 575.57,667.47 575.82,667.86 576.06,668.09 576.31,668.14 576.56,668.03 576.80,667.74 577.05,667.29 577.30,666.69 577.54,665.92 577.79,665.02 578.03,663.98 578.28,662.81 578.53,661.53 578.77,660.16 579.02,658.70 579.27,657.18 579.51,655.61 579.76,654.00 580.01,652.38 580.25,650.76 580.50,649.16 580.74,647.60 580.99,646.09 581.24,644.65 581.48,643.29 581.73,642.04 581.98,640.90 582.22,639.89 582.47,639.01 582.71,638.28 582.96,637.70 583.21,637.28 583.45,637.03 583.70,636.94 583.95,637.03 584.19,637.28 584.44,637.69 584.68,638.27 584.93,639.00 585.18,639.87 585.42,640.88 585.67,642.02 585.92,643.27 586.16,644.61 586.41,646.05 586.66,647.55 586.90,649.10 587.15,650.69 587.39,652.30 587.64,653.91 587.89,655.51 588.13,657.07 588.38,658.58 588.63,660.03 588.87,661.39 589.12,662.66 589.36,663.81 589.61,664.85 589.86,665.75 590.10,666.50 590.35,667.11 590.60,667.56 590.84,667.84 591.09,667.96 591.33,667.91 591.58,667.70 591.83,667.32 592.07,666.78 592.32,666.09 592.57,665.25 592.81,664.27 593.06,663.17 593.31,661.95 593.55,660.63 593.80,659.23 594.04,657.75 594.29,656.21 594.54,654.64 594.78,653.05 595.03,651.44 595.28,649.86 595.52,648.30 595.77,646.78 596.01,645.33 596.26,643.96 596.51,642.68 596.75,641.50 597.00,640.45 597.25,639.53 597.49,638.74 597.74,638.11 597.99,637.63 598.23,637.31 598.48,637.16 598.72,637.17 598.97,637.34 599.22,637.68 599.46,638.18 599.71,638.84 599.96,639.64 600.20,640.58 600.45,641.65 600.69,642.83 600.94,644.12 601.19,645.50 601.43,646.95 601.68,648.46 601.93,650.02 602.17,651.60 602.42,653.19 602.66,654.77 602.91,656.33 603.16,657.84 603.40,659.30 603.65,660.68 603.90,661.97 604.14,663.16 604.39,664.24 604.64,665.18 604.88,665.99 605.13,666.66 605.37,667.17 605.62,667.52 605.87,667.71 606.11,667.74 606.36,667.60 606.61,667.30 606.85,666.83 607.10,666.22 607.34,665.46 607.59,664.55 607.84,663.52 608.08,662.37 608.33,661.12 608.58,659.77 608.82,658.34 609.07,656.86 609.31,655.32 609.56,653.76 609.81,652.18 610.05,650.61 610.30,649.06 610.55,647.55 610.79,646.09 611.04,644.70 611.29,643.40 611.53,642.19 611.78,641.10 612.02,640.13 612.27,639.29 612.52,638.60 612.76,638.06 613.01,637.67 613.26,637.45 613.50,637.39 613.75,637.48 613.99,637.75 614.24,638.17 614.49,638.74 614.73,639.46 614.98,640.33 615.23,641.32 615.47,642.44 615.72,643.66 615.96,644.97 616.21,646.37 616.46,647.83 616.70,649.34 616.95,650.89 617.20,652.45 617.44,654.01 617.69,655.55 617.94,657.06 618.18,658.52 618.43,659.91 618.67,661.22 618.92,662.44 619.17,663.55 619.41,664.54 619.66,665.40 619.91,666.12 620.15,666.69 620.40,667.11 620.64,667.37 620.89,667.47 621.14,667.41 621.38,667.18 621.63,666.80 621.88,666.27 622.12,665.59 622.37,664.77 622.61,663.81 622.86,662.74 623.11,661.55 623.35,660.27 623.60,658.91 623.85,657.47 624.09,655.99 624.34,654.47 624.59,652.93 624.83,651.38 625.08,649.85 625.32,648.35 625.57,646.89 625.82,645.50 626.06,644.18 626.31,642.95 626.56,641.83 626.80,640.82 627.05,639.94 627.29,639.19 627.54,638.59 627.79,638.14 628.03,637.85 628.28,637.71 628.53,637.73 628.77,637.91 629.02,638.25 629.26,638.75 629.51,639.39 629.76,640.17 630.00,641.08 630.25,642.12 630.50,643.26 630.74,644.51 630.99,645.84 631.24,647.24 631.48,648.70 631.73,650.19 631.97,651.71 632.22,653.23 632.47,654.75 632.71,656.24 632.96,657.69 633.21,659.07 633.45,660.39 633.70,661.62 633.94,662.75 634.19,663.76 634.44,664.66 634.68,665.42 634.93,666.04 635.18,666.51 635.42,666.83 635.67,667.00 635.92,667.01 636.16,666.86 636.41,666.56 636.65,666.11 636.90,665.51 637.15,664.77 637.39,663.90 637.64,662.91 637.89,661.81 638.13,660.61 638.38,659.33 638.62,657.98 638.87,656.57 639.12,655.11 639.36,653.63 639.61,652.15 639.86,650.67 640.10,649.21 640.35,647.79 640.59,646.42 640.84,645.12 641.09,643.91 641.33,642.79 641.58,641.77 641.83,640.87 642.07,640.10 642.32,639.47 642.57,638.97 642.81,638.63 643.06,638.43 643.30,638.38 643.55,638.49 643.80,638.75 644.04,639.15 644.29,639.70 644.54,640.38 644.78,641.20 645.03,642.13 645.27,643.17 645.52,644.32 645.77,645.54 646.01,646.84 646.26,648.20 646.51,649.61 646.75,651.04 647.00,652.49 647.24,653.93 647.49,655.36 647.74,656.75 647.98,658.10 648.23,659.38 648.48,660.59 648.72,661.71 648.97,662.73 649.22,663.64 649.46,664.42 649.71,665.08 649.95,665.60 650.20,665.98 650.45,666.22 650.69,666.31 650.94,666.25 651.19,666.04 651.43,665.68 651.68,665.19 651.92,664.56 652.17,663.79 652.42,662.91 652.66,661.92 652.91,660.82 653.16,659.64 653.40,658.38 653.65,657.06 653.89,655.69 654.14,654.28 654.39,652.86 654.63,651.44 654.88,650.02 655.13,648.64 655.37,647.29 655.62,646.01 655.87,644.79 656.11,643.66 656.36,642.62 656.60,641.69 656.85,640.88 657.10,640.19 657.34,639.64 657.59,639.23 657.84,638.95 658.08,638.83 658.33,638.85 658.57,639.02 658.82,639.33 659.07,639.79 659.31,640.38 659.56,641.11 659.81,641.95 660.05,642.91 660.30,643.97 660.54,645.12 660.79,646.36 661.04,647.65 661.28,649.00 661.53,650.39 661.78,651.80 662.02,653.21 662.27,654.62 662.52,656.00 662.76,657.35 663.01,658.64 663.25,659.86 663.50,661.01 663.75,662.06 663.99,663.01 664.24,663.85 664.49,664.56 664.73,665.14 664.98,665.59 665.22,665.89 665.47,666.05 665.72,666.07 665.96,665.94 666.21,665.66 666.46,665.24 666.70,664.69 666.95,664.00 667.19,663.19 667.44,662.26 667.69,661.23 667.93,660.11 668.18,658.90 668.43,657.63 668.67,656.30 668.92,654.93 669.17,653.54 669.41,652.13 669.66,650.73 669.90,649.35 670.15,648.00 670.40,646.70 670.64,645.47 670.89,644.31 671.14,643.24 671.38,642.27 671.63,641.41 671.87,640.67 672.12,640.06 672.37,639.58 672.61,639.25 672.86,639.05 673.11,639.00 673.35,639.10 673.60,639.34 673.85,639.72 674.09,640.24 674.34,640.90 674.58,641.67 674.83,642.57 675.08,643.57 675.32,644.66 675.57,645.84 675.82,647.09 676.06,648.40 676.31,649.76 676.55,651.14 676.80,652.54 677.05,653.93 677.29,655.31 677.54,656.66 677.79,657.97 678.03,659.21 678.28,660.38 678.52,661.47 678.77,662.46 679.02,663.34 679.26,664.10 679.51,664.74 679.76,665.25 680.00,665.62 680.25,665.85 680.50,665.93 680.74,665.87 680.99,665.66 681.23,665.31 681.48,664.83 681.73,664.21 681.97,663.46 682.22,662.60 682.47,661.63 682.71,660.56 682.96,659.40 683.20,658.17 683.45,656.88 683.70,655.54 683.94,654.17 684.19,652.78 684.44,651.39 684.68,650.01 684.93,648.66 685.17,647.35 685.42,646.10 685.67,644.91 685.91,643.81 686.16,642.80 686.41,641.90 686.65,641.11 686.90,640.45 687.15,639.91 687.39,639.51 687.64,639.25 687.88,639.14 688.13,639.16 688.38,639.34 688.62,639.65 688.87,640.10 689.12,640.69 689.36,641.40 689.61,642.24 689.85,643.18 690.10,644.22 690.35,645.36 690.59,646.57 690.84,647.84 691.09,649.16 691.33,650.52 691.58,651.90 691.82,653.29 692.07,654.67 692.32,656.02 692.56,657.34 692.81,658.60 693.06,659.80 693.30,660.91 693.55,661.94 693.80,662.86 694.04,663.68 694.29,664.37 694.53,664.93 694.78,665.36 695.03,665.65 695.27,665.80 695.52,665.80 695.77,665.66 696.01,665.38 696.26,664.96 696.50,664.41 696.75,663.73 697.00,662.92 697.24,662.01 697.49,660.99 697.74,659.88 697.98,658.69 698.23,657.43 698.47,656.13 698.72,654.78 698.97,653.41 699.21,652.03 699.46,650.65 699.71,649.30 699.95,647.97 700.20,646.70 700.45,645.50 700.69,644.36 700.94,643.32 701.18,642.37 701.43,641.54 701.68,640.82 701.92,640.23 702.17,639.77 702.42,639.45 702.66,639.27 702.91,639.23 703.15,639.34 703.40,639.59 703.65,639.98 703.89,640.50 704.14,641.15 704.39,641.92 704.63,642.81 704.88,643.80 705.12,644.89 705.37,646.06 705.62,647.30 705.86,648.59 706.11,649.92 706.36,651.29 706.60,652.66 706.85,654.03 707.10,655.39 707.34,656.71 707.59,657.99 707.83,659.21 708.08,660.36 708.33,661.42 708.57,662.38 708.82,663.24 709.07,663.98 709.31,664.60 709.56,665.09 709.80,665.44 710.05,665.65 710.30,665.72 710.54,665.65 710.79,665.43 711.04,665.08 711.28,664.59 711.53,663.97 711.78,663.22 712.02,662.36 712.27,661.40 712.51,660.33 712.76,659.19 713.01,657.97 713.25,656.70 713.50,655.37 713.75,654.02 713.99,652.65 714.24,651.29 714.48,649.93 714.73,648.60 714.98,647.32 715.22,646.09 715.47,644.93 715.72,643.85 715.96,642.87 716.21,641.99 716.45,641.22 716.70,640.58 716.95,640.06 717.19,639.68 717.44,639.44 717.69,639.34 717.93,639.38 718.18,639.56 718.43,639.88 718.67,640.34 718.92,640.93 719.16,641.64 719.41,642.47 719.66,643.41 719.90,644.45 720.15,645.57 720.40,646.76 720.64,648.02 720.89,649.33 721.13,650.67 721.38,652.03 721.63,653.39 721.87,654.74 722.12,656.07 722.37,657.36 722.61,658.60 722.86,659.77 723.10,660.86 723.35,661.87 723.60,662.77 723.84,663.56 724.09,664.23 724.34,664.77 724.58,665.18 724.83,665.46 725.08,665.59 725.32,665.58 725.57,665.44 725.81,665.15 726.06,664.73 726.31,664.17 726.55,663.49 726.80,662.69 727.05,661.78 727.29,660.77 727.54,659.68 727.78,658.50 728.03,657.26 728.28,655.97 728.52,654.65 728.77,653.30 729.02,651.94 729.26,650.59 729.51,649.26 729.75,647.96 730.00,646.72 730.25,645.53 730.49,644.43 730.74,643.41 730.99,642.48 731.23,641.67 731.48,640.97 731.73,640.40 731.97,639.96 732.22,639.65 732.46,639.48 732.71,639.45 732.96,639.57 733.20,639.82 733.45,640.21 733.70,640.73 733.94,641.38 734.19,642.14 734.43,643.02 734.68,644.00 734.93,645.07 735.17,646.23 735.42,647.44 735.67,648.72 735.91,650.03 736.16,651.37 736.40,652.72 736.65,654.07 736.90,655.40 737.14,656.70 737.39,657.96 737.64,659.15 737.88,660.28 738.13,661.31 738.38,662.26 738.62,663.10 738.87,663.82 739.11,664.42 739.36,664.90 739.61,665.24 739.85,665.44 740.10,665.50 740.35,665.43 740.59,665.21 740.84,664.86 741.08,664.37 741.33,663.76 741.58,663.03 741.82,662.18 742.07,661.23 742.32,660.18 742.56,659.05 742.81,657.86 743.05,656.60 743.30,655.30 743.55,653.97 743.79,652.63 744.04,651.28 744.29,649.95 744.53,648.65 744.78,647.38 745.03,646.18 745.27,645.04 745.52,643.98 745.76,643.01 746.01,642.15 746.26,641.40 746.50,640.76 746.75,640.26 747.00,639.88 747.24,639.64 747.49,639.54 747.73,639.58 747.98,639.76 748.23,640.08 748.47,640.53 748.72,641.10 748.97,641.80 749.21,642.62 749.46,643.54 749.71,644.56 749.95,645.66 750.20,646.83 750.44,648.07 750.69,649.35 750.94,650.67 751.18,652.01 751.43,653.35 751.68,654.68 751.92,655.99 752.17,657.26 752.41,658.48 752.66,659.63 752.91,660.71 753.15,661.70 753.40,662.59 753.65,663.37 753.89,664.03 754.14,664.57 754.38,664.98 754.63,665.26 754.88,665.40 755.12,665.39 755.37,665.25 755.62,664.98 755.86,664.57 756.11,664.03 756.36,663.36 756.60,662.58 756.85,661.69 757.09,660.70 757.34,659.63 757.59,658.48 757.83,657.26 758.08,655.99 758.33,654.69 758.57,653.36 758.82,652.02 759.06,650.69 759.31,649.38 759.56,648.10 759.80,646.87 760.05,645.70 760.30,644.61 760.54,643.60 760.79,642.68 761.03,641.88 761.28,641.18 761.53,640.61 761.77,640.16 762.02,639.85 762.27,639.68 762.51,639.64 762.76,639.74 763.01,639.98 763.25,640.35 763.50,640.86 763.74,641.49 763.99,642.23 764.24,643.09 764.48,644.05 764.73,645.10 764.98,646.22 765.22,647.42 765.47,648.67 765.71,649.96 765.96,651.28 766.21,652.61 766.45,653.94 766.70,655.25 766.95,656.53 767.19,657.77 767.44,658.95 767.68,660.07 767.93,661.10 768.18,662.03 768.42,662.87 768.67,663.59 768.92,664.20 769.16,664.67 769.41,665.02 769.66,665.23 769.90,665.31 770.15,665.24 770.39,665.04 770.64,664.71 770.89,664.24 771.13,663.65 771.38,662.94 771.63,662.11 771.87,661.19 772.12,660.17 772.36,659.06 772.61,657.89 772.86,656.66 773.10,655.39 773.35,654.08 773.60,652.76 773.84,651.44 774.09,650.12 774.33,648.84 774.58,647.59 774.83,646.40 775.07,645.27 775.32,644.22 775.57,643.26 775.81,642.40 776.06,641.65 776.31,641.01 776.55,640.50 776.80,640.12 777.04,639.88 777.29,639.76 777.54,639.79 777.78,639.95 778.03,640.25 778.28,640.68 778.52,641.23 778.77,641.91 779.01,642.70 779.26,643.59 779.51,644.58 779.75,645.66 780.00,646.81 780.25,648.02 780.49,649.27 780.74,650.57 780.98,651.88 781.23,653.20 781.48,654.51 781.72,655.79 781.97,657.05 782.22,658.25 782.46,659.39 782.71,660.45 782.96,661.43 783.20,662.32 783.45,663.09 783.69,663.76 783.94,664.30 784.19,664.71 784.43,665.00 784.68,665.14 784.93,665.16 785.17,665.03 785.42,664.77 785.66,664.38 785.91,663.87 786.16,663.23 786.40,662.47 786.65,661.61 786.90,660.65 787.14,659.60 787.39,658.48 787.64,657.29 787.88,656.05 788.13,654.78 788.37,653.48 788.62,652.17 788.87,650.87 789.11,649.58 789.36,648.32 789.61,647.12 789.85,645.97 790.10,644.89 790.34,643.89 790.59,642.99 790.84,642.19 791.08,641.50 791.33,640.93 791.58,640.48 791.82,640.16 792.07,639.98 792.31,639.93 792.56,640.02 792.81,640.24 793.05,640.59 793.30,641.08 793.55,641.68 793.79,642.40 794.04,643.23 794.29,644.15 794.53,645.17 794.78,646.26 795.02,647.42 795.27,648.64 795.52,649.89 795.76,651.17 796.01,652.47 796.26,653.76 796.50,655.04 796.75,656.29 796.99,657.50 797.24,658.66 797.49,659.75 797.73,660.76 797.98,661.68 798.23,662.50 798.47,663.21 798.72,663.81 798.96,664.28 799.21,664.63 799.46,664.85 799.70,664.93 799.95,664.88"/></g>
<path d="M61.30,727.50h18.2M800,727.50h-18.2M61.30,712.50h9.2M800,712.50h-9.2M61.30,697.50h9.2M800,697.50h-9.2M61.30,682.50h9.2M800,682.50h-9.2M61.30,667.50h9.2M800,667.50h-9.2M61.30,652.50h18.2M800,652.50h-18.2M61.30,637.50h9.2M800,637.50h-9.2M61.30,622.50h9.2M800,622.50h-9.2M61.30,607.50h9.2M800,607.50h-9.2M61.30,592.50h9.2M800,592.50h-9.2M61.30,577.50h18.2M800,577.50h-18.2M61.30,562.50h9.2M800,562.50h-9.2M61.30,547.50h9.2M800,547.50h-9.2M61.30,532.50h9.2M800,532.50h-9.2M61.30,517.50h9.2M800,517.50h-9.2M61.30,502.50h18.2M800,502.50h-18.2M61.30,487.50h9.2M800,487.50h-9.2M61.30,472.50h9.2M800,472.50h-9.2M61.30,457.50h9.2M800,457.50h-9.2M61.30,442.50h9.2M800,442.50h-9.2M61.30,427.50h18.2M800,427.50h-18.2M61.30,412.50h9.2M800,412.50h-9.2M61.30,397.50h9.2M800,397.50h-9.2M61.30,382.50h9.2M800,382.50h-9.2M61.30,367.50h9.2M800,367.50h-9.2M61.30,352.50h18.2M800,352.50h-18.2M61.30,337.50h9.2M800,337.50h-9.2M61.30,322.50h9.2M800,322.50h-9.2M61.30,307.50h9.2M800,307.50h-9.2M61.30,292.50h9.2M800,292.50h-9.2M61.30,277.50h18.2M800,277.50h-18.2M61.30,262.50h9.2M800,262.50h-9.2M61.30,247.50h9.2M800,247.50h-9.2M61.30,232.50h9.2M800,232.50h-9.2M61.30,217.50h9.2M800,217.50h-9.2M61.30,202.50h18.2M800,202.50h-18.2M61.30,187.50h9.2M800,187.50h-9.2M61.30,172.50h9.2M800,172.50h-9.2M61.30,157.50h9.2M800,157.50h-9.2M61.30,142.50h9.2M800,142.50h-9.2M61.30,127.50h18.2M800,127.50h-18.2M61.30,112.50h9.2M800,112.50h-9.2M61.30,97.50h9.2M800,97.50h-9.2M61.30,82.50h9.2M800,82.50h-9.2M61.30,67.50h9.2M800,67.50h-9.2M61.30,52.50h18.2M800,52.50h-18.2M61.30,37.50h9.2M800,37.50h-9.2M61.30,22.50h9.2M800,22.50h-9.2M61.30,7.50h9.2M800,7.50h-9.2M88.16,742.3v-9M88.16,0.5v9M115.02,742.3v-9M115.02,0.5v9M141.88,742.3v-9M141.88,0.5v9M168.74,742.3v-9M168.74,0.5v9M195.60,742.3v-18.2M195.60,0.5v18.2M222.46,742.3v-9M222.46,0.5v9M249.32,742.3v-9M249.32,0.5v9M276.18,742.3v-9M276.18,0.5v9M303.04,742.3v-9M303.04,0.5v9M329.90,742.3v-18.2M329.90,0.5v18.2M356.76,742.3v-9M356.76,0.5v9M383.62,742.3v-9M383.62,0.5v9M410.48,742.3v-9M410.48,0.5v9M437.34,742.3v-9M437.34,0.5v9M464.20,742.3v-18.2M464.20,0.5v18.2M491.06,742.3v-9M491.06,0.5v9M517.92,742.3v-9M517.92,0.5v9M544.78,742.3v-9M544.78,0.5v9M571.64,742.3v-9M571.64,0.5v9M598.50,742.3v-18.2M598.50,0.5v18.2M625.36,742.3v-9M625.36,0.5v9M652.22,742.3v-9M652.22,0.5v9M679.08,742.3v-9M679.08,0.5v9M705.94,742.3v-9M705.94,0.5v9M732.80,742.3v-18.2M732.80,0.5v18.2M759.66,742.3v-9M759.66,0.5v9M786.52,742.3v-9M786.52,0.5v9" stroke="#231f20" stroke-width="1.2" fill="none"/>
<rect x="61.3" y="0.5" width="738.7" height="741.8" fill="none" stroke="#231f20" stroke-width="1.6"/>
<g font-size="35"><text x="53.8" y="738.0" text-anchor="end">-1</text><text x="53.8" y="663.0" text-anchor="end">0</text><text x="53.8" y="588.0" text-anchor="end">1</text><text x="53.8" y="513.0" text-anchor="end">2</text><text x="53.8" y="438.0" text-anchor="end">3</text><text x="53.8" y="363.0" text-anchor="end">4</text><text x="53.8" y="288.0" text-anchor="end">5</text><text x="53.8" y="213.0" text-anchor="end">6</text><text x="53.8" y="138.0" text-anchor="end">7</text><text x="53.8" y="63.0" text-anchor="end">8</text><text x="61.3" y="776.2" text-anchor="middle">0</text><text x="195.6" y="776.2" text-anchor="middle">10</text><text x="329.9" y="776.2" text-anchor="middle">20</text><text x="464.2" y="776.2" text-anchor="middle">30</text><text x="598.5" y="776.2" text-anchor="middle">40</text><text x="732.8" y="776.2" text-anchor="middle">50</text>
<text x="349.5" y="50.0" textLength="101.03" lengthAdjust="spacingAndGlyphs">(GaAs)</text>
<text x="452.5" y="56.5" font-size="25" textLength="23.8" lengthAdjust="spacingAndGlyphs">10</text>
<text x="477.0" y="50.0" textLength="104.14" lengthAdjust="spacingAndGlyphs">/(AlAs)</text>
<text x="582.5" y="56.5" font-size="25" textLength="23.4" lengthAdjust="spacingAndGlyphs">10</text>
<text x="615.0" y="50.0" textLength="162.31" lengthAdjust="spacingAndGlyphs">superlattice</text>
<text x="367.5" y="84.6" textLength="325.76" lengthAdjust="spacingAndGlyphs">Total number of period</text>
<text x="699.5" y="84.6" font-style="italic" textLength="24.96" lengthAdjust="spacingAndGlyphs">N</text>
<text x="722.0" y="84.6" textLength="54.88" lengthAdjust="spacingAndGlyphs">: 20</text>
<text x="524.0" y="161.2" textLength="255.7" lengthAdjust="spacingAndGlyphs">Gaussian function</text>
<text x="523.0" y="327.8" textLength="250.06" lengthAdjust="spacingAndGlyphs">Hyperbolic secant</text>
<text x="466.5" y="464.0" textLength="311.85" lengthAdjust="spacingAndGlyphs">Cardinal sine function</text>
<text x="500.0" y="619.0" textLength="278.18" lengthAdjust="spacingAndGlyphs">Lorentzian function</text>
<text x="318.0" y="810.7" textLength="223.74" lengthAdjust="spacingAndGlyphs">Time Delay (ps)</text>

<text transform="translate(24.75,535.2) rotate(-90)" textLength="326.5" lengthAdjust="spacingAndGlyphs">Normarized Amplitude</text>
</g>
</svg>
</body></html>
